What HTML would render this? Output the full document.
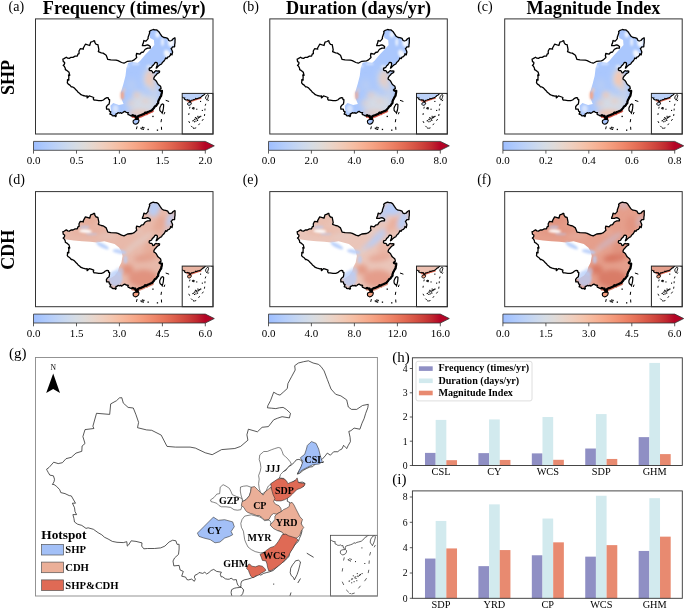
<!DOCTYPE html>
<html><head><meta charset="utf-8"><title>Figure</title>
<style>html,body{margin:0;padding:0;background:#fff;width:685px;height:609px;overflow:hidden}
svg{display:block;font-family:"Liberation Serif","Times New Roman",serif;}</style></head>
<body><svg width="685" height="609" viewBox="0 0 685 609">
<rect width="685" height="609" fill="#fff"/>
<defs>
<linearGradient id="cbgrad" x1="0" y1="0" y2="0" x2="0.9502"><stop offset="0.00" stop-color="#9ebeff"/><stop offset="0.05" stop-color="#aac7fd"/><stop offset="0.10" stop-color="#b6cefa"/><stop offset="0.15" stop-color="#c1d4f4"/><stop offset="0.20" stop-color="#ccd9ed"/><stop offset="0.25" stop-color="#d6dce4"/><stop offset="0.30" stop-color="#dfdbd9"/><stop offset="0.35" stop-color="#e8d6cc"/><stop offset="0.40" stop-color="#efcfbf"/><stop offset="0.45" stop-color="#f3c7b1"/><stop offset="0.50" stop-color="#f6bda2"/><stop offset="0.55" stop-color="#f7b194"/><stop offset="0.60" stop-color="#f6a586"/><stop offset="0.65" stop-color="#f39778"/><stop offset="0.70" stop-color="#ef886b"/><stop offset="0.75" stop-color="#e9785d"/><stop offset="0.80" stop-color="#e16751"/><stop offset="0.85" stop-color="#d75445"/><stop offset="0.90" stop-color="#cc403a"/><stop offset="0.95" stop-color="#c0282f"/><stop offset="1.00" stop-color="#b40426"/></linearGradient>
<clipPath id="cnclip"><path d="M27.4,40.1 28.5,39.7 30.8,38.3 32.2,39.3 33.8,39.5 35.5,38.4 37.5,38.4 39.6,37.3 41.8,37.2 42.4,35.3 43.6,34.7 43.5,32.1 44.8,29.8 47.9,30.2 47.7,29.3 49.9,25.3 54.2,26.6 55.2,23.2 57.3,22.6 58.4,21.8 59.1,21.9 59.4,23.7 60.7,25.4 62.4,25.8 62.9,28.2 63.4,30.9 62.8,32.7 65.8,33.9 67.6,34.2 70.7,36.3 72.3,40.5 75.3,41.0 80.6,41.3 82.5,41.8 86.1,43.6 88.5,44.3 92.0,42.4 96.7,41.9 98.7,41.0 101.2,38.6 100.7,36.6 101.1,34.6 104.3,35.3 105.8,33.6 107.9,33.1 109.5,30.6 110.6,29.9 112.2,29.2 114.7,29.2 114.8,27.6 113.2,26.5 112.1,26.0 110.9,26.3 109.7,26.7 108.3,26.8 106.9,26.8 107.0,26.0 107.7,24.4 108.4,21.6 109.6,22.1 110.5,22.2 111.6,21.0 112.6,19.8 112.6,18.3 113.4,16.1 114.2,13.9 113.9,12.7 114.9,11.8 116.4,11.1 117.8,10.6 119.3,11.0 121.0,11.0 121.9,11.5 123.1,12.5 124.6,14.8 125.6,16.2 126.4,17.4 128.3,18.6 130.1,18.7 132.2,19.5 133.3,21.6 134.5,22.1 136.2,21.6 137.7,19.9 139.4,18.9 139.6,20.1 139.5,22.0 139.5,23.9 139.2,25.6 139.1,27.9 137.1,28.0 136.3,29.2 135.6,29.6 136.6,31.6 137.1,33.1 136.8,34.5 136.5,35.9 136.0,35.5 135.1,34.9 134.9,36.4 134.1,37.1 133.7,37.8 132.2,38.2 131.4,39.7 130.1,39.1 129.6,40.3 128.7,41.9 127.7,42.9 127.0,43.4 126.2,44.7 125.8,45.3 124.9,45.6 123.8,46.4 122.6,47.4 121.5,48.7 120.7,49.2 121.1,47.9 121.5,46.8 121.9,44.8 121.4,43.7 120.3,43.5 119.4,43.8 118.8,44.9 117.8,46.2 116.9,46.8 116.1,48.4 115.0,49.1 114.0,49.1 113.7,49.8 113.7,51.1 114.6,51.7 115.8,51.7 116.8,52.5 117.3,53.9 118.6,53.8 119.4,52.5 120.3,51.8 121.8,52.3 123.1,52.0 124.1,52.2 123.9,53.6 122.2,54.4 121.1,55.4 120.6,56.2 119.8,56.8 118.8,58.2 118.3,59.3 118.5,60.6 119.6,61.0 120.9,62.4 121.9,64.4 122.7,65.5 124.0,66.5 125.1,67.4 125.4,68.7 125.6,69.6 124.4,70.2 123.6,71.1 125.3,71.9 126.5,72.0 126.3,73.8 125.9,75.5 125.7,76.9 124.8,78.1 124.1,79.5 123.3,81.0 122.7,82.7 122.7,84.2 121.6,85.4 120.7,86.9 119.3,87.6 118.5,89.0 117.5,90.2 116.4,91.4 115.0,92.0 113.6,92.6 112.2,93.1 111.0,94.0 109.6,93.6 109.2,94.4 108.3,95.0 106.8,95.6 105.2,96.3 103.5,96.8 102.3,97.5 102.0,98.8 102.2,99.8 101.4,100.0 100.7,99.4 100.1,98.1 99.8,96.9 98.6,97.0 97.3,96.3 96.6,96.7 95.9,96.9 94.7,96.6 93.4,95.8 92.7,95.8 92.3,94.6 92.8,93.7 90.6,93.4 89.3,92.5 88.1,93.0 87.1,93.9 86.0,94.5 85.2,93.7 84.2,94.2 82.5,93.8 81.8,94.6 80.6,94.9 80.3,95.8 80.7,96.7 80.2,97.7 79.0,96.7 77.5,97.0 76.8,96.8 76.2,95.6 74.4,95.2 75.3,93.0 73.9,92.3 73.5,90.2 71.1,90.3 70.9,88.0 71.7,86.7 73.6,85.2 74.0,82.9 74.1,80.8 73.2,80.7 72.9,79.1 71.5,78.8 69.9,79.4 67.9,81.1 66.0,81.7 63.2,81.7 60.2,81.3 58.6,81.3 57.8,80.0 58.2,78.6 55.6,77.6 53.7,77.0 52.2,78.6 51.6,79.0 51.7,77.1 50.2,77.2 47.5,76.6 45.5,75.8 44.0,74.4 42.6,73.4 41.7,72.1 40.4,70.9 38.7,69.0 36.7,67.9 35.8,67.9 34.4,66.2 32.8,65.2 31.8,64.0 32.0,62.4 32.0,60.8 33.4,61.2 33.2,59.7 33.4,58.1 33.0,56.1 34.3,56.5 33.4,53.1 32.7,52.7 31.3,51.5 29.8,50.7 29.8,49.4 29.0,47.8 28.2,46.7 27.7,46.5 28.6,45.7 29.1,44.7 29.1,43.4 27.8,42.7 27.6,41.5 27.4,40.6Z"/></clipPath>
<clipPath id="frameclip"><rect x="0" y="0" width="177.5" height="115.1"/></clipPath>
<clipPath id="insetclip"><rect x="146.7" y="74.5" width="30.8" height="40.6"/></clipPath>
<clipPath id="gclip"><rect x="35.5" y="357.5" width="341.9" height="238.5"/></clipPath>
<clipPath id="gin"><rect x="330.4" y="535.3" width="47.0" height="60.7"/></clipPath>
<filter id="bl1_0" x="-50%" y="-50%" width="200%" height="200%"><feGaussianBlur stdDeviation="1.0"/></filter>
<filter id="bl1_2" x="-50%" y="-50%" width="200%" height="200%"><feGaussianBlur stdDeviation="1.2"/></filter>
<filter id="bl1_5" x="-50%" y="-50%" width="200%" height="200%"><feGaussianBlur stdDeviation="1.5"/></filter>
<filter id="bl1_6" x="-50%" y="-50%" width="200%" height="200%"><feGaussianBlur stdDeviation="1.6"/></filter>
<filter id="bl2_0" x="-50%" y="-50%" width="200%" height="200%"><feGaussianBlur stdDeviation="2.0"/></filter>
<filter id="bl2_5" x="-50%" y="-50%" width="200%" height="200%"><feGaussianBlur stdDeviation="2.5"/></filter>
<filter id="bl3_0" x="-50%" y="-50%" width="200%" height="200%"><feGaussianBlur stdDeviation="3.0"/></filter>
</defs>
<text x="124.2" y="13.5" text-anchor="middle" font-size="18.2" font-weight="bold">Frequency (times/yr)</text>
<text x="358.6" y="13.5" text-anchor="middle" font-size="18.2" font-weight="bold">Duration (days/yr)</text>
<text x="593.5" y="13.5" text-anchor="middle" font-size="18.2" font-weight="bold">Magnitude Index</text>
<text x="8.600000000000001" y="11.3" font-size="14">(a)</text>
<text x="242.70000000000002" y="11.3" font-size="14">(b)</text>
<text x="477.2" y="11.3" font-size="14">(c)</text>
<text x="8.600000000000001" y="184.0" font-size="14">(d)</text>
<text x="242.70000000000002" y="184.0" font-size="14">(e)</text>
<text x="477.2" y="184.0" font-size="14">(f)</text>
<text transform="translate(13.8,77.5) rotate(-90)" text-anchor="middle" font-size="18" font-weight="bold">SHP</text>
<text transform="translate(13.8,249.8) rotate(-90)" text-anchor="middle" font-size="18" font-weight="bold">CDH</text>
<g transform="translate(35.5,18.9)">
<g clip-path="url(#frameclip)">
<g clip-path="url(#cnclip)">
<path d="M104.0,0.0 111.0,5.0 113.5,11.0 114.5,19.0 118.4,21.0 118.8,26.0 115.2,30.1 109.5,36.1 104.5,42.1 102.3,43.9 96.6,43.2 92.8,43.9 90.9,49.2 90.0,56.8 88.1,64.3 85.3,73.8 85.7,79.4 88.1,85.1 83.4,86.0 77.7,84.1 74.9,86.9 75.8,94.5 79.6,98.3 95.0,115.0 170.0,115.0 170.0,0.0Z" fill="#aac7fd"/>
<g filter="url(#bl1_2)">
<ellipse cx="86.8" cy="76.5" rx="1.8" ry="4.2" fill="#f6a586" fill-opacity="0.95" transform="rotate(0 86.8 76.5)"/>
<ellipse cx="88.5" cy="71.0" rx="1.5" ry="2.5" fill="#f3c7b1" fill-opacity="0.6" transform="rotate(0 88.5 71.0)"/>
<ellipse cx="135.7" cy="23.2" rx="3.2" ry="5" fill="#ffffff" fill-opacity="0.9" transform="rotate(0 135.7 23.2)"/>
<ellipse cx="132.0" cy="35.5" rx="3" ry="5" fill="#ffffff" fill-opacity="0.85" transform="rotate(-30 132.0 35.5)"/>
<ellipse cx="122.0" cy="15.5" rx="2" ry="3" fill="#ffffff" fill-opacity="0.85" transform="rotate(0 122.0 15.5)"/>
<ellipse cx="127.0" cy="23.0" rx="1.3" ry="4" fill="#ffffff" fill-opacity="0.8" transform="rotate(0 127.0 23.0)"/>
<ellipse cx="113.5" cy="47.5" rx="2.5" ry="1.5" fill="#ffffff" fill-opacity="0.7" transform="rotate(0 113.5 47.5)"/>
<ellipse cx="100.0" cy="45.0" rx="4" ry="1.2" fill="#ffffff" fill-opacity="0.5" transform="rotate(0 100.0 45.0)"/>
<ellipse cx="80.0" cy="90.0" rx="3" ry="4" fill="#ffffff" fill-opacity="0.5" transform="rotate(0 80.0 90.0)"/>
<ellipse cx="92.0" cy="47.0" rx="1.5" ry="1.5" fill="#ffffff" fill-opacity="0.6" transform="rotate(0 92.0 47.0)"/>
</g>
<g filter="url(#bl3_0)">
<ellipse cx="108.0" cy="86.0" rx="15" ry="10" fill="#d8dce2" fill-opacity="0.9" transform="rotate(0 108.0 86.0)"/>
<ellipse cx="114.0" cy="60.0" rx="6" ry="11" fill="#d8dce2" fill-opacity="0.75" transform="rotate(0 114.0 60.0)"/>
<ellipse cx="104.0" cy="76.0" rx="6" ry="4" fill="#d8dce2" fill-opacity="0.6" transform="rotate(0 104.0 76.0)"/>
<ellipse cx="120.0" cy="74.0" rx="4" ry="8" fill="#d8dce2" fill-opacity="0.6" transform="rotate(0 120.0 74.0)"/>
<ellipse cx="96.0" cy="66.0" rx="5" ry="6" fill="#d8dce2" fill-opacity="0.3" transform="rotate(0 96.0 66.0)"/>
</g>
<g filter="url(#bl2_0)">
<ellipse cx="114.0" cy="59.0" rx="4.5" ry="8" fill="#f3c7b1" fill-opacity="0.75" transform="rotate(10 114.0 59.0)"/>
<ellipse cx="101.0" cy="76.0" rx="3.5" ry="3" fill="#f3c7b1" fill-opacity="0.65" transform="rotate(0 101.0 76.0)"/>
<ellipse cx="104.0" cy="94.0" rx="12" ry="3.5" fill="#f3c7b1" fill-opacity="0.75" transform="rotate(0 104.0 94.0)"/>
<ellipse cx="117.0" cy="67.0" rx="2.5" ry="4" fill="#f3c7b1" fill-opacity="0.5" transform="rotate(0 117.0 67.0)"/>
<ellipse cx="95.0" cy="84.0" rx="4" ry="3" fill="#f3c7b1" fill-opacity="0.4" transform="rotate(0 95.0 84.0)"/>
<ellipse cx="110.0" cy="82.0" rx="4" ry="3" fill="#f3c7b1" fill-opacity="0.35" transform="rotate(0 110.0 82.0)"/>
</g>
</g>
<path d="M117.5,90.2 116.4,91.4 115.0,92.0 113.6,92.6 112.2,93.1 111.0,94.0 109.6,93.6 109.2,94.4 108.3,95.0 106.8,95.6 105.2,96.3 103.5,96.8 102.3,97.5 102.0,98.8 102.2,99.8 101.4,100.0 100.7,99.4 100.1,98.1 99.8,96.9 98.6,97.0 97.3,96.3 96.6,96.7 95.9,96.9" fill="none" stroke="#d75445" stroke-width="2.6" stroke-linejoin="round" transform="translate(0.2,1.0)"/>
<path d="M97.6,102.8 97.8,101.6 99.0,100.9 100.0,100.6 101.5,100.4 102.5,100.3 103.5,101.4 103.1,103.1 102.4,104.1 101.2,105.0 99.9,105.3 98.7,104.8 97.9,104.1Z" fill="#aac7fd" stroke="#000" stroke-width="1.1"/>
<path d="M27.4,40.1 28.5,39.7 30.8,38.3 32.2,39.3 33.8,39.5 35.5,38.4 37.5,38.4 39.6,37.3 41.8,37.2 42.4,35.3 43.6,34.7 43.5,32.1 44.8,29.8 47.9,30.2 47.7,29.3 49.9,25.3 54.2,26.6 55.2,23.2 57.3,22.6 58.4,21.8 59.1,21.9 59.4,23.7 60.7,25.4 62.4,25.8 62.9,28.2 63.4,30.9 62.8,32.7 65.8,33.9 67.6,34.2 70.7,36.3 72.3,40.5 75.3,41.0 80.6,41.3 82.5,41.8 86.1,43.6 88.5,44.3 92.0,42.4 96.7,41.9 98.7,41.0 101.2,38.6 100.7,36.6 101.1,34.6 104.3,35.3 105.8,33.6 107.9,33.1 109.5,30.6 110.6,29.9 112.2,29.2 114.7,29.2 114.8,27.6 113.2,26.5 112.1,26.0 110.9,26.3 109.7,26.7 108.3,26.8 106.9,26.8 107.0,26.0 107.7,24.4 108.4,21.6 109.6,22.1 110.5,22.2 111.6,21.0 112.6,19.8 112.6,18.3 113.4,16.1 114.2,13.9 113.9,12.7 114.9,11.8 116.4,11.1 117.8,10.6 119.3,11.0 121.0,11.0 121.9,11.5 123.1,12.5 124.6,14.8 125.6,16.2 126.4,17.4 128.3,18.6 130.1,18.7 132.2,19.5 133.3,21.6 134.5,22.1 136.2,21.6 137.7,19.9 139.4,18.9 139.6,20.1 139.5,22.0 139.5,23.9 139.2,25.6 139.1,27.9 137.1,28.0 136.3,29.2 135.6,29.6 136.6,31.6 137.1,33.1 136.8,34.5 136.5,35.9 136.0,35.5 135.1,34.9 134.9,36.4 134.1,37.1 133.7,37.8 132.2,38.2 131.4,39.7 130.1,39.1 129.6,40.3 128.7,41.9 127.7,42.9 127.0,43.4 126.2,44.7 125.8,45.3 124.9,45.6 123.8,46.4 122.6,47.4 121.5,48.7 120.7,49.2 121.1,47.9 121.5,46.8 121.9,44.8 121.4,43.7 120.3,43.5 119.4,43.8 118.8,44.9 117.8,46.2 116.9,46.8 116.1,48.4 115.0,49.1 114.0,49.1 113.7,49.8 113.7,51.1 114.6,51.7 115.8,51.7 116.8,52.5 117.3,53.9 118.6,53.8 119.4,52.5 120.3,51.8 121.8,52.3 123.1,52.0 124.1,52.2 123.9,53.6 122.2,54.4 121.1,55.4 120.6,56.2 119.8,56.8 118.8,58.2 118.3,59.3 118.5,60.6 119.6,61.0 120.9,62.4 121.9,64.4 122.7,65.5 124.0,66.5 125.1,67.4 125.4,68.7 125.6,69.6 124.4,70.2 123.6,71.1 125.3,71.9 126.5,72.0 126.3,73.8 125.9,75.5 125.7,76.9 124.8,78.1 124.1,79.5 123.3,81.0 122.7,82.7 122.7,84.2 121.6,85.4 120.7,86.9 119.3,87.6 118.5,89.0 117.5,90.2 116.4,91.4 115.0,92.0 113.6,92.6 112.2,93.1 111.0,94.0 109.6,93.6 109.2,94.4 108.3,95.0 106.8,95.6 105.2,96.3 103.5,96.8 102.3,97.5 102.0,98.8 102.2,99.8 101.4,100.0 100.7,99.4 100.1,98.1 99.8,96.9 98.6,97.0 97.3,96.3 96.6,96.7 95.9,96.9 94.7,96.6 93.4,95.8 92.7,95.8 92.3,94.6 92.8,93.7 90.6,93.4 89.3,92.5 88.1,93.0 87.1,93.9 86.0,94.5 85.2,93.7 84.2,94.2 82.5,93.8 81.8,94.6 80.6,94.9 80.3,95.8 80.7,96.7 80.2,97.7 79.0,96.7 77.5,97.0 76.8,96.8 76.2,95.6 74.4,95.2 75.3,93.0 73.9,92.3 73.5,90.2 71.1,90.3 70.9,88.0 71.7,86.7 73.6,85.2 74.0,82.9 74.1,80.8 73.2,80.7 72.9,79.1 71.5,78.8 69.9,79.4 67.9,81.1 66.0,81.7 63.2,81.7 60.2,81.3 58.6,81.3 57.8,80.0 58.2,78.6 55.6,77.6 53.7,77.0 52.2,78.6 51.6,79.0 51.7,77.1 50.2,77.2 47.5,76.6 45.5,75.8 44.0,74.4 42.6,73.4 41.7,72.1 40.4,70.9 38.7,69.0 36.7,67.9 35.8,67.9 34.4,66.2 32.8,65.2 31.8,64.0 32.0,62.4 32.0,60.8 33.4,61.2 33.2,59.7 33.4,58.1 33.0,56.1 34.3,56.5 33.4,53.1 32.7,52.7 31.3,51.5 29.8,50.7 29.8,49.4 29.0,47.8 28.2,46.7 27.7,46.5 28.6,45.7 29.1,44.7 29.1,43.4 27.8,42.7 27.6,41.5 27.4,40.6Z" fill="none" stroke="#000" stroke-width="1.3" stroke-linejoin="round"/>
<path d="M123.6,71.1 125.3,71.9 126.5,72.0 126.3,73.8 125.9,75.5 125.7,76.9 124.8,78.1 124.1,79.5 123.3,81.0 122.7,82.7 122.7,84.2 121.6,85.4 120.7,86.9 119.3,87.6 118.5,89.0 117.5,90.2 116.4,91.4 115.0,92.0 113.6,92.6 112.2,93.1 111.0,94.0 109.6,93.6 109.2,94.4 108.3,95.0 106.8,95.6 105.2,96.3 103.5,96.8 102.3,97.5 102.0,98.8 102.2,99.8 101.4,100.0 100.7,99.4 100.1,98.1 99.8,96.9 98.6,97.0 97.3,96.3 96.6,96.7 95.9,96.9" fill="none" stroke="#000" stroke-width="2.2" stroke-linejoin="round"/>
<path d="M125.8,85.6 127.1,85.1 128.1,85.7 128.1,87.1 127.9,89.5 127.5,91.6 126.7,94.2 126.1,93.2 125.0,92.5 124.3,91.3 124.2,89.3 124.8,87.6 125.6,86.3Z" fill="none" stroke="#000" stroke-width="1.2"/>
<path d="M101.6,107.5 100.9,110.3" stroke="#000" stroke-width="1" fill="none"/>
<path d="M100.5,117.3 100.1,120.3" stroke="#000" stroke-width="1" fill="none"/>
<path d="M100.5,129.6 102.3,132.4" stroke="#000" stroke-width="1" fill="none"/>
<path d="M105.1,136.5 108.1,138.7" stroke="#000" stroke-width="1" fill="none"/>
<path d="M111.0,139.9 114.4,138.6" stroke="#000" stroke-width="1" fill="none"/>
<path d="M118.0,134.3 120.0,131.6" stroke="#000" stroke-width="1" fill="none"/>
<path d="M123.7,127.1 125.5,124.2" stroke="#000" stroke-width="1" fill="none"/>
<path d="M126.5,119.3 126.6,116.3" stroke="#000" stroke-width="1" fill="none"/>
<path d="M126.1,110.9 125.9,107.9" stroke="#000" stroke-width="1" fill="none"/>
<path d="M125.5,103.3 126.0,100.2" stroke="#000" stroke-width="1" fill="none"/>
<path d="M128.5,95.4 129.4,93.1" stroke="#000" stroke-width="1" fill="none"/>
<path d="M130.2,81.4 133.6,82.6" stroke="#000" stroke-width="1" fill="none"/>
<rect x="104.9" y="108.7" width="1.3" height="1.3" fill="#000"/>
<rect x="106.4" y="107.8" width="1.3" height="1.3" fill="#000"/>
<rect x="107.1" y="109.8" width="1.3" height="1.3" fill="#000"/>
<rect x="105.8" y="109.4" width="1.3" height="1.3" fill="#000"/>
<rect x="107.7" y="108.2" width="1.3" height="1.3" fill="#000"/>
<rect x="112.0" y="109.9" width="1.3" height="1.3" fill="#000"/>
<rect x="121.3" y="110.6" width="1.3" height="1.3" fill="#000"/>
<rect x="116.8" y="96.9" width="1.3" height="1.3" fill="#000"/>
<rect x="109.0" y="138.9" width="1.3" height="1.3" fill="#000"/>
<rect x="107.1" y="128.1" width="1.3" height="1.3" fill="#000"/>
<rect x="109.9" y="125.7" width="1.3" height="1.3" fill="#000"/>
<rect x="113.1" y="123.7" width="1.3" height="1.3" fill="#000"/>
<rect x="114.0" y="125.1" width="1.3" height="1.3" fill="#000"/>
<rect x="116.0" y="123.2" width="1.3" height="1.3" fill="#000"/>
<rect x="117.3" y="121.8" width="1.3" height="1.3" fill="#000"/>
<rect x="118.3" y="121.2" width="1.3" height="1.3" fill="#000"/>
<rect x="115.0" y="126.9" width="1.3" height="1.3" fill="#000"/>
<rect x="112.4" y="128.1" width="1.3" height="1.3" fill="#000"/>
<rect x="109.9" y="129.3" width="1.3" height="1.3" fill="#000"/>
<rect x="114.9" y="120.6" width="1.3" height="1.3" fill="#000"/>
<rect x="119.8" y="120.0" width="1.3" height="1.3" fill="#000"/>
<rect x="111.1" y="122.9" width="1.3" height="1.3" fill="#000"/>
</g>
<g clip-path="url(#insetclip)">
<rect x="146.7" y="74.5" width="30.8" height="40.6" fill="#fff"/>
<path d="M95.9,52.5 96.6,52.1 98.1,50.8 99.4,51.1 100.7,50.9 101.8,50.0 103.4,49.7 104.9,48.7 106.6,48.3 106.7,47.1 107.6,46.6 107.0,45.1 107.6,43.5 110.3,43.3 110.0,42.8 111.1,40.1 115.1,40.3 115.4,38.2 117.2,37.5 118.1,37.0 118.8,36.9 119.3,38.0 120.7,38.9 122.3,39.0 123.1,40.4 123.9,42.0 123.6,43.1 126.3,43.6 127.9,43.7 130.8,44.7 132.6,47.2 135.1,47.4 139.6,47.4 141.2,47.6 144.2,48.7 146.3,49.1 149.2,47.9 153.2,47.7 155.0,47.2 157.2,45.9 156.9,44.7 157.4,43.5 160.1,44.0 161.5,43.1 163.4,42.9 165.0,41.5 166.2,41.1 167.6,40.8 169.8,41.1 170.2,40.1 168.9,39.3 167.9,38.9 166.8,39.0 165.7,39.1 164.4,39.1 163.1,39.0 163.3,38.5 164.1,37.5 165.0,35.9 166.2,36.3 167.0,36.4 168.1,35.8 169.2,35.1 169.4,34.2 170.5,32.9 171.6,31.6 171.4,30.8 172.6,30.3 174.2,30.1 175.6,29.9 177.0,30.3 178.6,30.6 179.4,31.0 180.4,31.8 181.4,33.4 182.0,34.4 182.5,35.2 183.9,36.3 185.5,36.6 187.3,37.4 187.8,38.8 188.7,39.3 190.3,39.3 192.1,38.5 193.8,38.3 193.7,39.0 193.0,40.1 192.6,41.2 191.9,42.2 191.3,43.5 189.5,43.2 188.6,43.8 187.9,43.9 188.3,45.2 188.4,46.2 187.8,47.0 187.3,47.7 187.0,47.5 186.3,47.0 185.8,47.8 185.0,48.1 184.6,48.4 183.3,48.5 182.3,49.2 181.4,48.7 180.7,49.4 179.8,50.2 178.8,50.7 178.2,50.9 177.3,51.5 176.9,51.9 176.1,51.9 175.1,52.3 174.0,52.7 173.0,53.4 172.2,53.6 172.7,52.9 173.2,52.3 173.8,51.1 173.5,50.4 172.7,50.2 171.9,50.3 171.3,50.9 170.3,51.5 169.5,51.9 168.7,52.7 167.8,53.1 167.0,53.0 166.6,53.4 166.5,54.2 167.1,54.6 168.1,54.7 168.8,55.2 169.0,56.1 170.0,56.2 170.8,55.5 171.6,55.1 172.7,55.6 173.8,55.5 174.5,55.8 174.2,56.6 172.7,56.9 171.8,57.4 171.3,57.8 170.6,58.1 169.7,58.8 169.2,59.5 169.2,60.3 170.0,60.6 170.8,61.5 171.3,62.8 171.8,63.5 172.6,64.3 173.3,64.9 173.4,65.7 173.4,66.3 172.4,66.5 171.8,67.0 172.9,67.6 173.7,67.8 173.4,68.9 172.9,69.9 172.6,70.7 171.8,71.3 171.1,72.1 170.5,72.9 169.8,73.9 169.7,74.8 168.9,75.5 168.1,76.3 167.1,76.6 166.5,77.4 165.7,78.0 164.9,78.7 163.9,79.0 163.0,79.2 162.0,79.5 161.1,79.9 160.2,79.6 159.9,80.1 159.3,80.4 158.3,80.7 157.2,81.1 156.1,81.3 155.3,81.7 155.0,82.5 155.1,83.1 154.6,83.2 154.2,82.8 153.8,82.0 153.7,81.2 152.9,81.3 152.1,80.8 151.6,81.1 151.1,81.1 150.3,81.0 149.5,80.4 149.0,80.4 148.8,79.7 149.1,79.1 147.7,78.9 146.8,78.3 146.0,78.7 145.4,79.2 144.6,79.6 144.1,79.1 143.4,79.5 142.3,79.2 141.8,79.7 141.1,79.9 140.9,80.5 141.2,81.1 140.9,81.7 140.1,81.1 139.1,81.3 138.6,81.2 138.2,80.5 137.0,80.3 137.5,78.9 136.6,78.5 136.2,77.2 134.6,77.4 134.4,76.0 134.9,75.1 136.1,74.2 136.2,72.7 136.2,71.5 135.6,71.5 135.3,70.5 134.3,70.3 133.2,70.8 131.9,71.9 130.6,72.4 128.7,72.6 126.6,72.6 125.5,72.7 124.9,71.9 125.0,71.1 123.1,70.7 121.7,70.5 120.9,71.6 120.5,71.9 120.3,70.7 119.3,71.0 117.4,70.9 115.9,70.7 114.6,70.0 113.5,69.5 112.7,68.9 111.6,68.3 110.2,67.5 108.6,67.1 107.9,67.2 106.6,66.4 105.4,66.1 104.4,65.5 104.2,64.6 103.9,63.6 105.0,63.6 104.6,62.8 104.4,61.9 103.8,60.7 104.7,60.7 103.4,58.9 102.8,58.8 101.5,58.3 100.2,58.1 99.9,57.4 99.0,56.6 98.2,56.1 97.7,56.1 98.2,55.5 98.3,54.8 98.0,54.0 96.9,53.9 96.4,53.2 96.1,52.7Z" fill="#bbd1f8" stroke="none"/>
<path d="M165.7,78.0 164.9,78.7 163.9,79.0 163.0,79.2 162.0,79.5 161.1,79.9 160.2,79.6 159.9,80.1 159.3,80.4 158.3,80.7 157.2,81.1 156.1,81.3 155.3,81.7 155.0,82.5 155.1,83.1 154.6,83.2 154.2,82.8 153.8,82.0 153.7,81.2 152.9,81.3 152.1,80.8 151.6,81.1 151.1,81.1" fill="none" stroke="#e16751" stroke-width="1.6" transform="translate(0,0.7)"/>
<path d="M95.9,52.5 96.6,52.1 98.1,50.8 99.4,51.1 100.7,50.9 101.8,50.0 103.4,49.7 104.9,48.7 106.6,48.3 106.7,47.1 107.6,46.6 107.0,45.1 107.6,43.5 110.3,43.3 110.0,42.8 111.1,40.1 115.1,40.3 115.4,38.2 117.2,37.5 118.1,37.0 118.8,36.9 119.3,38.0 120.7,38.9 122.3,39.0 123.1,40.4 123.9,42.0 123.6,43.1 126.3,43.6 127.9,43.7 130.8,44.7 132.6,47.2 135.1,47.4 139.6,47.4 141.2,47.6 144.2,48.7 146.3,49.1 149.2,47.9 153.2,47.7 155.0,47.2 157.2,45.9 156.9,44.7 157.4,43.5 160.1,44.0 161.5,43.1 163.4,42.9 165.0,41.5 166.2,41.1 167.6,40.8 169.8,41.1 170.2,40.1 168.9,39.3 167.9,38.9 166.8,39.0 165.7,39.1 164.4,39.1 163.1,39.0 163.3,38.5 164.1,37.5 165.0,35.9 166.2,36.3 167.0,36.4 168.1,35.8 169.2,35.1 169.4,34.2 170.5,32.9 171.6,31.6 171.4,30.8 172.6,30.3 174.2,30.1 175.6,29.9 177.0,30.3 178.6,30.6 179.4,31.0 180.4,31.8 181.4,33.4 182.0,34.4 182.5,35.2 183.9,36.3 185.5,36.6 187.3,37.4 187.8,38.8 188.7,39.3 190.3,39.3 192.1,38.5 193.8,38.3 193.7,39.0 193.0,40.1 192.6,41.2 191.9,42.2 191.3,43.5 189.5,43.2 188.6,43.8 187.9,43.9 188.3,45.2 188.4,46.2 187.8,47.0 187.3,47.7 187.0,47.5 186.3,47.0 185.8,47.8 185.0,48.1 184.6,48.4 183.3,48.5 182.3,49.2 181.4,48.7 180.7,49.4 179.8,50.2 178.8,50.7 178.2,50.9 177.3,51.5 176.9,51.9 176.1,51.9 175.1,52.3 174.0,52.7 173.0,53.4 172.2,53.6 172.7,52.9 173.2,52.3 173.8,51.1 173.5,50.4 172.7,50.2 171.9,50.3 171.3,50.9 170.3,51.5 169.5,51.9 168.7,52.7 167.8,53.1 167.0,53.0 166.6,53.4 166.5,54.2 167.1,54.6 168.1,54.7 168.8,55.2 169.0,56.1 170.0,56.2 170.8,55.5 171.6,55.1 172.7,55.6 173.8,55.5 174.5,55.8 174.2,56.6 172.7,56.9 171.8,57.4 171.3,57.8 170.6,58.1 169.7,58.8 169.2,59.5 169.2,60.3 170.0,60.6 170.8,61.5 171.3,62.8 171.8,63.5 172.6,64.3 173.3,64.9 173.4,65.7 173.4,66.3 172.4,66.5 171.8,67.0 172.9,67.6 173.7,67.8 173.4,68.9 172.9,69.9 172.6,70.7 171.8,71.3 171.1,72.1 170.5,72.9 169.8,73.9 169.7,74.8 168.9,75.5 168.1,76.3 167.1,76.6 166.5,77.4 165.7,78.0 164.9,78.7 163.9,79.0 163.0,79.2 162.0,79.5 161.1,79.9 160.2,79.6 159.9,80.1 159.3,80.4 158.3,80.7 157.2,81.1 156.1,81.3 155.3,81.7 155.0,82.5 155.1,83.1 154.6,83.2 154.2,82.8 153.8,82.0 153.7,81.2 152.9,81.3 152.1,80.8 151.6,81.1 151.1,81.1 150.3,81.0 149.5,80.4 149.0,80.4 148.8,79.7 149.1,79.1 147.7,78.9 146.8,78.3 146.0,78.7 145.4,79.2 144.6,79.6 144.1,79.1 143.4,79.5 142.3,79.2 141.8,79.7 141.1,79.9 140.9,80.5 141.2,81.1 140.9,81.7 140.1,81.1 139.1,81.3 138.6,81.2 138.2,80.5 137.0,80.3 137.5,78.9 136.6,78.5 136.2,77.2 134.6,77.4 134.4,76.0 134.9,75.1 136.1,74.2 136.2,72.7 136.2,71.5 135.6,71.5 135.3,70.5 134.3,70.3 133.2,70.8 131.9,71.9 130.6,72.4 128.7,72.6 126.6,72.6 125.5,72.7 124.9,71.9 125.0,71.1 123.1,70.7 121.7,70.5 120.9,71.6 120.5,71.9 120.3,70.7 119.3,71.0 117.4,70.9 115.9,70.7 114.6,70.0 113.5,69.5 112.7,68.9 111.6,68.3 110.2,67.5 108.6,67.1 107.9,67.2 106.6,66.4 105.4,66.1 104.4,65.5 104.2,64.6 103.9,63.6 105.0,63.6 104.6,62.8 104.4,61.9 103.8,60.7 104.7,60.7 103.4,58.9 102.8,58.8 101.5,58.3 100.2,58.1 99.9,57.4 99.0,56.6 98.2,56.1 97.7,56.1 98.2,55.5 98.3,54.8 98.0,54.0 96.9,53.9 96.4,53.2 96.1,52.7Z" fill="none" stroke="#000" stroke-width="1.1"/>
<path d="M152.1,84.9 152.2,84.1 153.0,83.7 153.7,83.5 154.6,83.5 155.3,83.5 155.9,84.2 155.6,85.2 155.1,85.9 154.3,86.3 153.5,86.5 152.7,86.2 152.2,85.7Z" fill="#ccd9ed" stroke="#000" stroke-width="0.9"/>
<path d="M171.7,75.9 172.6,75.8 173.2,76.3 173.0,77.1 172.6,78.5 172.2,79.8 171.4,81.3 171.0,80.6 170.4,80.1 170.1,79.3 170.2,78.0 170.8,77.1 171.4,76.3Z" fill="none" stroke="#000" stroke-width="0.9"/>
<path d="M154.5,87.9 154.0,89.7" stroke="#000" stroke-width="0.9" fill="none"/>
<path d="M153.5,94.2 153.2,96.1" stroke="#000" stroke-width="0.9" fill="none"/>
<path d="M153.2,102.2 154.2,104.1" stroke="#000" stroke-width="0.9" fill="none"/>
<path d="M155.6,107.0 157.2,108.6" stroke="#000" stroke-width="0.9" fill="none"/>
<path d="M158.8,109.5 160.7,108.9" stroke="#000" stroke-width="0.9" fill="none"/>
<path d="M163.0,106.2 164.2,104.6" stroke="#000" stroke-width="0.9" fill="none"/>
<path d="M166.6,101.9 167.9,100.1" stroke="#000" stroke-width="0.9" fill="none"/>
<path d="M168.9,97.1 169.2,95.1" stroke="#000" stroke-width="0.9" fill="none"/>
<path d="M169.4,91.6 169.5,89.7" stroke="#000" stroke-width="0.9" fill="none"/>
<path d="M169.7,86.8 170.3,84.9" stroke="#000" stroke-width="0.9" fill="none"/>
<path d="M172.4,82.2 173.2,80.9" stroke="#000" stroke-width="0.9" fill="none"/>
<path d="M175.1,73.9 177.2,75.0" stroke="#000" stroke-width="0.9" fill="none"/>
<rect x="156.4" y="88.7" width="1.1" height="1.1" fill="#000"/>
<rect x="157.3" y="88.2" width="1.1" height="1.1" fill="#000"/>
<rect x="157.7" y="89.5" width="1.1" height="1.1" fill="#000"/>
<rect x="156.9" y="89.2" width="1.1" height="1.1" fill="#000"/>
<rect x="158.1" y="88.6" width="1.1" height="1.1" fill="#000"/>
<rect x="160.7" y="89.8" width="1.1" height="1.1" fill="#000"/>
<rect x="166.3" y="91.0" width="1.1" height="1.1" fill="#000"/>
<rect x="164.5" y="82.0" width="1.1" height="1.1" fill="#000"/>
<rect x="157.5" y="108.7" width="1.1" height="1.1" fill="#000"/>
<rect x="156.9" y="101.4" width="1.1" height="1.1" fill="#000"/>
<rect x="158.6" y="99.9" width="1.1" height="1.1" fill="#000"/>
<rect x="160.5" y="98.8" width="1.1" height="1.1" fill="#000"/>
<rect x="161.0" y="99.8" width="1.1" height="1.1" fill="#000"/>
<rect x="162.3" y="98.6" width="1.1" height="1.1" fill="#000"/>
<rect x="163.1" y="97.8" width="1.1" height="1.1" fill="#000"/>
<rect x="163.7" y="97.5" width="1.1" height="1.1" fill="#000"/>
<rect x="161.5" y="101.0" width="1.1" height="1.1" fill="#000"/>
<rect x="159.9" y="101.7" width="1.1" height="1.1" fill="#000"/>
<rect x="158.5" y="102.3" width="1.1" height="1.1" fill="#000"/>
<rect x="161.8" y="96.9" width="1.1" height="1.1" fill="#000"/>
<rect x="164.7" y="96.9" width="1.1" height="1.1" fill="#000"/>
<rect x="159.4" y="98.2" width="1.1" height="1.1" fill="#000"/>
<path d="M157.4,101.9 159.1,100.7" stroke="#000" stroke-width="0.8" stroke-dasharray="1.2 0.8" fill="none"/>
<path d="M159.1,100.7 160.7,99.8" stroke="#000" stroke-width="0.8" stroke-dasharray="1.2 0.8" fill="none"/>
<path d="M160.7,99.8 162.3,98.8" stroke="#000" stroke-width="0.8" stroke-dasharray="1.2 0.8" fill="none"/>
<path d="M162.3,98.8 163.9,98.0" stroke="#000" stroke-width="0.8" stroke-dasharray="1.2 0.8" fill="none"/>
<path d="M163.9,98.0 165.2,97.4" stroke="#000" stroke-width="0.8" stroke-dasharray="1.2 0.8" fill="none"/>
</g>
<rect x="146.7" y="74.5" width="30.8" height="40.6" fill="none" stroke="#222" stroke-width="1"/>
<rect x="0" y="0" width="177.5" height="115.1" fill="none" stroke="#333" stroke-width="1"/>
</g>
<path d="M33.5,141.4 H205.3 L214.3,145.85 L205.3,150.3 H33.5Z" fill="url(#cbgrad)" stroke="#333" stroke-width="0.8"/>
<line x1="33.5" y1="150.3" x2="33.5" y2="153.60000000000002" stroke="#333" stroke-width="0.8"/>
<text x="33.5" y="164.2" text-anchor="middle" font-size="11">0.0</text>
<line x1="76.5" y1="150.3" x2="76.5" y2="153.60000000000002" stroke="#333" stroke-width="0.8"/>
<text x="76.5" y="164.2" text-anchor="middle" font-size="11">0.5</text>
<line x1="119.4" y1="150.3" x2="119.4" y2="153.60000000000002" stroke="#333" stroke-width="0.8"/>
<text x="119.4" y="164.2" text-anchor="middle" font-size="11">1.0</text>
<line x1="162.4" y1="150.3" x2="162.4" y2="153.60000000000002" stroke="#333" stroke-width="0.8"/>
<text x="162.4" y="164.2" text-anchor="middle" font-size="11">1.5</text>
<line x1="205.3" y1="150.3" x2="205.3" y2="153.60000000000002" stroke="#333" stroke-width="0.8"/>
<text x="205.3" y="164.2" text-anchor="middle" font-size="11">2.0</text>
<g transform="translate(269.8,18.9)">
<g clip-path="url(#frameclip)">
<g clip-path="url(#cnclip)">
<path d="M104.0,0.0 111.0,5.0 113.5,11.0 114.5,19.0 118.4,21.0 118.8,26.0 115.2,30.1 109.5,36.1 104.5,42.1 102.3,43.9 96.6,43.2 92.8,43.9 90.9,49.2 90.0,56.8 88.1,64.3 85.3,73.8 85.7,79.4 88.1,85.1 83.4,86.0 77.7,84.1 74.9,86.9 75.8,94.5 79.6,98.3 95.0,115.0 170.0,115.0 170.0,0.0Z" fill="#aac7fd"/>
<g filter="url(#bl1_2)">
<ellipse cx="86.8" cy="76.5" rx="1.8" ry="4.2" fill="#f6a586" fill-opacity="0.7124999999999999" transform="rotate(0 86.8 76.5)"/>
<ellipse cx="88.5" cy="71.0" rx="1.5" ry="2.5" fill="#f3c7b1" fill-opacity="0.44999999999999996" transform="rotate(0 88.5 71.0)"/>
<ellipse cx="135.7" cy="23.2" rx="3.2" ry="5" fill="#ffffff" fill-opacity="0.9" transform="rotate(0 135.7 23.2)"/>
<ellipse cx="132.0" cy="35.5" rx="3" ry="5" fill="#ffffff" fill-opacity="0.85" transform="rotate(-30 132.0 35.5)"/>
<ellipse cx="122.0" cy="15.5" rx="2" ry="3" fill="#ffffff" fill-opacity="0.85" transform="rotate(0 122.0 15.5)"/>
<ellipse cx="127.0" cy="23.0" rx="1.3" ry="4" fill="#ffffff" fill-opacity="0.8" transform="rotate(0 127.0 23.0)"/>
<ellipse cx="113.5" cy="47.5" rx="2.5" ry="1.5" fill="#ffffff" fill-opacity="0.7" transform="rotate(0 113.5 47.5)"/>
<ellipse cx="100.0" cy="45.0" rx="4" ry="1.2" fill="#ffffff" fill-opacity="0.5" transform="rotate(0 100.0 45.0)"/>
<ellipse cx="80.0" cy="90.0" rx="3" ry="4" fill="#ffffff" fill-opacity="0.5" transform="rotate(0 80.0 90.0)"/>
<ellipse cx="92.0" cy="47.0" rx="1.5" ry="1.5" fill="#ffffff" fill-opacity="0.6" transform="rotate(0 92.0 47.0)"/>
</g>
<g filter="url(#bl3_0)">
<ellipse cx="108.0" cy="86.0" rx="15" ry="10" fill="#d8dce2" fill-opacity="0.9" transform="rotate(0 108.0 86.0)"/>
<ellipse cx="114.0" cy="60.0" rx="6" ry="11" fill="#d8dce2" fill-opacity="0.75" transform="rotate(0 114.0 60.0)"/>
<ellipse cx="104.0" cy="76.0" rx="6" ry="4" fill="#d8dce2" fill-opacity="0.6" transform="rotate(0 104.0 76.0)"/>
<ellipse cx="120.0" cy="74.0" rx="4" ry="8" fill="#d8dce2" fill-opacity="0.6" transform="rotate(0 120.0 74.0)"/>
<ellipse cx="96.0" cy="66.0" rx="5" ry="6" fill="#d8dce2" fill-opacity="0.3" transform="rotate(0 96.0 66.0)"/>
</g>
<g filter="url(#bl2_0)">
<ellipse cx="114.0" cy="59.0" rx="4.5" ry="8" fill="#f3c7b1" fill-opacity="0.5625" transform="rotate(10 114.0 59.0)"/>
<ellipse cx="101.0" cy="76.0" rx="3.5" ry="3" fill="#f3c7b1" fill-opacity="0.48750000000000004" transform="rotate(0 101.0 76.0)"/>
<ellipse cx="104.0" cy="94.0" rx="12" ry="3.5" fill="#f3c7b1" fill-opacity="0.5625" transform="rotate(0 104.0 94.0)"/>
<ellipse cx="117.0" cy="67.0" rx="2.5" ry="4" fill="#f3c7b1" fill-opacity="0.375" transform="rotate(0 117.0 67.0)"/>
<ellipse cx="95.0" cy="84.0" rx="4" ry="3" fill="#f3c7b1" fill-opacity="0.30000000000000004" transform="rotate(0 95.0 84.0)"/>
<ellipse cx="110.0" cy="82.0" rx="4" ry="3" fill="#f3c7b1" fill-opacity="0.26249999999999996" transform="rotate(0 110.0 82.0)"/>
</g>
</g>
<path d="M117.5,90.2 116.4,91.4 115.0,92.0 113.6,92.6 112.2,93.1 111.0,94.0 109.6,93.6 109.2,94.4 108.3,95.0 106.8,95.6 105.2,96.3 103.5,96.8 102.3,97.5 102.0,98.8 102.2,99.8 101.4,100.0 100.7,99.4 100.1,98.1 99.8,96.9 98.6,97.0 97.3,96.3 96.6,96.7 95.9,96.9" fill="none" stroke="#d75445" stroke-width="2.6" stroke-linejoin="round" transform="translate(0.2,1.0)"/>
<path d="M97.6,102.8 97.8,101.6 99.0,100.9 100.0,100.6 101.5,100.4 102.5,100.3 103.5,101.4 103.1,103.1 102.4,104.1 101.2,105.0 99.9,105.3 98.7,104.8 97.9,104.1Z" fill="#aac7fd" stroke="#000" stroke-width="1.1"/>
<path d="M27.4,40.1 28.5,39.7 30.8,38.3 32.2,39.3 33.8,39.5 35.5,38.4 37.5,38.4 39.6,37.3 41.8,37.2 42.4,35.3 43.6,34.7 43.5,32.1 44.8,29.8 47.9,30.2 47.7,29.3 49.9,25.3 54.2,26.6 55.2,23.2 57.3,22.6 58.4,21.8 59.1,21.9 59.4,23.7 60.7,25.4 62.4,25.8 62.9,28.2 63.4,30.9 62.8,32.7 65.8,33.9 67.6,34.2 70.7,36.3 72.3,40.5 75.3,41.0 80.6,41.3 82.5,41.8 86.1,43.6 88.5,44.3 92.0,42.4 96.7,41.9 98.7,41.0 101.2,38.6 100.7,36.6 101.1,34.6 104.3,35.3 105.8,33.6 107.9,33.1 109.5,30.6 110.6,29.9 112.2,29.2 114.7,29.2 114.8,27.6 113.2,26.5 112.1,26.0 110.9,26.3 109.7,26.7 108.3,26.8 106.9,26.8 107.0,26.0 107.7,24.4 108.4,21.6 109.6,22.1 110.5,22.2 111.6,21.0 112.6,19.8 112.6,18.3 113.4,16.1 114.2,13.9 113.9,12.7 114.9,11.8 116.4,11.1 117.8,10.6 119.3,11.0 121.0,11.0 121.9,11.5 123.1,12.5 124.6,14.8 125.6,16.2 126.4,17.4 128.3,18.6 130.1,18.7 132.2,19.5 133.3,21.6 134.5,22.1 136.2,21.6 137.7,19.9 139.4,18.9 139.6,20.1 139.5,22.0 139.5,23.9 139.2,25.6 139.1,27.9 137.1,28.0 136.3,29.2 135.6,29.6 136.6,31.6 137.1,33.1 136.8,34.5 136.5,35.9 136.0,35.5 135.1,34.9 134.9,36.4 134.1,37.1 133.7,37.8 132.2,38.2 131.4,39.7 130.1,39.1 129.6,40.3 128.7,41.9 127.7,42.9 127.0,43.4 126.2,44.7 125.8,45.3 124.9,45.6 123.8,46.4 122.6,47.4 121.5,48.7 120.7,49.2 121.1,47.9 121.5,46.8 121.9,44.8 121.4,43.7 120.3,43.5 119.4,43.8 118.8,44.9 117.8,46.2 116.9,46.8 116.1,48.4 115.0,49.1 114.0,49.1 113.7,49.8 113.7,51.1 114.6,51.7 115.8,51.7 116.8,52.5 117.3,53.9 118.6,53.8 119.4,52.5 120.3,51.8 121.8,52.3 123.1,52.0 124.1,52.2 123.9,53.6 122.2,54.4 121.1,55.4 120.6,56.2 119.8,56.8 118.8,58.2 118.3,59.3 118.5,60.6 119.6,61.0 120.9,62.4 121.9,64.4 122.7,65.5 124.0,66.5 125.1,67.4 125.4,68.7 125.6,69.6 124.4,70.2 123.6,71.1 125.3,71.9 126.5,72.0 126.3,73.8 125.9,75.5 125.7,76.9 124.8,78.1 124.1,79.5 123.3,81.0 122.7,82.7 122.7,84.2 121.6,85.4 120.7,86.9 119.3,87.6 118.5,89.0 117.5,90.2 116.4,91.4 115.0,92.0 113.6,92.6 112.2,93.1 111.0,94.0 109.6,93.6 109.2,94.4 108.3,95.0 106.8,95.6 105.2,96.3 103.5,96.8 102.3,97.5 102.0,98.8 102.2,99.8 101.4,100.0 100.7,99.4 100.1,98.1 99.8,96.9 98.6,97.0 97.3,96.3 96.6,96.7 95.9,96.9 94.7,96.6 93.4,95.8 92.7,95.8 92.3,94.6 92.8,93.7 90.6,93.4 89.3,92.5 88.1,93.0 87.1,93.9 86.0,94.5 85.2,93.7 84.2,94.2 82.5,93.8 81.8,94.6 80.6,94.9 80.3,95.8 80.7,96.7 80.2,97.7 79.0,96.7 77.5,97.0 76.8,96.8 76.2,95.6 74.4,95.2 75.3,93.0 73.9,92.3 73.5,90.2 71.1,90.3 70.9,88.0 71.7,86.7 73.6,85.2 74.0,82.9 74.1,80.8 73.2,80.7 72.9,79.1 71.5,78.8 69.9,79.4 67.9,81.1 66.0,81.7 63.2,81.7 60.2,81.3 58.6,81.3 57.8,80.0 58.2,78.6 55.6,77.6 53.7,77.0 52.2,78.6 51.6,79.0 51.7,77.1 50.2,77.2 47.5,76.6 45.5,75.8 44.0,74.4 42.6,73.4 41.7,72.1 40.4,70.9 38.7,69.0 36.7,67.9 35.8,67.9 34.4,66.2 32.8,65.2 31.8,64.0 32.0,62.4 32.0,60.8 33.4,61.2 33.2,59.7 33.4,58.1 33.0,56.1 34.3,56.5 33.4,53.1 32.7,52.7 31.3,51.5 29.8,50.7 29.8,49.4 29.0,47.8 28.2,46.7 27.7,46.5 28.6,45.7 29.1,44.7 29.1,43.4 27.8,42.7 27.6,41.5 27.4,40.6Z" fill="none" stroke="#000" stroke-width="1.3" stroke-linejoin="round"/>
<path d="M123.6,71.1 125.3,71.9 126.5,72.0 126.3,73.8 125.9,75.5 125.7,76.9 124.8,78.1 124.1,79.5 123.3,81.0 122.7,82.7 122.7,84.2 121.6,85.4 120.7,86.9 119.3,87.6 118.5,89.0 117.5,90.2 116.4,91.4 115.0,92.0 113.6,92.6 112.2,93.1 111.0,94.0 109.6,93.6 109.2,94.4 108.3,95.0 106.8,95.6 105.2,96.3 103.5,96.8 102.3,97.5 102.0,98.8 102.2,99.8 101.4,100.0 100.7,99.4 100.1,98.1 99.8,96.9 98.6,97.0 97.3,96.3 96.6,96.7 95.9,96.9" fill="none" stroke="#000" stroke-width="2.2" stroke-linejoin="round"/>
<path d="M125.8,85.6 127.1,85.1 128.1,85.7 128.1,87.1 127.9,89.5 127.5,91.6 126.7,94.2 126.1,93.2 125.0,92.5 124.3,91.3 124.2,89.3 124.8,87.6 125.6,86.3Z" fill="none" stroke="#000" stroke-width="1.2"/>
<path d="M101.6,107.5 100.9,110.3" stroke="#000" stroke-width="1" fill="none"/>
<path d="M100.5,117.3 100.1,120.3" stroke="#000" stroke-width="1" fill="none"/>
<path d="M100.5,129.6 102.3,132.4" stroke="#000" stroke-width="1" fill="none"/>
<path d="M105.1,136.5 108.1,138.7" stroke="#000" stroke-width="1" fill="none"/>
<path d="M111.0,139.9 114.4,138.6" stroke="#000" stroke-width="1" fill="none"/>
<path d="M118.0,134.3 120.0,131.6" stroke="#000" stroke-width="1" fill="none"/>
<path d="M123.7,127.1 125.5,124.2" stroke="#000" stroke-width="1" fill="none"/>
<path d="M126.5,119.3 126.6,116.3" stroke="#000" stroke-width="1" fill="none"/>
<path d="M126.1,110.9 125.9,107.9" stroke="#000" stroke-width="1" fill="none"/>
<path d="M125.5,103.3 126.0,100.2" stroke="#000" stroke-width="1" fill="none"/>
<path d="M128.5,95.4 129.4,93.1" stroke="#000" stroke-width="1" fill="none"/>
<path d="M130.2,81.4 133.6,82.6" stroke="#000" stroke-width="1" fill="none"/>
<rect x="104.9" y="108.7" width="1.3" height="1.3" fill="#000"/>
<rect x="106.4" y="107.8" width="1.3" height="1.3" fill="#000"/>
<rect x="107.1" y="109.8" width="1.3" height="1.3" fill="#000"/>
<rect x="105.8" y="109.4" width="1.3" height="1.3" fill="#000"/>
<rect x="107.7" y="108.2" width="1.3" height="1.3" fill="#000"/>
<rect x="112.0" y="109.9" width="1.3" height="1.3" fill="#000"/>
<rect x="121.3" y="110.6" width="1.3" height="1.3" fill="#000"/>
<rect x="116.8" y="96.9" width="1.3" height="1.3" fill="#000"/>
<rect x="109.0" y="138.9" width="1.3" height="1.3" fill="#000"/>
<rect x="107.1" y="128.1" width="1.3" height="1.3" fill="#000"/>
<rect x="109.9" y="125.7" width="1.3" height="1.3" fill="#000"/>
<rect x="113.1" y="123.7" width="1.3" height="1.3" fill="#000"/>
<rect x="114.0" y="125.1" width="1.3" height="1.3" fill="#000"/>
<rect x="116.0" y="123.2" width="1.3" height="1.3" fill="#000"/>
<rect x="117.3" y="121.8" width="1.3" height="1.3" fill="#000"/>
<rect x="118.3" y="121.2" width="1.3" height="1.3" fill="#000"/>
<rect x="115.0" y="126.9" width="1.3" height="1.3" fill="#000"/>
<rect x="112.4" y="128.1" width="1.3" height="1.3" fill="#000"/>
<rect x="109.9" y="129.3" width="1.3" height="1.3" fill="#000"/>
<rect x="114.9" y="120.6" width="1.3" height="1.3" fill="#000"/>
<rect x="119.8" y="120.0" width="1.3" height="1.3" fill="#000"/>
<rect x="111.1" y="122.9" width="1.3" height="1.3" fill="#000"/>
</g>
<g clip-path="url(#insetclip)">
<rect x="146.7" y="74.5" width="30.8" height="40.6" fill="#fff"/>
<path d="M95.9,52.5 96.6,52.1 98.1,50.8 99.4,51.1 100.7,50.9 101.8,50.0 103.4,49.7 104.9,48.7 106.6,48.3 106.7,47.1 107.6,46.6 107.0,45.1 107.6,43.5 110.3,43.3 110.0,42.8 111.1,40.1 115.1,40.3 115.4,38.2 117.2,37.5 118.1,37.0 118.8,36.9 119.3,38.0 120.7,38.9 122.3,39.0 123.1,40.4 123.9,42.0 123.6,43.1 126.3,43.6 127.9,43.7 130.8,44.7 132.6,47.2 135.1,47.4 139.6,47.4 141.2,47.6 144.2,48.7 146.3,49.1 149.2,47.9 153.2,47.7 155.0,47.2 157.2,45.9 156.9,44.7 157.4,43.5 160.1,44.0 161.5,43.1 163.4,42.9 165.0,41.5 166.2,41.1 167.6,40.8 169.8,41.1 170.2,40.1 168.9,39.3 167.9,38.9 166.8,39.0 165.7,39.1 164.4,39.1 163.1,39.0 163.3,38.5 164.1,37.5 165.0,35.9 166.2,36.3 167.0,36.4 168.1,35.8 169.2,35.1 169.4,34.2 170.5,32.9 171.6,31.6 171.4,30.8 172.6,30.3 174.2,30.1 175.6,29.9 177.0,30.3 178.6,30.6 179.4,31.0 180.4,31.8 181.4,33.4 182.0,34.4 182.5,35.2 183.9,36.3 185.5,36.6 187.3,37.4 187.8,38.8 188.7,39.3 190.3,39.3 192.1,38.5 193.8,38.3 193.7,39.0 193.0,40.1 192.6,41.2 191.9,42.2 191.3,43.5 189.5,43.2 188.6,43.8 187.9,43.9 188.3,45.2 188.4,46.2 187.8,47.0 187.3,47.7 187.0,47.5 186.3,47.0 185.8,47.8 185.0,48.1 184.6,48.4 183.3,48.5 182.3,49.2 181.4,48.7 180.7,49.4 179.8,50.2 178.8,50.7 178.2,50.9 177.3,51.5 176.9,51.9 176.1,51.9 175.1,52.3 174.0,52.7 173.0,53.4 172.2,53.6 172.7,52.9 173.2,52.3 173.8,51.1 173.5,50.4 172.7,50.2 171.9,50.3 171.3,50.9 170.3,51.5 169.5,51.9 168.7,52.7 167.8,53.1 167.0,53.0 166.6,53.4 166.5,54.2 167.1,54.6 168.1,54.7 168.8,55.2 169.0,56.1 170.0,56.2 170.8,55.5 171.6,55.1 172.7,55.6 173.8,55.5 174.5,55.8 174.2,56.6 172.7,56.9 171.8,57.4 171.3,57.8 170.6,58.1 169.7,58.8 169.2,59.5 169.2,60.3 170.0,60.6 170.8,61.5 171.3,62.8 171.8,63.5 172.6,64.3 173.3,64.9 173.4,65.7 173.4,66.3 172.4,66.5 171.8,67.0 172.9,67.6 173.7,67.8 173.4,68.9 172.9,69.9 172.6,70.7 171.8,71.3 171.1,72.1 170.5,72.9 169.8,73.9 169.7,74.8 168.9,75.5 168.1,76.3 167.1,76.6 166.5,77.4 165.7,78.0 164.9,78.7 163.9,79.0 163.0,79.2 162.0,79.5 161.1,79.9 160.2,79.6 159.9,80.1 159.3,80.4 158.3,80.7 157.2,81.1 156.1,81.3 155.3,81.7 155.0,82.5 155.1,83.1 154.6,83.2 154.2,82.8 153.8,82.0 153.7,81.2 152.9,81.3 152.1,80.8 151.6,81.1 151.1,81.1 150.3,81.0 149.5,80.4 149.0,80.4 148.8,79.7 149.1,79.1 147.7,78.9 146.8,78.3 146.0,78.7 145.4,79.2 144.6,79.6 144.1,79.1 143.4,79.5 142.3,79.2 141.8,79.7 141.1,79.9 140.9,80.5 141.2,81.1 140.9,81.7 140.1,81.1 139.1,81.3 138.6,81.2 138.2,80.5 137.0,80.3 137.5,78.9 136.6,78.5 136.2,77.2 134.6,77.4 134.4,76.0 134.9,75.1 136.1,74.2 136.2,72.7 136.2,71.5 135.6,71.5 135.3,70.5 134.3,70.3 133.2,70.8 131.9,71.9 130.6,72.4 128.7,72.6 126.6,72.6 125.5,72.7 124.9,71.9 125.0,71.1 123.1,70.7 121.7,70.5 120.9,71.6 120.5,71.9 120.3,70.7 119.3,71.0 117.4,70.9 115.9,70.7 114.6,70.0 113.5,69.5 112.7,68.9 111.6,68.3 110.2,67.5 108.6,67.1 107.9,67.2 106.6,66.4 105.4,66.1 104.4,65.5 104.2,64.6 103.9,63.6 105.0,63.6 104.6,62.8 104.4,61.9 103.8,60.7 104.7,60.7 103.4,58.9 102.8,58.8 101.5,58.3 100.2,58.1 99.9,57.4 99.0,56.6 98.2,56.1 97.7,56.1 98.2,55.5 98.3,54.8 98.0,54.0 96.9,53.9 96.4,53.2 96.1,52.7Z" fill="#bbd1f8" stroke="none"/>
<path d="M165.7,78.0 164.9,78.7 163.9,79.0 163.0,79.2 162.0,79.5 161.1,79.9 160.2,79.6 159.9,80.1 159.3,80.4 158.3,80.7 157.2,81.1 156.1,81.3 155.3,81.7 155.0,82.5 155.1,83.1 154.6,83.2 154.2,82.8 153.8,82.0 153.7,81.2 152.9,81.3 152.1,80.8 151.6,81.1 151.1,81.1" fill="none" stroke="#e16751" stroke-width="1.6" transform="translate(0,0.7)"/>
<path d="M95.9,52.5 96.6,52.1 98.1,50.8 99.4,51.1 100.7,50.9 101.8,50.0 103.4,49.7 104.9,48.7 106.6,48.3 106.7,47.1 107.6,46.6 107.0,45.1 107.6,43.5 110.3,43.3 110.0,42.8 111.1,40.1 115.1,40.3 115.4,38.2 117.2,37.5 118.1,37.0 118.8,36.9 119.3,38.0 120.7,38.9 122.3,39.0 123.1,40.4 123.9,42.0 123.6,43.1 126.3,43.6 127.9,43.7 130.8,44.7 132.6,47.2 135.1,47.4 139.6,47.4 141.2,47.6 144.2,48.7 146.3,49.1 149.2,47.9 153.2,47.7 155.0,47.2 157.2,45.9 156.9,44.7 157.4,43.5 160.1,44.0 161.5,43.1 163.4,42.9 165.0,41.5 166.2,41.1 167.6,40.8 169.8,41.1 170.2,40.1 168.9,39.3 167.9,38.9 166.8,39.0 165.7,39.1 164.4,39.1 163.1,39.0 163.3,38.5 164.1,37.5 165.0,35.9 166.2,36.3 167.0,36.4 168.1,35.8 169.2,35.1 169.4,34.2 170.5,32.9 171.6,31.6 171.4,30.8 172.6,30.3 174.2,30.1 175.6,29.9 177.0,30.3 178.6,30.6 179.4,31.0 180.4,31.8 181.4,33.4 182.0,34.4 182.5,35.2 183.9,36.3 185.5,36.6 187.3,37.4 187.8,38.8 188.7,39.3 190.3,39.3 192.1,38.5 193.8,38.3 193.7,39.0 193.0,40.1 192.6,41.2 191.9,42.2 191.3,43.5 189.5,43.2 188.6,43.8 187.9,43.9 188.3,45.2 188.4,46.2 187.8,47.0 187.3,47.7 187.0,47.5 186.3,47.0 185.8,47.8 185.0,48.1 184.6,48.4 183.3,48.5 182.3,49.2 181.4,48.7 180.7,49.4 179.8,50.2 178.8,50.7 178.2,50.9 177.3,51.5 176.9,51.9 176.1,51.9 175.1,52.3 174.0,52.7 173.0,53.4 172.2,53.6 172.7,52.9 173.2,52.3 173.8,51.1 173.5,50.4 172.7,50.2 171.9,50.3 171.3,50.9 170.3,51.5 169.5,51.9 168.7,52.7 167.8,53.1 167.0,53.0 166.6,53.4 166.5,54.2 167.1,54.6 168.1,54.7 168.8,55.2 169.0,56.1 170.0,56.2 170.8,55.5 171.6,55.1 172.7,55.6 173.8,55.5 174.5,55.8 174.2,56.6 172.7,56.9 171.8,57.4 171.3,57.8 170.6,58.1 169.7,58.8 169.2,59.5 169.2,60.3 170.0,60.6 170.8,61.5 171.3,62.8 171.8,63.5 172.6,64.3 173.3,64.9 173.4,65.7 173.4,66.3 172.4,66.5 171.8,67.0 172.9,67.6 173.7,67.8 173.4,68.9 172.9,69.9 172.6,70.7 171.8,71.3 171.1,72.1 170.5,72.9 169.8,73.9 169.7,74.8 168.9,75.5 168.1,76.3 167.1,76.6 166.5,77.4 165.7,78.0 164.9,78.7 163.9,79.0 163.0,79.2 162.0,79.5 161.1,79.9 160.2,79.6 159.9,80.1 159.3,80.4 158.3,80.7 157.2,81.1 156.1,81.3 155.3,81.7 155.0,82.5 155.1,83.1 154.6,83.2 154.2,82.8 153.8,82.0 153.7,81.2 152.9,81.3 152.1,80.8 151.6,81.1 151.1,81.1 150.3,81.0 149.5,80.4 149.0,80.4 148.8,79.7 149.1,79.1 147.7,78.9 146.8,78.3 146.0,78.7 145.4,79.2 144.6,79.6 144.1,79.1 143.4,79.5 142.3,79.2 141.8,79.7 141.1,79.9 140.9,80.5 141.2,81.1 140.9,81.7 140.1,81.1 139.1,81.3 138.6,81.2 138.2,80.5 137.0,80.3 137.5,78.9 136.6,78.5 136.2,77.2 134.6,77.4 134.4,76.0 134.9,75.1 136.1,74.2 136.2,72.7 136.2,71.5 135.6,71.5 135.3,70.5 134.3,70.3 133.2,70.8 131.9,71.9 130.6,72.4 128.7,72.6 126.6,72.6 125.5,72.7 124.9,71.9 125.0,71.1 123.1,70.7 121.7,70.5 120.9,71.6 120.5,71.9 120.3,70.7 119.3,71.0 117.4,70.9 115.9,70.7 114.6,70.0 113.5,69.5 112.7,68.9 111.6,68.3 110.2,67.5 108.6,67.1 107.9,67.2 106.6,66.4 105.4,66.1 104.4,65.5 104.2,64.6 103.9,63.6 105.0,63.6 104.6,62.8 104.4,61.9 103.8,60.7 104.7,60.7 103.4,58.9 102.8,58.8 101.5,58.3 100.2,58.1 99.9,57.4 99.0,56.6 98.2,56.1 97.7,56.1 98.2,55.5 98.3,54.8 98.0,54.0 96.9,53.9 96.4,53.2 96.1,52.7Z" fill="none" stroke="#000" stroke-width="1.1"/>
<path d="M152.1,84.9 152.2,84.1 153.0,83.7 153.7,83.5 154.6,83.5 155.3,83.5 155.9,84.2 155.6,85.2 155.1,85.9 154.3,86.3 153.5,86.5 152.7,86.2 152.2,85.7Z" fill="#ccd9ed" stroke="#000" stroke-width="0.9"/>
<path d="M171.7,75.9 172.6,75.8 173.2,76.3 173.0,77.1 172.6,78.5 172.2,79.8 171.4,81.3 171.0,80.6 170.4,80.1 170.1,79.3 170.2,78.0 170.8,77.1 171.4,76.3Z" fill="none" stroke="#000" stroke-width="0.9"/>
<path d="M154.5,87.9 154.0,89.7" stroke="#000" stroke-width="0.9" fill="none"/>
<path d="M153.5,94.2 153.2,96.1" stroke="#000" stroke-width="0.9" fill="none"/>
<path d="M153.2,102.2 154.2,104.1" stroke="#000" stroke-width="0.9" fill="none"/>
<path d="M155.6,107.0 157.2,108.6" stroke="#000" stroke-width="0.9" fill="none"/>
<path d="M158.8,109.5 160.7,108.9" stroke="#000" stroke-width="0.9" fill="none"/>
<path d="M163.0,106.2 164.2,104.6" stroke="#000" stroke-width="0.9" fill="none"/>
<path d="M166.6,101.9 167.9,100.1" stroke="#000" stroke-width="0.9" fill="none"/>
<path d="M168.9,97.1 169.2,95.1" stroke="#000" stroke-width="0.9" fill="none"/>
<path d="M169.4,91.6 169.5,89.7" stroke="#000" stroke-width="0.9" fill="none"/>
<path d="M169.7,86.8 170.3,84.9" stroke="#000" stroke-width="0.9" fill="none"/>
<path d="M172.4,82.2 173.2,80.9" stroke="#000" stroke-width="0.9" fill="none"/>
<path d="M175.1,73.9 177.2,75.0" stroke="#000" stroke-width="0.9" fill="none"/>
<rect x="156.4" y="88.7" width="1.1" height="1.1" fill="#000"/>
<rect x="157.3" y="88.2" width="1.1" height="1.1" fill="#000"/>
<rect x="157.7" y="89.5" width="1.1" height="1.1" fill="#000"/>
<rect x="156.9" y="89.2" width="1.1" height="1.1" fill="#000"/>
<rect x="158.1" y="88.6" width="1.1" height="1.1" fill="#000"/>
<rect x="160.7" y="89.8" width="1.1" height="1.1" fill="#000"/>
<rect x="166.3" y="91.0" width="1.1" height="1.1" fill="#000"/>
<rect x="164.5" y="82.0" width="1.1" height="1.1" fill="#000"/>
<rect x="157.5" y="108.7" width="1.1" height="1.1" fill="#000"/>
<rect x="156.9" y="101.4" width="1.1" height="1.1" fill="#000"/>
<rect x="158.6" y="99.9" width="1.1" height="1.1" fill="#000"/>
<rect x="160.5" y="98.8" width="1.1" height="1.1" fill="#000"/>
<rect x="161.0" y="99.8" width="1.1" height="1.1" fill="#000"/>
<rect x="162.3" y="98.6" width="1.1" height="1.1" fill="#000"/>
<rect x="163.1" y="97.8" width="1.1" height="1.1" fill="#000"/>
<rect x="163.7" y="97.5" width="1.1" height="1.1" fill="#000"/>
<rect x="161.5" y="101.0" width="1.1" height="1.1" fill="#000"/>
<rect x="159.9" y="101.7" width="1.1" height="1.1" fill="#000"/>
<rect x="158.5" y="102.3" width="1.1" height="1.1" fill="#000"/>
<rect x="161.8" y="96.9" width="1.1" height="1.1" fill="#000"/>
<rect x="164.7" y="96.9" width="1.1" height="1.1" fill="#000"/>
<rect x="159.4" y="98.2" width="1.1" height="1.1" fill="#000"/>
<path d="M157.4,101.9 159.1,100.7" stroke="#000" stroke-width="0.8" stroke-dasharray="1.2 0.8" fill="none"/>
<path d="M159.1,100.7 160.7,99.8" stroke="#000" stroke-width="0.8" stroke-dasharray="1.2 0.8" fill="none"/>
<path d="M160.7,99.8 162.3,98.8" stroke="#000" stroke-width="0.8" stroke-dasharray="1.2 0.8" fill="none"/>
<path d="M162.3,98.8 163.9,98.0" stroke="#000" stroke-width="0.8" stroke-dasharray="1.2 0.8" fill="none"/>
<path d="M163.9,98.0 165.2,97.4" stroke="#000" stroke-width="0.8" stroke-dasharray="1.2 0.8" fill="none"/>
</g>
<rect x="146.7" y="74.5" width="30.8" height="40.6" fill="none" stroke="#222" stroke-width="1"/>
<rect x="0" y="0" width="177.5" height="115.1" fill="none" stroke="#333" stroke-width="1"/>
</g>
<path d="M268.5,141.4 H440.3 L449.3,145.85 L440.3,150.3 H268.5Z" fill="url(#cbgrad)" stroke="#333" stroke-width="0.8"/>
<line x1="268.5" y1="150.3" x2="268.5" y2="153.60000000000002" stroke="#333" stroke-width="0.8"/>
<text x="268.5" y="164.2" text-anchor="middle" font-size="11">0.0</text>
<line x1="311.4" y1="150.3" x2="311.4" y2="153.60000000000002" stroke="#333" stroke-width="0.8"/>
<text x="311.4" y="164.2" text-anchor="middle" font-size="11">2.0</text>
<line x1="354.4" y1="150.3" x2="354.4" y2="153.60000000000002" stroke="#333" stroke-width="0.8"/>
<text x="354.4" y="164.2" text-anchor="middle" font-size="11">4.0</text>
<line x1="397.4" y1="150.3" x2="397.4" y2="153.60000000000002" stroke="#333" stroke-width="0.8"/>
<text x="397.4" y="164.2" text-anchor="middle" font-size="11">6.0</text>
<line x1="440.3" y1="150.3" x2="440.3" y2="153.60000000000002" stroke="#333" stroke-width="0.8"/>
<text x="440.3" y="164.2" text-anchor="middle" font-size="11">8.0</text>
<g transform="translate(504.7,18.9)">
<g clip-path="url(#frameclip)">
<g clip-path="url(#cnclip)">
<path d="M104.0,0.0 111.0,5.0 113.5,11.0 114.5,19.0 118.4,21.0 118.8,26.0 115.2,30.1 109.5,36.1 104.5,42.1 102.3,43.9 96.6,43.2 92.8,43.9 90.9,49.2 90.0,56.8 88.1,64.3 85.3,73.8 85.7,79.4 88.1,85.1 83.4,86.0 77.7,84.1 74.9,86.9 75.8,94.5 79.6,98.3 95.0,115.0 170.0,115.0 170.0,0.0Z" fill="#aac7fd"/>
<g filter="url(#bl1_2)">
<ellipse cx="86.8" cy="76.5" rx="1.8" ry="4.2" fill="#f6a586" fill-opacity="1" transform="rotate(0 86.8 76.5)"/>
<ellipse cx="88.5" cy="71.0" rx="1.5" ry="2.5" fill="#f3c7b1" fill-opacity="0.78" transform="rotate(0 88.5 71.0)"/>
<ellipse cx="135.7" cy="23.2" rx="3.2" ry="5" fill="#ffffff" fill-opacity="0.9" transform="rotate(0 135.7 23.2)"/>
<ellipse cx="132.0" cy="35.5" rx="3" ry="5" fill="#ffffff" fill-opacity="0.85" transform="rotate(-30 132.0 35.5)"/>
<ellipse cx="122.0" cy="15.5" rx="2" ry="3" fill="#ffffff" fill-opacity="0.85" transform="rotate(0 122.0 15.5)"/>
<ellipse cx="127.0" cy="23.0" rx="1.3" ry="4" fill="#ffffff" fill-opacity="0.8" transform="rotate(0 127.0 23.0)"/>
<ellipse cx="113.5" cy="47.5" rx="2.5" ry="1.5" fill="#ffffff" fill-opacity="0.7" transform="rotate(0 113.5 47.5)"/>
<ellipse cx="100.0" cy="45.0" rx="4" ry="1.2" fill="#ffffff" fill-opacity="0.5" transform="rotate(0 100.0 45.0)"/>
<ellipse cx="80.0" cy="90.0" rx="3" ry="4" fill="#ffffff" fill-opacity="0.5" transform="rotate(0 80.0 90.0)"/>
<ellipse cx="92.0" cy="47.0" rx="1.5" ry="1.5" fill="#ffffff" fill-opacity="0.6" transform="rotate(0 92.0 47.0)"/>
</g>
<g filter="url(#bl3_0)">
<ellipse cx="108.0" cy="86.0" rx="15" ry="10" fill="#d8dce2" fill-opacity="0.9" transform="rotate(0 108.0 86.0)"/>
<ellipse cx="114.0" cy="60.0" rx="6" ry="11" fill="#d8dce2" fill-opacity="0.75" transform="rotate(0 114.0 60.0)"/>
<ellipse cx="104.0" cy="76.0" rx="6" ry="4" fill="#d8dce2" fill-opacity="0.6" transform="rotate(0 104.0 76.0)"/>
<ellipse cx="120.0" cy="74.0" rx="4" ry="8" fill="#d8dce2" fill-opacity="0.6" transform="rotate(0 120.0 74.0)"/>
<ellipse cx="96.0" cy="66.0" rx="5" ry="6" fill="#d8dce2" fill-opacity="0.3" transform="rotate(0 96.0 66.0)"/>
</g>
<g filter="url(#bl2_0)">
<ellipse cx="114.0" cy="59.0" rx="4.5" ry="8" fill="#f3c7b1" fill-opacity="0.9750000000000001" transform="rotate(10 114.0 59.0)"/>
<ellipse cx="101.0" cy="76.0" rx="3.5" ry="3" fill="#f3c7b1" fill-opacity="0.8450000000000001" transform="rotate(0 101.0 76.0)"/>
<ellipse cx="104.0" cy="94.0" rx="12" ry="3.5" fill="#f3c7b1" fill-opacity="0.9750000000000001" transform="rotate(0 104.0 94.0)"/>
<ellipse cx="117.0" cy="67.0" rx="2.5" ry="4" fill="#f3c7b1" fill-opacity="0.65" transform="rotate(0 117.0 67.0)"/>
<ellipse cx="95.0" cy="84.0" rx="4" ry="3" fill="#f3c7b1" fill-opacity="0.52" transform="rotate(0 95.0 84.0)"/>
<ellipse cx="110.0" cy="82.0" rx="4" ry="3" fill="#f3c7b1" fill-opacity="0.45499999999999996" transform="rotate(0 110.0 82.0)"/>
</g>
</g>
<path d="M117.5,90.2 116.4,91.4 115.0,92.0 113.6,92.6 112.2,93.1 111.0,94.0 109.6,93.6 109.2,94.4 108.3,95.0 106.8,95.6 105.2,96.3 103.5,96.8 102.3,97.5 102.0,98.8 102.2,99.8 101.4,100.0 100.7,99.4 100.1,98.1 99.8,96.9 98.6,97.0 97.3,96.3 96.6,96.7 95.9,96.9" fill="none" stroke="#d75445" stroke-width="2.6" stroke-linejoin="round" transform="translate(0.2,1.0)"/>
<path d="M97.6,102.8 97.8,101.6 99.0,100.9 100.0,100.6 101.5,100.4 102.5,100.3 103.5,101.4 103.1,103.1 102.4,104.1 101.2,105.0 99.9,105.3 98.7,104.8 97.9,104.1Z" fill="#aac7fd" stroke="#000" stroke-width="1.1"/>
<path d="M27.4,40.1 28.5,39.7 30.8,38.3 32.2,39.3 33.8,39.5 35.5,38.4 37.5,38.4 39.6,37.3 41.8,37.2 42.4,35.3 43.6,34.7 43.5,32.1 44.8,29.8 47.9,30.2 47.7,29.3 49.9,25.3 54.2,26.6 55.2,23.2 57.3,22.6 58.4,21.8 59.1,21.9 59.4,23.7 60.7,25.4 62.4,25.8 62.9,28.2 63.4,30.9 62.8,32.7 65.8,33.9 67.6,34.2 70.7,36.3 72.3,40.5 75.3,41.0 80.6,41.3 82.5,41.8 86.1,43.6 88.5,44.3 92.0,42.4 96.7,41.9 98.7,41.0 101.2,38.6 100.7,36.6 101.1,34.6 104.3,35.3 105.8,33.6 107.9,33.1 109.5,30.6 110.6,29.9 112.2,29.2 114.7,29.2 114.8,27.6 113.2,26.5 112.1,26.0 110.9,26.3 109.7,26.7 108.3,26.8 106.9,26.8 107.0,26.0 107.7,24.4 108.4,21.6 109.6,22.1 110.5,22.2 111.6,21.0 112.6,19.8 112.6,18.3 113.4,16.1 114.2,13.9 113.9,12.7 114.9,11.8 116.4,11.1 117.8,10.6 119.3,11.0 121.0,11.0 121.9,11.5 123.1,12.5 124.6,14.8 125.6,16.2 126.4,17.4 128.3,18.6 130.1,18.7 132.2,19.5 133.3,21.6 134.5,22.1 136.2,21.6 137.7,19.9 139.4,18.9 139.6,20.1 139.5,22.0 139.5,23.9 139.2,25.6 139.1,27.9 137.1,28.0 136.3,29.2 135.6,29.6 136.6,31.6 137.1,33.1 136.8,34.5 136.5,35.9 136.0,35.5 135.1,34.9 134.9,36.4 134.1,37.1 133.7,37.8 132.2,38.2 131.4,39.7 130.1,39.1 129.6,40.3 128.7,41.9 127.7,42.9 127.0,43.4 126.2,44.7 125.8,45.3 124.9,45.6 123.8,46.4 122.6,47.4 121.5,48.7 120.7,49.2 121.1,47.9 121.5,46.8 121.9,44.8 121.4,43.7 120.3,43.5 119.4,43.8 118.8,44.9 117.8,46.2 116.9,46.8 116.1,48.4 115.0,49.1 114.0,49.1 113.7,49.8 113.7,51.1 114.6,51.7 115.8,51.7 116.8,52.5 117.3,53.9 118.6,53.8 119.4,52.5 120.3,51.8 121.8,52.3 123.1,52.0 124.1,52.2 123.9,53.6 122.2,54.4 121.1,55.4 120.6,56.2 119.8,56.8 118.8,58.2 118.3,59.3 118.5,60.6 119.6,61.0 120.9,62.4 121.9,64.4 122.7,65.5 124.0,66.5 125.1,67.4 125.4,68.7 125.6,69.6 124.4,70.2 123.6,71.1 125.3,71.9 126.5,72.0 126.3,73.8 125.9,75.5 125.7,76.9 124.8,78.1 124.1,79.5 123.3,81.0 122.7,82.7 122.7,84.2 121.6,85.4 120.7,86.9 119.3,87.6 118.5,89.0 117.5,90.2 116.4,91.4 115.0,92.0 113.6,92.6 112.2,93.1 111.0,94.0 109.6,93.6 109.2,94.4 108.3,95.0 106.8,95.6 105.2,96.3 103.5,96.8 102.3,97.5 102.0,98.8 102.2,99.8 101.4,100.0 100.7,99.4 100.1,98.1 99.8,96.9 98.6,97.0 97.3,96.3 96.6,96.7 95.9,96.9 94.7,96.6 93.4,95.8 92.7,95.8 92.3,94.6 92.8,93.7 90.6,93.4 89.3,92.5 88.1,93.0 87.1,93.9 86.0,94.5 85.2,93.7 84.2,94.2 82.5,93.8 81.8,94.6 80.6,94.9 80.3,95.8 80.7,96.7 80.2,97.7 79.0,96.7 77.5,97.0 76.8,96.8 76.2,95.6 74.4,95.2 75.3,93.0 73.9,92.3 73.5,90.2 71.1,90.3 70.9,88.0 71.7,86.7 73.6,85.2 74.0,82.9 74.1,80.8 73.2,80.7 72.9,79.1 71.5,78.8 69.9,79.4 67.9,81.1 66.0,81.7 63.2,81.7 60.2,81.3 58.6,81.3 57.8,80.0 58.2,78.6 55.6,77.6 53.7,77.0 52.2,78.6 51.6,79.0 51.7,77.1 50.2,77.2 47.5,76.6 45.5,75.8 44.0,74.4 42.6,73.4 41.7,72.1 40.4,70.9 38.7,69.0 36.7,67.9 35.8,67.9 34.4,66.2 32.8,65.2 31.8,64.0 32.0,62.4 32.0,60.8 33.4,61.2 33.2,59.7 33.4,58.1 33.0,56.1 34.3,56.5 33.4,53.1 32.7,52.7 31.3,51.5 29.8,50.7 29.8,49.4 29.0,47.8 28.2,46.7 27.7,46.5 28.6,45.7 29.1,44.7 29.1,43.4 27.8,42.7 27.6,41.5 27.4,40.6Z" fill="none" stroke="#000" stroke-width="1.3" stroke-linejoin="round"/>
<path d="M123.6,71.1 125.3,71.9 126.5,72.0 126.3,73.8 125.9,75.5 125.7,76.9 124.8,78.1 124.1,79.5 123.3,81.0 122.7,82.7 122.7,84.2 121.6,85.4 120.7,86.9 119.3,87.6 118.5,89.0 117.5,90.2 116.4,91.4 115.0,92.0 113.6,92.6 112.2,93.1 111.0,94.0 109.6,93.6 109.2,94.4 108.3,95.0 106.8,95.6 105.2,96.3 103.5,96.8 102.3,97.5 102.0,98.8 102.2,99.8 101.4,100.0 100.7,99.4 100.1,98.1 99.8,96.9 98.6,97.0 97.3,96.3 96.6,96.7 95.9,96.9" fill="none" stroke="#000" stroke-width="2.2" stroke-linejoin="round"/>
<path d="M125.8,85.6 127.1,85.1 128.1,85.7 128.1,87.1 127.9,89.5 127.5,91.6 126.7,94.2 126.1,93.2 125.0,92.5 124.3,91.3 124.2,89.3 124.8,87.6 125.6,86.3Z" fill="none" stroke="#000" stroke-width="1.2"/>
<path d="M101.6,107.5 100.9,110.3" stroke="#000" stroke-width="1" fill="none"/>
<path d="M100.5,117.3 100.1,120.3" stroke="#000" stroke-width="1" fill="none"/>
<path d="M100.5,129.6 102.3,132.4" stroke="#000" stroke-width="1" fill="none"/>
<path d="M105.1,136.5 108.1,138.7" stroke="#000" stroke-width="1" fill="none"/>
<path d="M111.0,139.9 114.4,138.6" stroke="#000" stroke-width="1" fill="none"/>
<path d="M118.0,134.3 120.0,131.6" stroke="#000" stroke-width="1" fill="none"/>
<path d="M123.7,127.1 125.5,124.2" stroke="#000" stroke-width="1" fill="none"/>
<path d="M126.5,119.3 126.6,116.3" stroke="#000" stroke-width="1" fill="none"/>
<path d="M126.1,110.9 125.9,107.9" stroke="#000" stroke-width="1" fill="none"/>
<path d="M125.5,103.3 126.0,100.2" stroke="#000" stroke-width="1" fill="none"/>
<path d="M128.5,95.4 129.4,93.1" stroke="#000" stroke-width="1" fill="none"/>
<path d="M130.2,81.4 133.6,82.6" stroke="#000" stroke-width="1" fill="none"/>
<rect x="104.9" y="108.7" width="1.3" height="1.3" fill="#000"/>
<rect x="106.4" y="107.8" width="1.3" height="1.3" fill="#000"/>
<rect x="107.1" y="109.8" width="1.3" height="1.3" fill="#000"/>
<rect x="105.8" y="109.4" width="1.3" height="1.3" fill="#000"/>
<rect x="107.7" y="108.2" width="1.3" height="1.3" fill="#000"/>
<rect x="112.0" y="109.9" width="1.3" height="1.3" fill="#000"/>
<rect x="121.3" y="110.6" width="1.3" height="1.3" fill="#000"/>
<rect x="116.8" y="96.9" width="1.3" height="1.3" fill="#000"/>
<rect x="109.0" y="138.9" width="1.3" height="1.3" fill="#000"/>
<rect x="107.1" y="128.1" width="1.3" height="1.3" fill="#000"/>
<rect x="109.9" y="125.7" width="1.3" height="1.3" fill="#000"/>
<rect x="113.1" y="123.7" width="1.3" height="1.3" fill="#000"/>
<rect x="114.0" y="125.1" width="1.3" height="1.3" fill="#000"/>
<rect x="116.0" y="123.2" width="1.3" height="1.3" fill="#000"/>
<rect x="117.3" y="121.8" width="1.3" height="1.3" fill="#000"/>
<rect x="118.3" y="121.2" width="1.3" height="1.3" fill="#000"/>
<rect x="115.0" y="126.9" width="1.3" height="1.3" fill="#000"/>
<rect x="112.4" y="128.1" width="1.3" height="1.3" fill="#000"/>
<rect x="109.9" y="129.3" width="1.3" height="1.3" fill="#000"/>
<rect x="114.9" y="120.6" width="1.3" height="1.3" fill="#000"/>
<rect x="119.8" y="120.0" width="1.3" height="1.3" fill="#000"/>
<rect x="111.1" y="122.9" width="1.3" height="1.3" fill="#000"/>
</g>
<g clip-path="url(#insetclip)">
<rect x="146.7" y="74.5" width="30.8" height="40.6" fill="#fff"/>
<path d="M95.9,52.5 96.6,52.1 98.1,50.8 99.4,51.1 100.7,50.9 101.8,50.0 103.4,49.7 104.9,48.7 106.6,48.3 106.7,47.1 107.6,46.6 107.0,45.1 107.6,43.5 110.3,43.3 110.0,42.8 111.1,40.1 115.1,40.3 115.4,38.2 117.2,37.5 118.1,37.0 118.8,36.9 119.3,38.0 120.7,38.9 122.3,39.0 123.1,40.4 123.9,42.0 123.6,43.1 126.3,43.6 127.9,43.7 130.8,44.7 132.6,47.2 135.1,47.4 139.6,47.4 141.2,47.6 144.2,48.7 146.3,49.1 149.2,47.9 153.2,47.7 155.0,47.2 157.2,45.9 156.9,44.7 157.4,43.5 160.1,44.0 161.5,43.1 163.4,42.9 165.0,41.5 166.2,41.1 167.6,40.8 169.8,41.1 170.2,40.1 168.9,39.3 167.9,38.9 166.8,39.0 165.7,39.1 164.4,39.1 163.1,39.0 163.3,38.5 164.1,37.5 165.0,35.9 166.2,36.3 167.0,36.4 168.1,35.8 169.2,35.1 169.4,34.2 170.5,32.9 171.6,31.6 171.4,30.8 172.6,30.3 174.2,30.1 175.6,29.9 177.0,30.3 178.6,30.6 179.4,31.0 180.4,31.8 181.4,33.4 182.0,34.4 182.5,35.2 183.9,36.3 185.5,36.6 187.3,37.4 187.8,38.8 188.7,39.3 190.3,39.3 192.1,38.5 193.8,38.3 193.7,39.0 193.0,40.1 192.6,41.2 191.9,42.2 191.3,43.5 189.5,43.2 188.6,43.8 187.9,43.9 188.3,45.2 188.4,46.2 187.8,47.0 187.3,47.7 187.0,47.5 186.3,47.0 185.8,47.8 185.0,48.1 184.6,48.4 183.3,48.5 182.3,49.2 181.4,48.7 180.7,49.4 179.8,50.2 178.8,50.7 178.2,50.9 177.3,51.5 176.9,51.9 176.1,51.9 175.1,52.3 174.0,52.7 173.0,53.4 172.2,53.6 172.7,52.9 173.2,52.3 173.8,51.1 173.5,50.4 172.7,50.2 171.9,50.3 171.3,50.9 170.3,51.5 169.5,51.9 168.7,52.7 167.8,53.1 167.0,53.0 166.6,53.4 166.5,54.2 167.1,54.6 168.1,54.7 168.8,55.2 169.0,56.1 170.0,56.2 170.8,55.5 171.6,55.1 172.7,55.6 173.8,55.5 174.5,55.8 174.2,56.6 172.7,56.9 171.8,57.4 171.3,57.8 170.6,58.1 169.7,58.8 169.2,59.5 169.2,60.3 170.0,60.6 170.8,61.5 171.3,62.8 171.8,63.5 172.6,64.3 173.3,64.9 173.4,65.7 173.4,66.3 172.4,66.5 171.8,67.0 172.9,67.6 173.7,67.8 173.4,68.9 172.9,69.9 172.6,70.7 171.8,71.3 171.1,72.1 170.5,72.9 169.8,73.9 169.7,74.8 168.9,75.5 168.1,76.3 167.1,76.6 166.5,77.4 165.7,78.0 164.9,78.7 163.9,79.0 163.0,79.2 162.0,79.5 161.1,79.9 160.2,79.6 159.9,80.1 159.3,80.4 158.3,80.7 157.2,81.1 156.1,81.3 155.3,81.7 155.0,82.5 155.1,83.1 154.6,83.2 154.2,82.8 153.8,82.0 153.7,81.2 152.9,81.3 152.1,80.8 151.6,81.1 151.1,81.1 150.3,81.0 149.5,80.4 149.0,80.4 148.8,79.7 149.1,79.1 147.7,78.9 146.8,78.3 146.0,78.7 145.4,79.2 144.6,79.6 144.1,79.1 143.4,79.5 142.3,79.2 141.8,79.7 141.1,79.9 140.9,80.5 141.2,81.1 140.9,81.7 140.1,81.1 139.1,81.3 138.6,81.2 138.2,80.5 137.0,80.3 137.5,78.9 136.6,78.5 136.2,77.2 134.6,77.4 134.4,76.0 134.9,75.1 136.1,74.2 136.2,72.7 136.2,71.5 135.6,71.5 135.3,70.5 134.3,70.3 133.2,70.8 131.9,71.9 130.6,72.4 128.7,72.6 126.6,72.6 125.5,72.7 124.9,71.9 125.0,71.1 123.1,70.7 121.7,70.5 120.9,71.6 120.5,71.9 120.3,70.7 119.3,71.0 117.4,70.9 115.9,70.7 114.6,70.0 113.5,69.5 112.7,68.9 111.6,68.3 110.2,67.5 108.6,67.1 107.9,67.2 106.6,66.4 105.4,66.1 104.4,65.5 104.2,64.6 103.9,63.6 105.0,63.6 104.6,62.8 104.4,61.9 103.8,60.7 104.7,60.7 103.4,58.9 102.8,58.8 101.5,58.3 100.2,58.1 99.9,57.4 99.0,56.6 98.2,56.1 97.7,56.1 98.2,55.5 98.3,54.8 98.0,54.0 96.9,53.9 96.4,53.2 96.1,52.7Z" fill="#bbd1f8" stroke="none"/>
<path d="M165.7,78.0 164.9,78.7 163.9,79.0 163.0,79.2 162.0,79.5 161.1,79.9 160.2,79.6 159.9,80.1 159.3,80.4 158.3,80.7 157.2,81.1 156.1,81.3 155.3,81.7 155.0,82.5 155.1,83.1 154.6,83.2 154.2,82.8 153.8,82.0 153.7,81.2 152.9,81.3 152.1,80.8 151.6,81.1 151.1,81.1" fill="none" stroke="#e16751" stroke-width="1.6" transform="translate(0,0.7)"/>
<path d="M95.9,52.5 96.6,52.1 98.1,50.8 99.4,51.1 100.7,50.9 101.8,50.0 103.4,49.7 104.9,48.7 106.6,48.3 106.7,47.1 107.6,46.6 107.0,45.1 107.6,43.5 110.3,43.3 110.0,42.8 111.1,40.1 115.1,40.3 115.4,38.2 117.2,37.5 118.1,37.0 118.8,36.9 119.3,38.0 120.7,38.9 122.3,39.0 123.1,40.4 123.9,42.0 123.6,43.1 126.3,43.6 127.9,43.7 130.8,44.7 132.6,47.2 135.1,47.4 139.6,47.4 141.2,47.6 144.2,48.7 146.3,49.1 149.2,47.9 153.2,47.7 155.0,47.2 157.2,45.9 156.9,44.7 157.4,43.5 160.1,44.0 161.5,43.1 163.4,42.9 165.0,41.5 166.2,41.1 167.6,40.8 169.8,41.1 170.2,40.1 168.9,39.3 167.9,38.9 166.8,39.0 165.7,39.1 164.4,39.1 163.1,39.0 163.3,38.5 164.1,37.5 165.0,35.9 166.2,36.3 167.0,36.4 168.1,35.8 169.2,35.1 169.4,34.2 170.5,32.9 171.6,31.6 171.4,30.8 172.6,30.3 174.2,30.1 175.6,29.9 177.0,30.3 178.6,30.6 179.4,31.0 180.4,31.8 181.4,33.4 182.0,34.4 182.5,35.2 183.9,36.3 185.5,36.6 187.3,37.4 187.8,38.8 188.7,39.3 190.3,39.3 192.1,38.5 193.8,38.3 193.7,39.0 193.0,40.1 192.6,41.2 191.9,42.2 191.3,43.5 189.5,43.2 188.6,43.8 187.9,43.9 188.3,45.2 188.4,46.2 187.8,47.0 187.3,47.7 187.0,47.5 186.3,47.0 185.8,47.8 185.0,48.1 184.6,48.4 183.3,48.5 182.3,49.2 181.4,48.7 180.7,49.4 179.8,50.2 178.8,50.7 178.2,50.9 177.3,51.5 176.9,51.9 176.1,51.9 175.1,52.3 174.0,52.7 173.0,53.4 172.2,53.6 172.7,52.9 173.2,52.3 173.8,51.1 173.5,50.4 172.7,50.2 171.9,50.3 171.3,50.9 170.3,51.5 169.5,51.9 168.7,52.7 167.8,53.1 167.0,53.0 166.6,53.4 166.5,54.2 167.1,54.6 168.1,54.7 168.8,55.2 169.0,56.1 170.0,56.2 170.8,55.5 171.6,55.1 172.7,55.6 173.8,55.5 174.5,55.8 174.2,56.6 172.7,56.9 171.8,57.4 171.3,57.8 170.6,58.1 169.7,58.8 169.2,59.5 169.2,60.3 170.0,60.6 170.8,61.5 171.3,62.8 171.8,63.5 172.6,64.3 173.3,64.9 173.4,65.7 173.4,66.3 172.4,66.5 171.8,67.0 172.9,67.6 173.7,67.8 173.4,68.9 172.9,69.9 172.6,70.7 171.8,71.3 171.1,72.1 170.5,72.9 169.8,73.9 169.7,74.8 168.9,75.5 168.1,76.3 167.1,76.6 166.5,77.4 165.7,78.0 164.9,78.7 163.9,79.0 163.0,79.2 162.0,79.5 161.1,79.9 160.2,79.6 159.9,80.1 159.3,80.4 158.3,80.7 157.2,81.1 156.1,81.3 155.3,81.7 155.0,82.5 155.1,83.1 154.6,83.2 154.2,82.8 153.8,82.0 153.7,81.2 152.9,81.3 152.1,80.8 151.6,81.1 151.1,81.1 150.3,81.0 149.5,80.4 149.0,80.4 148.8,79.7 149.1,79.1 147.7,78.9 146.8,78.3 146.0,78.7 145.4,79.2 144.6,79.6 144.1,79.1 143.4,79.5 142.3,79.2 141.8,79.7 141.1,79.9 140.9,80.5 141.2,81.1 140.9,81.7 140.1,81.1 139.1,81.3 138.6,81.2 138.2,80.5 137.0,80.3 137.5,78.9 136.6,78.5 136.2,77.2 134.6,77.4 134.4,76.0 134.9,75.1 136.1,74.2 136.2,72.7 136.2,71.5 135.6,71.5 135.3,70.5 134.3,70.3 133.2,70.8 131.9,71.9 130.6,72.4 128.7,72.6 126.6,72.6 125.5,72.7 124.9,71.9 125.0,71.1 123.1,70.7 121.7,70.5 120.9,71.6 120.5,71.9 120.3,70.7 119.3,71.0 117.4,70.9 115.9,70.7 114.6,70.0 113.5,69.5 112.7,68.9 111.6,68.3 110.2,67.5 108.6,67.1 107.9,67.2 106.6,66.4 105.4,66.1 104.4,65.5 104.2,64.6 103.9,63.6 105.0,63.6 104.6,62.8 104.4,61.9 103.8,60.7 104.7,60.7 103.4,58.9 102.8,58.8 101.5,58.3 100.2,58.1 99.9,57.4 99.0,56.6 98.2,56.1 97.7,56.1 98.2,55.5 98.3,54.8 98.0,54.0 96.9,53.9 96.4,53.2 96.1,52.7Z" fill="none" stroke="#000" stroke-width="1.1"/>
<path d="M152.1,84.9 152.2,84.1 153.0,83.7 153.7,83.5 154.6,83.5 155.3,83.5 155.9,84.2 155.6,85.2 155.1,85.9 154.3,86.3 153.5,86.5 152.7,86.2 152.2,85.7Z" fill="#ccd9ed" stroke="#000" stroke-width="0.9"/>
<path d="M171.7,75.9 172.6,75.8 173.2,76.3 173.0,77.1 172.6,78.5 172.2,79.8 171.4,81.3 171.0,80.6 170.4,80.1 170.1,79.3 170.2,78.0 170.8,77.1 171.4,76.3Z" fill="none" stroke="#000" stroke-width="0.9"/>
<path d="M154.5,87.9 154.0,89.7" stroke="#000" stroke-width="0.9" fill="none"/>
<path d="M153.5,94.2 153.2,96.1" stroke="#000" stroke-width="0.9" fill="none"/>
<path d="M153.2,102.2 154.2,104.1" stroke="#000" stroke-width="0.9" fill="none"/>
<path d="M155.6,107.0 157.2,108.6" stroke="#000" stroke-width="0.9" fill="none"/>
<path d="M158.8,109.5 160.7,108.9" stroke="#000" stroke-width="0.9" fill="none"/>
<path d="M163.0,106.2 164.2,104.6" stroke="#000" stroke-width="0.9" fill="none"/>
<path d="M166.6,101.9 167.9,100.1" stroke="#000" stroke-width="0.9" fill="none"/>
<path d="M168.9,97.1 169.2,95.1" stroke="#000" stroke-width="0.9" fill="none"/>
<path d="M169.4,91.6 169.5,89.7" stroke="#000" stroke-width="0.9" fill="none"/>
<path d="M169.7,86.8 170.3,84.9" stroke="#000" stroke-width="0.9" fill="none"/>
<path d="M172.4,82.2 173.2,80.9" stroke="#000" stroke-width="0.9" fill="none"/>
<path d="M175.1,73.9 177.2,75.0" stroke="#000" stroke-width="0.9" fill="none"/>
<rect x="156.4" y="88.7" width="1.1" height="1.1" fill="#000"/>
<rect x="157.3" y="88.2" width="1.1" height="1.1" fill="#000"/>
<rect x="157.7" y="89.5" width="1.1" height="1.1" fill="#000"/>
<rect x="156.9" y="89.2" width="1.1" height="1.1" fill="#000"/>
<rect x="158.1" y="88.6" width="1.1" height="1.1" fill="#000"/>
<rect x="160.7" y="89.8" width="1.1" height="1.1" fill="#000"/>
<rect x="166.3" y="91.0" width="1.1" height="1.1" fill="#000"/>
<rect x="164.5" y="82.0" width="1.1" height="1.1" fill="#000"/>
<rect x="157.5" y="108.7" width="1.1" height="1.1" fill="#000"/>
<rect x="156.9" y="101.4" width="1.1" height="1.1" fill="#000"/>
<rect x="158.6" y="99.9" width="1.1" height="1.1" fill="#000"/>
<rect x="160.5" y="98.8" width="1.1" height="1.1" fill="#000"/>
<rect x="161.0" y="99.8" width="1.1" height="1.1" fill="#000"/>
<rect x="162.3" y="98.6" width="1.1" height="1.1" fill="#000"/>
<rect x="163.1" y="97.8" width="1.1" height="1.1" fill="#000"/>
<rect x="163.7" y="97.5" width="1.1" height="1.1" fill="#000"/>
<rect x="161.5" y="101.0" width="1.1" height="1.1" fill="#000"/>
<rect x="159.9" y="101.7" width="1.1" height="1.1" fill="#000"/>
<rect x="158.5" y="102.3" width="1.1" height="1.1" fill="#000"/>
<rect x="161.8" y="96.9" width="1.1" height="1.1" fill="#000"/>
<rect x="164.7" y="96.9" width="1.1" height="1.1" fill="#000"/>
<rect x="159.4" y="98.2" width="1.1" height="1.1" fill="#000"/>
<path d="M157.4,101.9 159.1,100.7" stroke="#000" stroke-width="0.8" stroke-dasharray="1.2 0.8" fill="none"/>
<path d="M159.1,100.7 160.7,99.8" stroke="#000" stroke-width="0.8" stroke-dasharray="1.2 0.8" fill="none"/>
<path d="M160.7,99.8 162.3,98.8" stroke="#000" stroke-width="0.8" stroke-dasharray="1.2 0.8" fill="none"/>
<path d="M162.3,98.8 163.9,98.0" stroke="#000" stroke-width="0.8" stroke-dasharray="1.2 0.8" fill="none"/>
<path d="M163.9,98.0 165.2,97.4" stroke="#000" stroke-width="0.8" stroke-dasharray="1.2 0.8" fill="none"/>
</g>
<rect x="146.7" y="74.5" width="30.8" height="40.6" fill="none" stroke="#222" stroke-width="1"/>
<rect x="0" y="0" width="177.5" height="115.1" fill="none" stroke="#333" stroke-width="1"/>
</g>
<path d="M502.9,141.4 H674.7 L683.7,145.85 L674.7,150.3 H502.9Z" fill="url(#cbgrad)" stroke="#333" stroke-width="0.8"/>
<line x1="502.9" y1="150.3" x2="502.9" y2="153.60000000000002" stroke="#333" stroke-width="0.8"/>
<text x="502.9" y="164.2" text-anchor="middle" font-size="11">0.0</text>
<line x1="545.9" y1="150.3" x2="545.9" y2="153.60000000000002" stroke="#333" stroke-width="0.8"/>
<text x="545.9" y="164.2" text-anchor="middle" font-size="11">0.2</text>
<line x1="588.8" y1="150.3" x2="588.8" y2="153.60000000000002" stroke="#333" stroke-width="0.8"/>
<text x="588.8" y="164.2" text-anchor="middle" font-size="11">0.4</text>
<line x1="631.8" y1="150.3" x2="631.8" y2="153.60000000000002" stroke="#333" stroke-width="0.8"/>
<text x="631.8" y="164.2" text-anchor="middle" font-size="11">0.6</text>
<line x1="674.7" y1="150.3" x2="674.7" y2="153.60000000000002" stroke="#333" stroke-width="0.8"/>
<text x="674.7" y="164.2" text-anchor="middle" font-size="11">0.8</text>
<g transform="translate(35.5,191.6)">
<g clip-path="url(#frameclip)">
<g clip-path="url(#cnclip)">
<path d="M-30.6,98.5 25.6,-16.8 138.2,-11.2 182.5,109.2Z" fill="#e8b9aa" fill-opacity="1.0"/>
<g filter="url(#bl2_5)">
<ellipse cx="108.0" cy="87.0" rx="15" ry="9" fill="#df8a74" fill-opacity="0.8" transform="rotate(0 108.0 87.0)"/>
<ellipse cx="92.0" cy="78.0" rx="6" ry="5" fill="#df8a74" fill-opacity="0.85" transform="rotate(0 92.0 78.0)"/>
<ellipse cx="110.0" cy="66.0" rx="12" ry="4" fill="#df8a74" fill-opacity="0.55" transform="rotate(-10 110.0 66.0)"/>
<ellipse cx="114.0" cy="58.0" rx="6" ry="8" fill="#e6a591" fill-opacity="0.6" transform="rotate(0 114.0 58.0)"/>
<ellipse cx="50.0" cy="28.0" rx="12" ry="7" fill="#e6a591" fill-opacity="0.55" transform="rotate(0 50.0 28.0)"/>
<ellipse cx="55.0" cy="40.0" rx="20" ry="4" fill="#e6a591" fill-opacity="0.4" transform="rotate(0 55.0 40.0)"/>
<ellipse cx="72.0" cy="44.0" rx="10" ry="3" fill="#e2cfca" fill-opacity="0.4" transform="rotate(0 72.0 44.0)"/>
<ellipse cx="126.0" cy="33.0" rx="5" ry="9" fill="#e6a591" fill-opacity="0.5" transform="rotate(0 126.0 33.0)"/>
</g>
<g filter="url(#bl2_0)">
<ellipse cx="118.0" cy="17.0" rx="6" ry="8" fill="#b6cefa" fill-opacity="0.9" transform="rotate(10 118.0 17.0)"/>
<ellipse cx="124.0" cy="12.0" rx="5" ry="4" fill="#b6cefa" fill-opacity="0.7" transform="rotate(0 124.0 12.0)"/>
<ellipse cx="134.5" cy="28.0" rx="3" ry="8" fill="#b6cefa" fill-opacity="0.85" transform="rotate(20 134.5 28.0)"/>
<ellipse cx="131.0" cy="40.0" rx="2.5" ry="3" fill="#b6cefa" fill-opacity="0.5" transform="rotate(0 131.0 40.0)"/>
<ellipse cx="123.0" cy="33.0" rx="4" ry="9" fill="#e6a591" fill-opacity="0.5" transform="rotate(35 123.0 33.0)"/>
<ellipse cx="104.0" cy="50.0" rx="16" ry="3.2" fill="#e2cfca" fill-opacity="0.55" transform="rotate(-35 104.0 50.0)"/>
<ellipse cx="92.0" cy="60.0" rx="5" ry="2.5" fill="#e2cfca" fill-opacity="0.5" transform="rotate(-30 92.0 60.0)"/>
<ellipse cx="100.0" cy="40.0" rx="8" ry="2.5" fill="#e2cfca" fill-opacity="0.45" transform="rotate(0 100.0 40.0)"/>
</g>
<path d="M23.0,43.9 31.1,47.8 38.3,49.0 46.5,49.6 54.6,50.1 61.4,50.9 68.8,49.6 79.1,52.5 83.5,55.9 85.6,59.1 87.1,64.4 85.9,71.0 83.6,75.4 82.4,79.6 79.3,84.0 75.7,86.1 72.5,87.5 69.5,89.9 68.7,100.2 7.9,87.4Z" fill="#ffffff" fill-opacity="1.0"/>
<g filter="url(#bl1_0)">
<ellipse cx="67.0" cy="54.0" rx="7" ry="2.2" fill="#b6cefa" fill-opacity="0.9" transform="rotate(28 67.0 54.0)"/>
<ellipse cx="84.0" cy="60.0" rx="7" ry="2.2" fill="#b6cefa" fill-opacity="0.85" transform="rotate(10 84.0 60.0)"/>
<ellipse cx="90.0" cy="68.0" rx="2" ry="4" fill="#b6cefa" fill-opacity="0.7" transform="rotate(0 90.0 68.0)"/>
<ellipse cx="80.0" cy="87.0" rx="7" ry="8" fill="#b6cefa" fill-opacity="0.75" transform="rotate(0 80.0 87.0)"/>
<ellipse cx="84.0" cy="80.0" rx="4" ry="4" fill="#b6cefa" fill-opacity="0.5" transform="rotate(0 84.0 80.0)"/>
<ellipse cx="50.0" cy="39.5" rx="6.5" ry="1.6" fill="#ffffff" fill-opacity="1.0" transform="rotate(3 50.0 39.5)"/>
<ellipse cx="49.0" cy="35.5" rx="5" ry="1.5" fill="#b6cefa" fill-opacity="0.6" transform="rotate(0 49.0 35.5)"/>
<ellipse cx="56.0" cy="42.5" rx="6" ry="1.2" fill="#b6cefa" fill-opacity="0.5" transform="rotate(0 56.0 42.5)"/>
</g>
</g>
<path d="M117.5,90.2 116.4,91.4 115.0,92.0 113.6,92.6 112.2,93.1 111.0,94.0 109.6,93.6 109.2,94.4 108.3,95.0 106.8,95.6 105.2,96.3 103.5,96.8 102.3,97.5 102.0,98.8 102.2,99.8 101.4,100.0 100.7,99.4 100.1,98.1 99.8,96.9 98.6,97.0 97.3,96.3 96.6,96.7 95.9,96.9" fill="none" stroke="#df8a74" stroke-width="2.6" stroke-linejoin="round" transform="translate(0.2,1.0)"/>
<path d="M97.6,102.8 97.8,101.6 99.0,100.9 100.0,100.6 101.5,100.4 102.5,100.3 103.5,101.4 103.1,103.1 102.4,104.1 101.2,105.0 99.9,105.3 98.7,104.8 97.9,104.1Z" fill="#f5a081" stroke="#000" stroke-width="1.1"/>
<path d="M27.4,40.1 28.5,39.7 30.8,38.3 32.2,39.3 33.8,39.5 35.5,38.4 37.5,38.4 39.6,37.3 41.8,37.2 42.4,35.3 43.6,34.7 43.5,32.1 44.8,29.8 47.9,30.2 47.7,29.3 49.9,25.3 54.2,26.6 55.2,23.2 57.3,22.6 58.4,21.8 59.1,21.9 59.4,23.7 60.7,25.4 62.4,25.8 62.9,28.2 63.4,30.9 62.8,32.7 65.8,33.9 67.6,34.2 70.7,36.3 72.3,40.5 75.3,41.0 80.6,41.3 82.5,41.8 86.1,43.6 88.5,44.3 92.0,42.4 96.7,41.9 98.7,41.0 101.2,38.6 100.7,36.6 101.1,34.6 104.3,35.3 105.8,33.6 107.9,33.1 109.5,30.6 110.6,29.9 112.2,29.2 114.7,29.2 114.8,27.6 113.2,26.5 112.1,26.0 110.9,26.3 109.7,26.7 108.3,26.8 106.9,26.8 107.0,26.0 107.7,24.4 108.4,21.6 109.6,22.1 110.5,22.2 111.6,21.0 112.6,19.8 112.6,18.3 113.4,16.1 114.2,13.9 113.9,12.7 114.9,11.8 116.4,11.1 117.8,10.6 119.3,11.0 121.0,11.0 121.9,11.5 123.1,12.5 124.6,14.8 125.6,16.2 126.4,17.4 128.3,18.6 130.1,18.7 132.2,19.5 133.3,21.6 134.5,22.1 136.2,21.6 137.7,19.9 139.4,18.9 139.6,20.1 139.5,22.0 139.5,23.9 139.2,25.6 139.1,27.9 137.1,28.0 136.3,29.2 135.6,29.6 136.6,31.6 137.1,33.1 136.8,34.5 136.5,35.9 136.0,35.5 135.1,34.9 134.9,36.4 134.1,37.1 133.7,37.8 132.2,38.2 131.4,39.7 130.1,39.1 129.6,40.3 128.7,41.9 127.7,42.9 127.0,43.4 126.2,44.7 125.8,45.3 124.9,45.6 123.8,46.4 122.6,47.4 121.5,48.7 120.7,49.2 121.1,47.9 121.5,46.8 121.9,44.8 121.4,43.7 120.3,43.5 119.4,43.8 118.8,44.9 117.8,46.2 116.9,46.8 116.1,48.4 115.0,49.1 114.0,49.1 113.7,49.8 113.7,51.1 114.6,51.7 115.8,51.7 116.8,52.5 117.3,53.9 118.6,53.8 119.4,52.5 120.3,51.8 121.8,52.3 123.1,52.0 124.1,52.2 123.9,53.6 122.2,54.4 121.1,55.4 120.6,56.2 119.8,56.8 118.8,58.2 118.3,59.3 118.5,60.6 119.6,61.0 120.9,62.4 121.9,64.4 122.7,65.5 124.0,66.5 125.1,67.4 125.4,68.7 125.6,69.6 124.4,70.2 123.6,71.1 125.3,71.9 126.5,72.0 126.3,73.8 125.9,75.5 125.7,76.9 124.8,78.1 124.1,79.5 123.3,81.0 122.7,82.7 122.7,84.2 121.6,85.4 120.7,86.9 119.3,87.6 118.5,89.0 117.5,90.2 116.4,91.4 115.0,92.0 113.6,92.6 112.2,93.1 111.0,94.0 109.6,93.6 109.2,94.4 108.3,95.0 106.8,95.6 105.2,96.3 103.5,96.8 102.3,97.5 102.0,98.8 102.2,99.8 101.4,100.0 100.7,99.4 100.1,98.1 99.8,96.9 98.6,97.0 97.3,96.3 96.6,96.7 95.9,96.9 94.7,96.6 93.4,95.8 92.7,95.8 92.3,94.6 92.8,93.7 90.6,93.4 89.3,92.5 88.1,93.0 87.1,93.9 86.0,94.5 85.2,93.7 84.2,94.2 82.5,93.8 81.8,94.6 80.6,94.9 80.3,95.8 80.7,96.7 80.2,97.7 79.0,96.7 77.5,97.0 76.8,96.8 76.2,95.6 74.4,95.2 75.3,93.0 73.9,92.3 73.5,90.2 71.1,90.3 70.9,88.0 71.7,86.7 73.6,85.2 74.0,82.9 74.1,80.8 73.2,80.7 72.9,79.1 71.5,78.8 69.9,79.4 67.9,81.1 66.0,81.7 63.2,81.7 60.2,81.3 58.6,81.3 57.8,80.0 58.2,78.6 55.6,77.6 53.7,77.0 52.2,78.6 51.6,79.0 51.7,77.1 50.2,77.2 47.5,76.6 45.5,75.8 44.0,74.4 42.6,73.4 41.7,72.1 40.4,70.9 38.7,69.0 36.7,67.9 35.8,67.9 34.4,66.2 32.8,65.2 31.8,64.0 32.0,62.4 32.0,60.8 33.4,61.2 33.2,59.7 33.4,58.1 33.0,56.1 34.3,56.5 33.4,53.1 32.7,52.7 31.3,51.5 29.8,50.7 29.8,49.4 29.0,47.8 28.2,46.7 27.7,46.5 28.6,45.7 29.1,44.7 29.1,43.4 27.8,42.7 27.6,41.5 27.4,40.6Z" fill="none" stroke="#000" stroke-width="1.3" stroke-linejoin="round"/>
<path d="M123.6,71.1 125.3,71.9 126.5,72.0 126.3,73.8 125.9,75.5 125.7,76.9 124.8,78.1 124.1,79.5 123.3,81.0 122.7,82.7 122.7,84.2 121.6,85.4 120.7,86.9 119.3,87.6 118.5,89.0 117.5,90.2 116.4,91.4 115.0,92.0 113.6,92.6 112.2,93.1 111.0,94.0 109.6,93.6 109.2,94.4 108.3,95.0 106.8,95.6 105.2,96.3 103.5,96.8 102.3,97.5 102.0,98.8 102.2,99.8 101.4,100.0 100.7,99.4 100.1,98.1 99.8,96.9 98.6,97.0 97.3,96.3 96.6,96.7 95.9,96.9" fill="none" stroke="#000" stroke-width="2.2" stroke-linejoin="round"/>
<path d="M125.8,85.6 127.1,85.1 128.1,85.7 128.1,87.1 127.9,89.5 127.5,91.6 126.7,94.2 126.1,93.2 125.0,92.5 124.3,91.3 124.2,89.3 124.8,87.6 125.6,86.3Z" fill="none" stroke="#000" stroke-width="1.2"/>
<path d="M101.6,107.5 100.9,110.3" stroke="#000" stroke-width="1" fill="none"/>
<path d="M100.5,117.3 100.1,120.3" stroke="#000" stroke-width="1" fill="none"/>
<path d="M100.5,129.6 102.3,132.4" stroke="#000" stroke-width="1" fill="none"/>
<path d="M105.1,136.5 108.1,138.7" stroke="#000" stroke-width="1" fill="none"/>
<path d="M111.0,139.9 114.4,138.6" stroke="#000" stroke-width="1" fill="none"/>
<path d="M118.0,134.3 120.0,131.6" stroke="#000" stroke-width="1" fill="none"/>
<path d="M123.7,127.1 125.5,124.2" stroke="#000" stroke-width="1" fill="none"/>
<path d="M126.5,119.3 126.6,116.3" stroke="#000" stroke-width="1" fill="none"/>
<path d="M126.1,110.9 125.9,107.9" stroke="#000" stroke-width="1" fill="none"/>
<path d="M125.5,103.3 126.0,100.2" stroke="#000" stroke-width="1" fill="none"/>
<path d="M128.5,95.4 129.4,93.1" stroke="#000" stroke-width="1" fill="none"/>
<path d="M130.2,81.4 133.6,82.6" stroke="#000" stroke-width="1" fill="none"/>
<rect x="104.9" y="108.7" width="1.3" height="1.3" fill="#000"/>
<rect x="106.4" y="107.8" width="1.3" height="1.3" fill="#000"/>
<rect x="107.1" y="109.8" width="1.3" height="1.3" fill="#000"/>
<rect x="105.8" y="109.4" width="1.3" height="1.3" fill="#000"/>
<rect x="107.7" y="108.2" width="1.3" height="1.3" fill="#000"/>
<rect x="112.0" y="109.9" width="1.3" height="1.3" fill="#000"/>
<rect x="121.3" y="110.6" width="1.3" height="1.3" fill="#000"/>
<rect x="116.8" y="96.9" width="1.3" height="1.3" fill="#000"/>
<rect x="109.0" y="138.9" width="1.3" height="1.3" fill="#000"/>
<rect x="107.1" y="128.1" width="1.3" height="1.3" fill="#000"/>
<rect x="109.9" y="125.7" width="1.3" height="1.3" fill="#000"/>
<rect x="113.1" y="123.7" width="1.3" height="1.3" fill="#000"/>
<rect x="114.0" y="125.1" width="1.3" height="1.3" fill="#000"/>
<rect x="116.0" y="123.2" width="1.3" height="1.3" fill="#000"/>
<rect x="117.3" y="121.8" width="1.3" height="1.3" fill="#000"/>
<rect x="118.3" y="121.2" width="1.3" height="1.3" fill="#000"/>
<rect x="115.0" y="126.9" width="1.3" height="1.3" fill="#000"/>
<rect x="112.4" y="128.1" width="1.3" height="1.3" fill="#000"/>
<rect x="109.9" y="129.3" width="1.3" height="1.3" fill="#000"/>
<rect x="114.9" y="120.6" width="1.3" height="1.3" fill="#000"/>
<rect x="119.8" y="120.0" width="1.3" height="1.3" fill="#000"/>
<rect x="111.1" y="122.9" width="1.3" height="1.3" fill="#000"/>
</g>
<g clip-path="url(#insetclip)">
<rect x="146.7" y="74.5" width="30.8" height="40.6" fill="#fff"/>
<path d="M95.9,52.5 96.6,52.1 98.1,50.8 99.4,51.1 100.7,50.9 101.8,50.0 103.4,49.7 104.9,48.7 106.6,48.3 106.7,47.1 107.6,46.6 107.0,45.1 107.6,43.5 110.3,43.3 110.0,42.8 111.1,40.1 115.1,40.3 115.4,38.2 117.2,37.5 118.1,37.0 118.8,36.9 119.3,38.0 120.7,38.9 122.3,39.0 123.1,40.4 123.9,42.0 123.6,43.1 126.3,43.6 127.9,43.7 130.8,44.7 132.6,47.2 135.1,47.4 139.6,47.4 141.2,47.6 144.2,48.7 146.3,49.1 149.2,47.9 153.2,47.7 155.0,47.2 157.2,45.9 156.9,44.7 157.4,43.5 160.1,44.0 161.5,43.1 163.4,42.9 165.0,41.5 166.2,41.1 167.6,40.8 169.8,41.1 170.2,40.1 168.9,39.3 167.9,38.9 166.8,39.0 165.7,39.1 164.4,39.1 163.1,39.0 163.3,38.5 164.1,37.5 165.0,35.9 166.2,36.3 167.0,36.4 168.1,35.8 169.2,35.1 169.4,34.2 170.5,32.9 171.6,31.6 171.4,30.8 172.6,30.3 174.2,30.1 175.6,29.9 177.0,30.3 178.6,30.6 179.4,31.0 180.4,31.8 181.4,33.4 182.0,34.4 182.5,35.2 183.9,36.3 185.5,36.6 187.3,37.4 187.8,38.8 188.7,39.3 190.3,39.3 192.1,38.5 193.8,38.3 193.7,39.0 193.0,40.1 192.6,41.2 191.9,42.2 191.3,43.5 189.5,43.2 188.6,43.8 187.9,43.9 188.3,45.2 188.4,46.2 187.8,47.0 187.3,47.7 187.0,47.5 186.3,47.0 185.8,47.8 185.0,48.1 184.6,48.4 183.3,48.5 182.3,49.2 181.4,48.7 180.7,49.4 179.8,50.2 178.8,50.7 178.2,50.9 177.3,51.5 176.9,51.9 176.1,51.9 175.1,52.3 174.0,52.7 173.0,53.4 172.2,53.6 172.7,52.9 173.2,52.3 173.8,51.1 173.5,50.4 172.7,50.2 171.9,50.3 171.3,50.9 170.3,51.5 169.5,51.9 168.7,52.7 167.8,53.1 167.0,53.0 166.6,53.4 166.5,54.2 167.1,54.6 168.1,54.7 168.8,55.2 169.0,56.1 170.0,56.2 170.8,55.5 171.6,55.1 172.7,55.6 173.8,55.5 174.5,55.8 174.2,56.6 172.7,56.9 171.8,57.4 171.3,57.8 170.6,58.1 169.7,58.8 169.2,59.5 169.2,60.3 170.0,60.6 170.8,61.5 171.3,62.8 171.8,63.5 172.6,64.3 173.3,64.9 173.4,65.7 173.4,66.3 172.4,66.5 171.8,67.0 172.9,67.6 173.7,67.8 173.4,68.9 172.9,69.9 172.6,70.7 171.8,71.3 171.1,72.1 170.5,72.9 169.8,73.9 169.7,74.8 168.9,75.5 168.1,76.3 167.1,76.6 166.5,77.4 165.7,78.0 164.9,78.7 163.9,79.0 163.0,79.2 162.0,79.5 161.1,79.9 160.2,79.6 159.9,80.1 159.3,80.4 158.3,80.7 157.2,81.1 156.1,81.3 155.3,81.7 155.0,82.5 155.1,83.1 154.6,83.2 154.2,82.8 153.8,82.0 153.7,81.2 152.9,81.3 152.1,80.8 151.6,81.1 151.1,81.1 150.3,81.0 149.5,80.4 149.0,80.4 148.8,79.7 149.1,79.1 147.7,78.9 146.8,78.3 146.0,78.7 145.4,79.2 144.6,79.6 144.1,79.1 143.4,79.5 142.3,79.2 141.8,79.7 141.1,79.9 140.9,80.5 141.2,81.1 140.9,81.7 140.1,81.1 139.1,81.3 138.6,81.2 138.2,80.5 137.0,80.3 137.5,78.9 136.6,78.5 136.2,77.2 134.6,77.4 134.4,76.0 134.9,75.1 136.1,74.2 136.2,72.7 136.2,71.5 135.6,71.5 135.3,70.5 134.3,70.3 133.2,70.8 131.9,71.9 130.6,72.4 128.7,72.6 126.6,72.6 125.5,72.7 124.9,71.9 125.0,71.1 123.1,70.7 121.7,70.5 120.9,71.6 120.5,71.9 120.3,70.7 119.3,71.0 117.4,70.9 115.9,70.7 114.6,70.0 113.5,69.5 112.7,68.9 111.6,68.3 110.2,67.5 108.6,67.1 107.9,67.2 106.6,66.4 105.4,66.1 104.4,65.5 104.2,64.6 103.9,63.6 105.0,63.6 104.6,62.8 104.4,61.9 103.8,60.7 104.7,60.7 103.4,58.9 102.8,58.8 101.5,58.3 100.2,58.1 99.9,57.4 99.0,56.6 98.2,56.1 97.7,56.1 98.2,55.5 98.3,54.8 98.0,54.0 96.9,53.9 96.4,53.2 96.1,52.7Z" fill="#e9b4a2" stroke="none"/>
<path d="M165.7,78.0 164.9,78.7 163.9,79.0 163.0,79.2 162.0,79.5 161.1,79.9 160.2,79.6 159.9,80.1 159.3,80.4 158.3,80.7 157.2,81.1 156.1,81.3 155.3,81.7 155.0,82.5 155.1,83.1 154.6,83.2 154.2,82.8 153.8,82.0 153.7,81.2 152.9,81.3 152.1,80.8 151.6,81.1 151.1,81.1" fill="none" stroke="#e16751" stroke-width="1.6" transform="translate(0,0.7)"/>
<path d="M95.9,52.5 96.6,52.1 98.1,50.8 99.4,51.1 100.7,50.9 101.8,50.0 103.4,49.7 104.9,48.7 106.6,48.3 106.7,47.1 107.6,46.6 107.0,45.1 107.6,43.5 110.3,43.3 110.0,42.8 111.1,40.1 115.1,40.3 115.4,38.2 117.2,37.5 118.1,37.0 118.8,36.9 119.3,38.0 120.7,38.9 122.3,39.0 123.1,40.4 123.9,42.0 123.6,43.1 126.3,43.6 127.9,43.7 130.8,44.7 132.6,47.2 135.1,47.4 139.6,47.4 141.2,47.6 144.2,48.7 146.3,49.1 149.2,47.9 153.2,47.7 155.0,47.2 157.2,45.9 156.9,44.7 157.4,43.5 160.1,44.0 161.5,43.1 163.4,42.9 165.0,41.5 166.2,41.1 167.6,40.8 169.8,41.1 170.2,40.1 168.9,39.3 167.9,38.9 166.8,39.0 165.7,39.1 164.4,39.1 163.1,39.0 163.3,38.5 164.1,37.5 165.0,35.9 166.2,36.3 167.0,36.4 168.1,35.8 169.2,35.1 169.4,34.2 170.5,32.9 171.6,31.6 171.4,30.8 172.6,30.3 174.2,30.1 175.6,29.9 177.0,30.3 178.6,30.6 179.4,31.0 180.4,31.8 181.4,33.4 182.0,34.4 182.5,35.2 183.9,36.3 185.5,36.6 187.3,37.4 187.8,38.8 188.7,39.3 190.3,39.3 192.1,38.5 193.8,38.3 193.7,39.0 193.0,40.1 192.6,41.2 191.9,42.2 191.3,43.5 189.5,43.2 188.6,43.8 187.9,43.9 188.3,45.2 188.4,46.2 187.8,47.0 187.3,47.7 187.0,47.5 186.3,47.0 185.8,47.8 185.0,48.1 184.6,48.4 183.3,48.5 182.3,49.2 181.4,48.7 180.7,49.4 179.8,50.2 178.8,50.7 178.2,50.9 177.3,51.5 176.9,51.9 176.1,51.9 175.1,52.3 174.0,52.7 173.0,53.4 172.2,53.6 172.7,52.9 173.2,52.3 173.8,51.1 173.5,50.4 172.7,50.2 171.9,50.3 171.3,50.9 170.3,51.5 169.5,51.9 168.7,52.7 167.8,53.1 167.0,53.0 166.6,53.4 166.5,54.2 167.1,54.6 168.1,54.7 168.8,55.2 169.0,56.1 170.0,56.2 170.8,55.5 171.6,55.1 172.7,55.6 173.8,55.5 174.5,55.8 174.2,56.6 172.7,56.9 171.8,57.4 171.3,57.8 170.6,58.1 169.7,58.8 169.2,59.5 169.2,60.3 170.0,60.6 170.8,61.5 171.3,62.8 171.8,63.5 172.6,64.3 173.3,64.9 173.4,65.7 173.4,66.3 172.4,66.5 171.8,67.0 172.9,67.6 173.7,67.8 173.4,68.9 172.9,69.9 172.6,70.7 171.8,71.3 171.1,72.1 170.5,72.9 169.8,73.9 169.7,74.8 168.9,75.5 168.1,76.3 167.1,76.6 166.5,77.4 165.7,78.0 164.9,78.7 163.9,79.0 163.0,79.2 162.0,79.5 161.1,79.9 160.2,79.6 159.9,80.1 159.3,80.4 158.3,80.7 157.2,81.1 156.1,81.3 155.3,81.7 155.0,82.5 155.1,83.1 154.6,83.2 154.2,82.8 153.8,82.0 153.7,81.2 152.9,81.3 152.1,80.8 151.6,81.1 151.1,81.1 150.3,81.0 149.5,80.4 149.0,80.4 148.8,79.7 149.1,79.1 147.7,78.9 146.8,78.3 146.0,78.7 145.4,79.2 144.6,79.6 144.1,79.1 143.4,79.5 142.3,79.2 141.8,79.7 141.1,79.9 140.9,80.5 141.2,81.1 140.9,81.7 140.1,81.1 139.1,81.3 138.6,81.2 138.2,80.5 137.0,80.3 137.5,78.9 136.6,78.5 136.2,77.2 134.6,77.4 134.4,76.0 134.9,75.1 136.1,74.2 136.2,72.7 136.2,71.5 135.6,71.5 135.3,70.5 134.3,70.3 133.2,70.8 131.9,71.9 130.6,72.4 128.7,72.6 126.6,72.6 125.5,72.7 124.9,71.9 125.0,71.1 123.1,70.7 121.7,70.5 120.9,71.6 120.5,71.9 120.3,70.7 119.3,71.0 117.4,70.9 115.9,70.7 114.6,70.0 113.5,69.5 112.7,68.9 111.6,68.3 110.2,67.5 108.6,67.1 107.9,67.2 106.6,66.4 105.4,66.1 104.4,65.5 104.2,64.6 103.9,63.6 105.0,63.6 104.6,62.8 104.4,61.9 103.8,60.7 104.7,60.7 103.4,58.9 102.8,58.8 101.5,58.3 100.2,58.1 99.9,57.4 99.0,56.6 98.2,56.1 97.7,56.1 98.2,55.5 98.3,54.8 98.0,54.0 96.9,53.9 96.4,53.2 96.1,52.7Z" fill="none" stroke="#000" stroke-width="1.1"/>
<path d="M152.1,84.9 152.2,84.1 153.0,83.7 153.7,83.5 154.6,83.5 155.3,83.5 155.9,84.2 155.6,85.2 155.1,85.9 154.3,86.3 153.5,86.5 152.7,86.2 152.2,85.7Z" fill="#f6a586" stroke="#000" stroke-width="0.9"/>
<path d="M171.7,75.9 172.6,75.8 173.2,76.3 173.0,77.1 172.6,78.5 172.2,79.8 171.4,81.3 171.0,80.6 170.4,80.1 170.1,79.3 170.2,78.0 170.8,77.1 171.4,76.3Z" fill="none" stroke="#000" stroke-width="0.9"/>
<path d="M154.5,87.9 154.0,89.7" stroke="#000" stroke-width="0.9" fill="none"/>
<path d="M153.5,94.2 153.2,96.1" stroke="#000" stroke-width="0.9" fill="none"/>
<path d="M153.2,102.2 154.2,104.1" stroke="#000" stroke-width="0.9" fill="none"/>
<path d="M155.6,107.0 157.2,108.6" stroke="#000" stroke-width="0.9" fill="none"/>
<path d="M158.8,109.5 160.7,108.9" stroke="#000" stroke-width="0.9" fill="none"/>
<path d="M163.0,106.2 164.2,104.6" stroke="#000" stroke-width="0.9" fill="none"/>
<path d="M166.6,101.9 167.9,100.1" stroke="#000" stroke-width="0.9" fill="none"/>
<path d="M168.9,97.1 169.2,95.1" stroke="#000" stroke-width="0.9" fill="none"/>
<path d="M169.4,91.6 169.5,89.7" stroke="#000" stroke-width="0.9" fill="none"/>
<path d="M169.7,86.8 170.3,84.9" stroke="#000" stroke-width="0.9" fill="none"/>
<path d="M172.4,82.2 173.2,80.9" stroke="#000" stroke-width="0.9" fill="none"/>
<path d="M175.1,73.9 177.2,75.0" stroke="#000" stroke-width="0.9" fill="none"/>
<rect x="156.4" y="88.7" width="1.1" height="1.1" fill="#000"/>
<rect x="157.3" y="88.2" width="1.1" height="1.1" fill="#000"/>
<rect x="157.7" y="89.5" width="1.1" height="1.1" fill="#000"/>
<rect x="156.9" y="89.2" width="1.1" height="1.1" fill="#000"/>
<rect x="158.1" y="88.6" width="1.1" height="1.1" fill="#000"/>
<rect x="160.7" y="89.8" width="1.1" height="1.1" fill="#000"/>
<rect x="166.3" y="91.0" width="1.1" height="1.1" fill="#000"/>
<rect x="164.5" y="82.0" width="1.1" height="1.1" fill="#000"/>
<rect x="157.5" y="108.7" width="1.1" height="1.1" fill="#000"/>
<rect x="156.9" y="101.4" width="1.1" height="1.1" fill="#000"/>
<rect x="158.6" y="99.9" width="1.1" height="1.1" fill="#000"/>
<rect x="160.5" y="98.8" width="1.1" height="1.1" fill="#000"/>
<rect x="161.0" y="99.8" width="1.1" height="1.1" fill="#000"/>
<rect x="162.3" y="98.6" width="1.1" height="1.1" fill="#000"/>
<rect x="163.1" y="97.8" width="1.1" height="1.1" fill="#000"/>
<rect x="163.7" y="97.5" width="1.1" height="1.1" fill="#000"/>
<rect x="161.5" y="101.0" width="1.1" height="1.1" fill="#000"/>
<rect x="159.9" y="101.7" width="1.1" height="1.1" fill="#000"/>
<rect x="158.5" y="102.3" width="1.1" height="1.1" fill="#000"/>
<rect x="161.8" y="96.9" width="1.1" height="1.1" fill="#000"/>
<rect x="164.7" y="96.9" width="1.1" height="1.1" fill="#000"/>
<rect x="159.4" y="98.2" width="1.1" height="1.1" fill="#000"/>
<path d="M157.4,101.9 159.1,100.7" stroke="#000" stroke-width="0.8" stroke-dasharray="1.2 0.8" fill="none"/>
<path d="M159.1,100.7 160.7,99.8" stroke="#000" stroke-width="0.8" stroke-dasharray="1.2 0.8" fill="none"/>
<path d="M160.7,99.8 162.3,98.8" stroke="#000" stroke-width="0.8" stroke-dasharray="1.2 0.8" fill="none"/>
<path d="M162.3,98.8 163.9,98.0" stroke="#000" stroke-width="0.8" stroke-dasharray="1.2 0.8" fill="none"/>
<path d="M163.9,98.0 165.2,97.4" stroke="#000" stroke-width="0.8" stroke-dasharray="1.2 0.8" fill="none"/>
</g>
<rect x="146.7" y="74.5" width="30.8" height="40.6" fill="none" stroke="#222" stroke-width="1"/>
<rect x="0" y="0" width="177.5" height="115.1" fill="none" stroke="#333" stroke-width="1"/>
</g>
<path d="M33.5,314.1 H205.3 L214.3,318.55 L205.3,323.0 H33.5Z" fill="url(#cbgrad)" stroke="#333" stroke-width="0.8"/>
<line x1="33.5" y1="323.0" x2="33.5" y2="326.3" stroke="#333" stroke-width="0.8"/>
<text x="33.5" y="336.9" text-anchor="middle" font-size="11">0.0</text>
<line x1="76.5" y1="323.0" x2="76.5" y2="326.3" stroke="#333" stroke-width="0.8"/>
<text x="76.5" y="336.9" text-anchor="middle" font-size="11">1.5</text>
<line x1="119.4" y1="323.0" x2="119.4" y2="326.3" stroke="#333" stroke-width="0.8"/>
<text x="119.4" y="336.9" text-anchor="middle" font-size="11">3.0</text>
<line x1="162.4" y1="323.0" x2="162.4" y2="326.3" stroke="#333" stroke-width="0.8"/>
<text x="162.4" y="336.9" text-anchor="middle" font-size="11">4.5</text>
<line x1="205.3" y1="323.0" x2="205.3" y2="326.3" stroke="#333" stroke-width="0.8"/>
<text x="205.3" y="336.9" text-anchor="middle" font-size="11">6.0</text>
<g transform="translate(269.8,191.6)">
<g clip-path="url(#frameclip)">
<g clip-path="url(#cnclip)">
<path d="M-30.6,98.5 25.6,-16.8 138.2,-11.2 182.5,109.2Z" fill="#eac5b9" fill-opacity="1.0"/>
<g filter="url(#bl2_5)">
<ellipse cx="108.0" cy="87.0" rx="15" ry="9" fill="#e3947f" fill-opacity="0.8" transform="rotate(0 108.0 87.0)"/>
<ellipse cx="92.0" cy="78.0" rx="6" ry="5" fill="#e3947f" fill-opacity="0.85" transform="rotate(0 92.0 78.0)"/>
<ellipse cx="110.0" cy="66.0" rx="12" ry="4" fill="#e3947f" fill-opacity="0.55" transform="rotate(-10 110.0 66.0)"/>
<ellipse cx="114.0" cy="58.0" rx="6" ry="8" fill="#e9ae9b" fill-opacity="0.6" transform="rotate(0 114.0 58.0)"/>
<ellipse cx="50.0" cy="28.0" rx="12" ry="7" fill="#e9ae9b" fill-opacity="0.3" transform="rotate(0 50.0 28.0)"/>
<ellipse cx="55.0" cy="40.0" rx="20" ry="4" fill="#e9ae9b" fill-opacity="0.4" transform="rotate(0 55.0 40.0)"/>
<ellipse cx="72.0" cy="44.0" rx="10" ry="3" fill="#e0d3d0" fill-opacity="0.4" transform="rotate(0 72.0 44.0)"/>
<ellipse cx="126.0" cy="33.0" rx="5" ry="9" fill="#e9ae9b" fill-opacity="0.5" transform="rotate(0 126.0 33.0)"/>
</g>
<g filter="url(#bl2_0)">
<ellipse cx="122.7" cy="17.0" rx="9" ry="7" fill="#b6cefa" fill-opacity="0.95" transform="rotate(0 122.7 17.0)"/>
<ellipse cx="133.0" cy="29.0" rx="4.5" ry="10" fill="#b6cefa" fill-opacity="0.9" transform="rotate(20 133.0 29.0)"/>
<ellipse cx="113.0" cy="24.0" rx="4" ry="6" fill="#b6cefa" fill-opacity="0.8" transform="rotate(0 113.0 24.0)"/>
<ellipse cx="107.0" cy="46.0" rx="3.5" ry="12" fill="#b6cefa" fill-opacity="0.65" transform="rotate(40 107.0 46.0)"/>
<ellipse cx="121.5" cy="34.0" rx="3.5" ry="9" fill="#e9ae9b" fill-opacity="0.75" transform="rotate(35 121.5 34.0)"/>
<ellipse cx="104.0" cy="50.0" rx="16" ry="3.2" fill="#b6cefa" fill-opacity="0.55" transform="rotate(-35 104.0 50.0)"/>
<ellipse cx="92.0" cy="60.0" rx="5" ry="2.5" fill="#e0d3d0" fill-opacity="0.5" transform="rotate(-30 92.0 60.0)"/>
<ellipse cx="100.0" cy="40.0" rx="8" ry="2.5" fill="#e0d3d0" fill-opacity="0.45" transform="rotate(0 100.0 40.0)"/>
</g>
<path d="M23.0,43.9 31.1,47.8 38.3,49.0 46.5,49.6 54.6,50.1 61.4,50.9 68.8,49.6 79.1,52.5 83.5,55.9 85.6,59.1 87.1,64.4 85.9,71.0 83.6,75.4 82.4,79.6 79.3,84.0 75.7,86.1 72.5,87.5 69.5,89.9 68.7,100.2 7.9,87.4Z" fill="#ffffff" fill-opacity="1.0"/>
<g filter="url(#bl1_0)">
<ellipse cx="67.0" cy="54.0" rx="7" ry="2.2" fill="#b6cefa" fill-opacity="0.9" transform="rotate(28 67.0 54.0)"/>
<ellipse cx="84.0" cy="60.0" rx="7" ry="2.2" fill="#b6cefa" fill-opacity="0.85" transform="rotate(10 84.0 60.0)"/>
<ellipse cx="90.0" cy="68.0" rx="2" ry="4" fill="#b6cefa" fill-opacity="0.7" transform="rotate(0 90.0 68.0)"/>
<ellipse cx="80.0" cy="87.0" rx="7" ry="8" fill="#b6cefa" fill-opacity="0.75" transform="rotate(0 80.0 87.0)"/>
<ellipse cx="84.0" cy="80.0" rx="4" ry="4" fill="#b6cefa" fill-opacity="0.5" transform="rotate(0 84.0 80.0)"/>
<ellipse cx="50.0" cy="39.5" rx="6.5" ry="1.6" fill="#ffffff" fill-opacity="1.0" transform="rotate(3 50.0 39.5)"/>
<ellipse cx="49.0" cy="35.5" rx="5" ry="1.5" fill="#b6cefa" fill-opacity="0.6" transform="rotate(0 49.0 35.5)"/>
<ellipse cx="56.0" cy="42.5" rx="6" ry="1.2" fill="#b6cefa" fill-opacity="0.5" transform="rotate(0 56.0 42.5)"/>
</g>
</g>
<path d="M117.5,90.2 116.4,91.4 115.0,92.0 113.6,92.6 112.2,93.1 111.0,94.0 109.6,93.6 109.2,94.4 108.3,95.0 106.8,95.6 105.2,96.3 103.5,96.8 102.3,97.5 102.0,98.8 102.2,99.8 101.4,100.0 100.7,99.4 100.1,98.1 99.8,96.9 98.6,97.0 97.3,96.3 96.6,96.7 95.9,96.9" fill="none" stroke="#e3947f" stroke-width="2.6" stroke-linejoin="round" transform="translate(0.2,1.0)"/>
<path d="M97.6,102.8 97.8,101.6 99.0,100.9 100.0,100.6 101.5,100.4 102.5,100.3 103.5,101.4 103.1,103.1 102.4,104.1 101.2,105.0 99.9,105.3 98.7,104.8 97.9,104.1Z" fill="#f5a081" stroke="#000" stroke-width="1.1"/>
<path d="M27.4,40.1 28.5,39.7 30.8,38.3 32.2,39.3 33.8,39.5 35.5,38.4 37.5,38.4 39.6,37.3 41.8,37.2 42.4,35.3 43.6,34.7 43.5,32.1 44.8,29.8 47.9,30.2 47.7,29.3 49.9,25.3 54.2,26.6 55.2,23.2 57.3,22.6 58.4,21.8 59.1,21.9 59.4,23.7 60.7,25.4 62.4,25.8 62.9,28.2 63.4,30.9 62.8,32.7 65.8,33.9 67.6,34.2 70.7,36.3 72.3,40.5 75.3,41.0 80.6,41.3 82.5,41.8 86.1,43.6 88.5,44.3 92.0,42.4 96.7,41.9 98.7,41.0 101.2,38.6 100.7,36.6 101.1,34.6 104.3,35.3 105.8,33.6 107.9,33.1 109.5,30.6 110.6,29.9 112.2,29.2 114.7,29.2 114.8,27.6 113.2,26.5 112.1,26.0 110.9,26.3 109.7,26.7 108.3,26.8 106.9,26.8 107.0,26.0 107.7,24.4 108.4,21.6 109.6,22.1 110.5,22.2 111.6,21.0 112.6,19.8 112.6,18.3 113.4,16.1 114.2,13.9 113.9,12.7 114.9,11.8 116.4,11.1 117.8,10.6 119.3,11.0 121.0,11.0 121.9,11.5 123.1,12.5 124.6,14.8 125.6,16.2 126.4,17.4 128.3,18.6 130.1,18.7 132.2,19.5 133.3,21.6 134.5,22.1 136.2,21.6 137.7,19.9 139.4,18.9 139.6,20.1 139.5,22.0 139.5,23.9 139.2,25.6 139.1,27.9 137.1,28.0 136.3,29.2 135.6,29.6 136.6,31.6 137.1,33.1 136.8,34.5 136.5,35.9 136.0,35.5 135.1,34.9 134.9,36.4 134.1,37.1 133.7,37.8 132.2,38.2 131.4,39.7 130.1,39.1 129.6,40.3 128.7,41.9 127.7,42.9 127.0,43.4 126.2,44.7 125.8,45.3 124.9,45.6 123.8,46.4 122.6,47.4 121.5,48.7 120.7,49.2 121.1,47.9 121.5,46.8 121.9,44.8 121.4,43.7 120.3,43.5 119.4,43.8 118.8,44.9 117.8,46.2 116.9,46.8 116.1,48.4 115.0,49.1 114.0,49.1 113.7,49.8 113.7,51.1 114.6,51.7 115.8,51.7 116.8,52.5 117.3,53.9 118.6,53.8 119.4,52.5 120.3,51.8 121.8,52.3 123.1,52.0 124.1,52.2 123.9,53.6 122.2,54.4 121.1,55.4 120.6,56.2 119.8,56.8 118.8,58.2 118.3,59.3 118.5,60.6 119.6,61.0 120.9,62.4 121.9,64.4 122.7,65.5 124.0,66.5 125.1,67.4 125.4,68.7 125.6,69.6 124.4,70.2 123.6,71.1 125.3,71.9 126.5,72.0 126.3,73.8 125.9,75.5 125.7,76.9 124.8,78.1 124.1,79.5 123.3,81.0 122.7,82.7 122.7,84.2 121.6,85.4 120.7,86.9 119.3,87.6 118.5,89.0 117.5,90.2 116.4,91.4 115.0,92.0 113.6,92.6 112.2,93.1 111.0,94.0 109.6,93.6 109.2,94.4 108.3,95.0 106.8,95.6 105.2,96.3 103.5,96.8 102.3,97.5 102.0,98.8 102.2,99.8 101.4,100.0 100.7,99.4 100.1,98.1 99.8,96.9 98.6,97.0 97.3,96.3 96.6,96.7 95.9,96.9 94.7,96.6 93.4,95.8 92.7,95.8 92.3,94.6 92.8,93.7 90.6,93.4 89.3,92.5 88.1,93.0 87.1,93.9 86.0,94.5 85.2,93.7 84.2,94.2 82.5,93.8 81.8,94.6 80.6,94.9 80.3,95.8 80.7,96.7 80.2,97.7 79.0,96.7 77.5,97.0 76.8,96.8 76.2,95.6 74.4,95.2 75.3,93.0 73.9,92.3 73.5,90.2 71.1,90.3 70.9,88.0 71.7,86.7 73.6,85.2 74.0,82.9 74.1,80.8 73.2,80.7 72.9,79.1 71.5,78.8 69.9,79.4 67.9,81.1 66.0,81.7 63.2,81.7 60.2,81.3 58.6,81.3 57.8,80.0 58.2,78.6 55.6,77.6 53.7,77.0 52.2,78.6 51.6,79.0 51.7,77.1 50.2,77.2 47.5,76.6 45.5,75.8 44.0,74.4 42.6,73.4 41.7,72.1 40.4,70.9 38.7,69.0 36.7,67.9 35.8,67.9 34.4,66.2 32.8,65.2 31.8,64.0 32.0,62.4 32.0,60.8 33.4,61.2 33.2,59.7 33.4,58.1 33.0,56.1 34.3,56.5 33.4,53.1 32.7,52.7 31.3,51.5 29.8,50.7 29.8,49.4 29.0,47.8 28.2,46.7 27.7,46.5 28.6,45.7 29.1,44.7 29.1,43.4 27.8,42.7 27.6,41.5 27.4,40.6Z" fill="none" stroke="#000" stroke-width="1.3" stroke-linejoin="round"/>
<path d="M123.6,71.1 125.3,71.9 126.5,72.0 126.3,73.8 125.9,75.5 125.7,76.9 124.8,78.1 124.1,79.5 123.3,81.0 122.7,82.7 122.7,84.2 121.6,85.4 120.7,86.9 119.3,87.6 118.5,89.0 117.5,90.2 116.4,91.4 115.0,92.0 113.6,92.6 112.2,93.1 111.0,94.0 109.6,93.6 109.2,94.4 108.3,95.0 106.8,95.6 105.2,96.3 103.5,96.8 102.3,97.5 102.0,98.8 102.2,99.8 101.4,100.0 100.7,99.4 100.1,98.1 99.8,96.9 98.6,97.0 97.3,96.3 96.6,96.7 95.9,96.9" fill="none" stroke="#000" stroke-width="2.2" stroke-linejoin="round"/>
<path d="M125.8,85.6 127.1,85.1 128.1,85.7 128.1,87.1 127.9,89.5 127.5,91.6 126.7,94.2 126.1,93.2 125.0,92.5 124.3,91.3 124.2,89.3 124.8,87.6 125.6,86.3Z" fill="none" stroke="#000" stroke-width="1.2"/>
<path d="M101.6,107.5 100.9,110.3" stroke="#000" stroke-width="1" fill="none"/>
<path d="M100.5,117.3 100.1,120.3" stroke="#000" stroke-width="1" fill="none"/>
<path d="M100.5,129.6 102.3,132.4" stroke="#000" stroke-width="1" fill="none"/>
<path d="M105.1,136.5 108.1,138.7" stroke="#000" stroke-width="1" fill="none"/>
<path d="M111.0,139.9 114.4,138.6" stroke="#000" stroke-width="1" fill="none"/>
<path d="M118.0,134.3 120.0,131.6" stroke="#000" stroke-width="1" fill="none"/>
<path d="M123.7,127.1 125.5,124.2" stroke="#000" stroke-width="1" fill="none"/>
<path d="M126.5,119.3 126.6,116.3" stroke="#000" stroke-width="1" fill="none"/>
<path d="M126.1,110.9 125.9,107.9" stroke="#000" stroke-width="1" fill="none"/>
<path d="M125.5,103.3 126.0,100.2" stroke="#000" stroke-width="1" fill="none"/>
<path d="M128.5,95.4 129.4,93.1" stroke="#000" stroke-width="1" fill="none"/>
<path d="M130.2,81.4 133.6,82.6" stroke="#000" stroke-width="1" fill="none"/>
<rect x="104.9" y="108.7" width="1.3" height="1.3" fill="#000"/>
<rect x="106.4" y="107.8" width="1.3" height="1.3" fill="#000"/>
<rect x="107.1" y="109.8" width="1.3" height="1.3" fill="#000"/>
<rect x="105.8" y="109.4" width="1.3" height="1.3" fill="#000"/>
<rect x="107.7" y="108.2" width="1.3" height="1.3" fill="#000"/>
<rect x="112.0" y="109.9" width="1.3" height="1.3" fill="#000"/>
<rect x="121.3" y="110.6" width="1.3" height="1.3" fill="#000"/>
<rect x="116.8" y="96.9" width="1.3" height="1.3" fill="#000"/>
<rect x="109.0" y="138.9" width="1.3" height="1.3" fill="#000"/>
<rect x="107.1" y="128.1" width="1.3" height="1.3" fill="#000"/>
<rect x="109.9" y="125.7" width="1.3" height="1.3" fill="#000"/>
<rect x="113.1" y="123.7" width="1.3" height="1.3" fill="#000"/>
<rect x="114.0" y="125.1" width="1.3" height="1.3" fill="#000"/>
<rect x="116.0" y="123.2" width="1.3" height="1.3" fill="#000"/>
<rect x="117.3" y="121.8" width="1.3" height="1.3" fill="#000"/>
<rect x="118.3" y="121.2" width="1.3" height="1.3" fill="#000"/>
<rect x="115.0" y="126.9" width="1.3" height="1.3" fill="#000"/>
<rect x="112.4" y="128.1" width="1.3" height="1.3" fill="#000"/>
<rect x="109.9" y="129.3" width="1.3" height="1.3" fill="#000"/>
<rect x="114.9" y="120.6" width="1.3" height="1.3" fill="#000"/>
<rect x="119.8" y="120.0" width="1.3" height="1.3" fill="#000"/>
<rect x="111.1" y="122.9" width="1.3" height="1.3" fill="#000"/>
</g>
<g clip-path="url(#insetclip)">
<rect x="146.7" y="74.5" width="30.8" height="40.6" fill="#fff"/>
<path d="M95.9,52.5 96.6,52.1 98.1,50.8 99.4,51.1 100.7,50.9 101.8,50.0 103.4,49.7 104.9,48.7 106.6,48.3 106.7,47.1 107.6,46.6 107.0,45.1 107.6,43.5 110.3,43.3 110.0,42.8 111.1,40.1 115.1,40.3 115.4,38.2 117.2,37.5 118.1,37.0 118.8,36.9 119.3,38.0 120.7,38.9 122.3,39.0 123.1,40.4 123.9,42.0 123.6,43.1 126.3,43.6 127.9,43.7 130.8,44.7 132.6,47.2 135.1,47.4 139.6,47.4 141.2,47.6 144.2,48.7 146.3,49.1 149.2,47.9 153.2,47.7 155.0,47.2 157.2,45.9 156.9,44.7 157.4,43.5 160.1,44.0 161.5,43.1 163.4,42.9 165.0,41.5 166.2,41.1 167.6,40.8 169.8,41.1 170.2,40.1 168.9,39.3 167.9,38.9 166.8,39.0 165.7,39.1 164.4,39.1 163.1,39.0 163.3,38.5 164.1,37.5 165.0,35.9 166.2,36.3 167.0,36.4 168.1,35.8 169.2,35.1 169.4,34.2 170.5,32.9 171.6,31.6 171.4,30.8 172.6,30.3 174.2,30.1 175.6,29.9 177.0,30.3 178.6,30.6 179.4,31.0 180.4,31.8 181.4,33.4 182.0,34.4 182.5,35.2 183.9,36.3 185.5,36.6 187.3,37.4 187.8,38.8 188.7,39.3 190.3,39.3 192.1,38.5 193.8,38.3 193.7,39.0 193.0,40.1 192.6,41.2 191.9,42.2 191.3,43.5 189.5,43.2 188.6,43.8 187.9,43.9 188.3,45.2 188.4,46.2 187.8,47.0 187.3,47.7 187.0,47.5 186.3,47.0 185.8,47.8 185.0,48.1 184.6,48.4 183.3,48.5 182.3,49.2 181.4,48.7 180.7,49.4 179.8,50.2 178.8,50.7 178.2,50.9 177.3,51.5 176.9,51.9 176.1,51.9 175.1,52.3 174.0,52.7 173.0,53.4 172.2,53.6 172.7,52.9 173.2,52.3 173.8,51.1 173.5,50.4 172.7,50.2 171.9,50.3 171.3,50.9 170.3,51.5 169.5,51.9 168.7,52.7 167.8,53.1 167.0,53.0 166.6,53.4 166.5,54.2 167.1,54.6 168.1,54.7 168.8,55.2 169.0,56.1 170.0,56.2 170.8,55.5 171.6,55.1 172.7,55.6 173.8,55.5 174.5,55.8 174.2,56.6 172.7,56.9 171.8,57.4 171.3,57.8 170.6,58.1 169.7,58.8 169.2,59.5 169.2,60.3 170.0,60.6 170.8,61.5 171.3,62.8 171.8,63.5 172.6,64.3 173.3,64.9 173.4,65.7 173.4,66.3 172.4,66.5 171.8,67.0 172.9,67.6 173.7,67.8 173.4,68.9 172.9,69.9 172.6,70.7 171.8,71.3 171.1,72.1 170.5,72.9 169.8,73.9 169.7,74.8 168.9,75.5 168.1,76.3 167.1,76.6 166.5,77.4 165.7,78.0 164.9,78.7 163.9,79.0 163.0,79.2 162.0,79.5 161.1,79.9 160.2,79.6 159.9,80.1 159.3,80.4 158.3,80.7 157.2,81.1 156.1,81.3 155.3,81.7 155.0,82.5 155.1,83.1 154.6,83.2 154.2,82.8 153.8,82.0 153.7,81.2 152.9,81.3 152.1,80.8 151.6,81.1 151.1,81.1 150.3,81.0 149.5,80.4 149.0,80.4 148.8,79.7 149.1,79.1 147.7,78.9 146.8,78.3 146.0,78.7 145.4,79.2 144.6,79.6 144.1,79.1 143.4,79.5 142.3,79.2 141.8,79.7 141.1,79.9 140.9,80.5 141.2,81.1 140.9,81.7 140.1,81.1 139.1,81.3 138.6,81.2 138.2,80.5 137.0,80.3 137.5,78.9 136.6,78.5 136.2,77.2 134.6,77.4 134.4,76.0 134.9,75.1 136.1,74.2 136.2,72.7 136.2,71.5 135.6,71.5 135.3,70.5 134.3,70.3 133.2,70.8 131.9,71.9 130.6,72.4 128.7,72.6 126.6,72.6 125.5,72.7 124.9,71.9 125.0,71.1 123.1,70.7 121.7,70.5 120.9,71.6 120.5,71.9 120.3,70.7 119.3,71.0 117.4,70.9 115.9,70.7 114.6,70.0 113.5,69.5 112.7,68.9 111.6,68.3 110.2,67.5 108.6,67.1 107.9,67.2 106.6,66.4 105.4,66.1 104.4,65.5 104.2,64.6 103.9,63.6 105.0,63.6 104.6,62.8 104.4,61.9 103.8,60.7 104.7,60.7 103.4,58.9 102.8,58.8 101.5,58.3 100.2,58.1 99.9,57.4 99.0,56.6 98.2,56.1 97.7,56.1 98.2,55.5 98.3,54.8 98.0,54.0 96.9,53.9 96.4,53.2 96.1,52.7Z" fill="#ecc0b1" stroke="none"/>
<path d="M165.7,78.0 164.9,78.7 163.9,79.0 163.0,79.2 162.0,79.5 161.1,79.9 160.2,79.6 159.9,80.1 159.3,80.4 158.3,80.7 157.2,81.1 156.1,81.3 155.3,81.7 155.0,82.5 155.1,83.1 154.6,83.2 154.2,82.8 153.8,82.0 153.7,81.2 152.9,81.3 152.1,80.8 151.6,81.1 151.1,81.1" fill="none" stroke="#e16751" stroke-width="1.6" transform="translate(0,0.7)"/>
<path d="M95.9,52.5 96.6,52.1 98.1,50.8 99.4,51.1 100.7,50.9 101.8,50.0 103.4,49.7 104.9,48.7 106.6,48.3 106.7,47.1 107.6,46.6 107.0,45.1 107.6,43.5 110.3,43.3 110.0,42.8 111.1,40.1 115.1,40.3 115.4,38.2 117.2,37.5 118.1,37.0 118.8,36.9 119.3,38.0 120.7,38.9 122.3,39.0 123.1,40.4 123.9,42.0 123.6,43.1 126.3,43.6 127.9,43.7 130.8,44.7 132.6,47.2 135.1,47.4 139.6,47.4 141.2,47.6 144.2,48.7 146.3,49.1 149.2,47.9 153.2,47.7 155.0,47.2 157.2,45.9 156.9,44.7 157.4,43.5 160.1,44.0 161.5,43.1 163.4,42.9 165.0,41.5 166.2,41.1 167.6,40.8 169.8,41.1 170.2,40.1 168.9,39.3 167.9,38.9 166.8,39.0 165.7,39.1 164.4,39.1 163.1,39.0 163.3,38.5 164.1,37.5 165.0,35.9 166.2,36.3 167.0,36.4 168.1,35.8 169.2,35.1 169.4,34.2 170.5,32.9 171.6,31.6 171.4,30.8 172.6,30.3 174.2,30.1 175.6,29.9 177.0,30.3 178.6,30.6 179.4,31.0 180.4,31.8 181.4,33.4 182.0,34.4 182.5,35.2 183.9,36.3 185.5,36.6 187.3,37.4 187.8,38.8 188.7,39.3 190.3,39.3 192.1,38.5 193.8,38.3 193.7,39.0 193.0,40.1 192.6,41.2 191.9,42.2 191.3,43.5 189.5,43.2 188.6,43.8 187.9,43.9 188.3,45.2 188.4,46.2 187.8,47.0 187.3,47.7 187.0,47.5 186.3,47.0 185.8,47.8 185.0,48.1 184.6,48.4 183.3,48.5 182.3,49.2 181.4,48.7 180.7,49.4 179.8,50.2 178.8,50.7 178.2,50.9 177.3,51.5 176.9,51.9 176.1,51.9 175.1,52.3 174.0,52.7 173.0,53.4 172.2,53.6 172.7,52.9 173.2,52.3 173.8,51.1 173.5,50.4 172.7,50.2 171.9,50.3 171.3,50.9 170.3,51.5 169.5,51.9 168.7,52.7 167.8,53.1 167.0,53.0 166.6,53.4 166.5,54.2 167.1,54.6 168.1,54.7 168.8,55.2 169.0,56.1 170.0,56.2 170.8,55.5 171.6,55.1 172.7,55.6 173.8,55.5 174.5,55.8 174.2,56.6 172.7,56.9 171.8,57.4 171.3,57.8 170.6,58.1 169.7,58.8 169.2,59.5 169.2,60.3 170.0,60.6 170.8,61.5 171.3,62.8 171.8,63.5 172.6,64.3 173.3,64.9 173.4,65.7 173.4,66.3 172.4,66.5 171.8,67.0 172.9,67.6 173.7,67.8 173.4,68.9 172.9,69.9 172.6,70.7 171.8,71.3 171.1,72.1 170.5,72.9 169.8,73.9 169.7,74.8 168.9,75.5 168.1,76.3 167.1,76.6 166.5,77.4 165.7,78.0 164.9,78.7 163.9,79.0 163.0,79.2 162.0,79.5 161.1,79.9 160.2,79.6 159.9,80.1 159.3,80.4 158.3,80.7 157.2,81.1 156.1,81.3 155.3,81.7 155.0,82.5 155.1,83.1 154.6,83.2 154.2,82.8 153.8,82.0 153.7,81.2 152.9,81.3 152.1,80.8 151.6,81.1 151.1,81.1 150.3,81.0 149.5,80.4 149.0,80.4 148.8,79.7 149.1,79.1 147.7,78.9 146.8,78.3 146.0,78.7 145.4,79.2 144.6,79.6 144.1,79.1 143.4,79.5 142.3,79.2 141.8,79.7 141.1,79.9 140.9,80.5 141.2,81.1 140.9,81.7 140.1,81.1 139.1,81.3 138.6,81.2 138.2,80.5 137.0,80.3 137.5,78.9 136.6,78.5 136.2,77.2 134.6,77.4 134.4,76.0 134.9,75.1 136.1,74.2 136.2,72.7 136.2,71.5 135.6,71.5 135.3,70.5 134.3,70.3 133.2,70.8 131.9,71.9 130.6,72.4 128.7,72.6 126.6,72.6 125.5,72.7 124.9,71.9 125.0,71.1 123.1,70.7 121.7,70.5 120.9,71.6 120.5,71.9 120.3,70.7 119.3,71.0 117.4,70.9 115.9,70.7 114.6,70.0 113.5,69.5 112.7,68.9 111.6,68.3 110.2,67.5 108.6,67.1 107.9,67.2 106.6,66.4 105.4,66.1 104.4,65.5 104.2,64.6 103.9,63.6 105.0,63.6 104.6,62.8 104.4,61.9 103.8,60.7 104.7,60.7 103.4,58.9 102.8,58.8 101.5,58.3 100.2,58.1 99.9,57.4 99.0,56.6 98.2,56.1 97.7,56.1 98.2,55.5 98.3,54.8 98.0,54.0 96.9,53.9 96.4,53.2 96.1,52.7Z" fill="none" stroke="#000" stroke-width="1.1"/>
<path d="M152.1,84.9 152.2,84.1 153.0,83.7 153.7,83.5 154.6,83.5 155.3,83.5 155.9,84.2 155.6,85.2 155.1,85.9 154.3,86.3 153.5,86.5 152.7,86.2 152.2,85.7Z" fill="#f6a586" stroke="#000" stroke-width="0.9"/>
<path d="M171.7,75.9 172.6,75.8 173.2,76.3 173.0,77.1 172.6,78.5 172.2,79.8 171.4,81.3 171.0,80.6 170.4,80.1 170.1,79.3 170.2,78.0 170.8,77.1 171.4,76.3Z" fill="none" stroke="#000" stroke-width="0.9"/>
<path d="M154.5,87.9 154.0,89.7" stroke="#000" stroke-width="0.9" fill="none"/>
<path d="M153.5,94.2 153.2,96.1" stroke="#000" stroke-width="0.9" fill="none"/>
<path d="M153.2,102.2 154.2,104.1" stroke="#000" stroke-width="0.9" fill="none"/>
<path d="M155.6,107.0 157.2,108.6" stroke="#000" stroke-width="0.9" fill="none"/>
<path d="M158.8,109.5 160.7,108.9" stroke="#000" stroke-width="0.9" fill="none"/>
<path d="M163.0,106.2 164.2,104.6" stroke="#000" stroke-width="0.9" fill="none"/>
<path d="M166.6,101.9 167.9,100.1" stroke="#000" stroke-width="0.9" fill="none"/>
<path d="M168.9,97.1 169.2,95.1" stroke="#000" stroke-width="0.9" fill="none"/>
<path d="M169.4,91.6 169.5,89.7" stroke="#000" stroke-width="0.9" fill="none"/>
<path d="M169.7,86.8 170.3,84.9" stroke="#000" stroke-width="0.9" fill="none"/>
<path d="M172.4,82.2 173.2,80.9" stroke="#000" stroke-width="0.9" fill="none"/>
<path d="M175.1,73.9 177.2,75.0" stroke="#000" stroke-width="0.9" fill="none"/>
<rect x="156.4" y="88.7" width="1.1" height="1.1" fill="#000"/>
<rect x="157.3" y="88.2" width="1.1" height="1.1" fill="#000"/>
<rect x="157.7" y="89.5" width="1.1" height="1.1" fill="#000"/>
<rect x="156.9" y="89.2" width="1.1" height="1.1" fill="#000"/>
<rect x="158.1" y="88.6" width="1.1" height="1.1" fill="#000"/>
<rect x="160.7" y="89.8" width="1.1" height="1.1" fill="#000"/>
<rect x="166.3" y="91.0" width="1.1" height="1.1" fill="#000"/>
<rect x="164.5" y="82.0" width="1.1" height="1.1" fill="#000"/>
<rect x="157.5" y="108.7" width="1.1" height="1.1" fill="#000"/>
<rect x="156.9" y="101.4" width="1.1" height="1.1" fill="#000"/>
<rect x="158.6" y="99.9" width="1.1" height="1.1" fill="#000"/>
<rect x="160.5" y="98.8" width="1.1" height="1.1" fill="#000"/>
<rect x="161.0" y="99.8" width="1.1" height="1.1" fill="#000"/>
<rect x="162.3" y="98.6" width="1.1" height="1.1" fill="#000"/>
<rect x="163.1" y="97.8" width="1.1" height="1.1" fill="#000"/>
<rect x="163.7" y="97.5" width="1.1" height="1.1" fill="#000"/>
<rect x="161.5" y="101.0" width="1.1" height="1.1" fill="#000"/>
<rect x="159.9" y="101.7" width="1.1" height="1.1" fill="#000"/>
<rect x="158.5" y="102.3" width="1.1" height="1.1" fill="#000"/>
<rect x="161.8" y="96.9" width="1.1" height="1.1" fill="#000"/>
<rect x="164.7" y="96.9" width="1.1" height="1.1" fill="#000"/>
<rect x="159.4" y="98.2" width="1.1" height="1.1" fill="#000"/>
<path d="M157.4,101.9 159.1,100.7" stroke="#000" stroke-width="0.8" stroke-dasharray="1.2 0.8" fill="none"/>
<path d="M159.1,100.7 160.7,99.8" stroke="#000" stroke-width="0.8" stroke-dasharray="1.2 0.8" fill="none"/>
<path d="M160.7,99.8 162.3,98.8" stroke="#000" stroke-width="0.8" stroke-dasharray="1.2 0.8" fill="none"/>
<path d="M162.3,98.8 163.9,98.0" stroke="#000" stroke-width="0.8" stroke-dasharray="1.2 0.8" fill="none"/>
<path d="M163.9,98.0 165.2,97.4" stroke="#000" stroke-width="0.8" stroke-dasharray="1.2 0.8" fill="none"/>
</g>
<rect x="146.7" y="74.5" width="30.8" height="40.6" fill="none" stroke="#222" stroke-width="1"/>
<rect x="0" y="0" width="177.5" height="115.1" fill="none" stroke="#333" stroke-width="1"/>
</g>
<path d="M268.5,314.1 H440.3 L449.3,318.55 L440.3,323.0 H268.5Z" fill="url(#cbgrad)" stroke="#333" stroke-width="0.8"/>
<line x1="268.5" y1="323.0" x2="268.5" y2="326.3" stroke="#333" stroke-width="0.8"/>
<text x="268.5" y="336.9" text-anchor="middle" font-size="11">0.0</text>
<line x1="311.4" y1="323.0" x2="311.4" y2="326.3" stroke="#333" stroke-width="0.8"/>
<text x="311.4" y="336.9" text-anchor="middle" font-size="11">4.0</text>
<line x1="354.4" y1="323.0" x2="354.4" y2="326.3" stroke="#333" stroke-width="0.8"/>
<text x="354.4" y="336.9" text-anchor="middle" font-size="11">8.0</text>
<line x1="397.4" y1="323.0" x2="397.4" y2="326.3" stroke="#333" stroke-width="0.8"/>
<text x="397.4" y="336.9" text-anchor="middle" font-size="11">12.0</text>
<line x1="440.3" y1="323.0" x2="440.3" y2="326.3" stroke="#333" stroke-width="0.8"/>
<text x="440.3" y="336.9" text-anchor="middle" font-size="11">16.0</text>
<g transform="translate(504.7,191.6)">
<g clip-path="url(#frameclip)">
<g clip-path="url(#cnclip)">
<path d="M-30.6,98.5 25.6,-16.8 138.2,-11.2 182.5,109.2Z" fill="#e59f8c" fill-opacity="1.0"/>
<g filter="url(#bl2_5)">
<ellipse cx="108.0" cy="87.0" rx="15" ry="9" fill="#d6735e" fill-opacity="0.8" transform="rotate(0 108.0 87.0)"/>
<ellipse cx="92.0" cy="78.0" rx="6" ry="5" fill="#d6735e" fill-opacity="0.85" transform="rotate(0 92.0 78.0)"/>
<ellipse cx="110.0" cy="66.0" rx="12" ry="4" fill="#d6735e" fill-opacity="0.95" transform="rotate(-10 110.0 66.0)"/>
<ellipse cx="114.0" cy="58.0" rx="6" ry="8" fill="#de8a76" fill-opacity="0.6" transform="rotate(0 114.0 58.0)"/>
<ellipse cx="50.0" cy="28.0" rx="12" ry="7" fill="#de8a76" fill-opacity="0.55" transform="rotate(0 50.0 28.0)"/>
<ellipse cx="55.0" cy="40.0" rx="20" ry="4" fill="#de8a76" fill-opacity="0.4" transform="rotate(0 55.0 40.0)"/>
<ellipse cx="72.0" cy="44.0" rx="10" ry="3" fill="#e6bcae" fill-opacity="0.4" transform="rotate(0 72.0 44.0)"/>
<ellipse cx="126.0" cy="33.0" rx="5" ry="9" fill="#de8a76" fill-opacity="0.5" transform="rotate(0 126.0 33.0)"/>
</g>
<g filter="url(#bl2_0)">
<ellipse cx="119.0" cy="13.0" rx="5" ry="4" fill="#b6cefa" fill-opacity="0.35" transform="rotate(0 119.0 13.0)"/>
<ellipse cx="135.0" cy="29.0" rx="2.5" ry="6" fill="#b6cefa" fill-opacity="0.4" transform="rotate(20 135.0 29.0)"/>
<ellipse cx="104.0" cy="50.0" rx="16" ry="3.2" fill="#b6cefa" fill-opacity="0.35" transform="rotate(-35 104.0 50.0)"/>
<ellipse cx="92.0" cy="60.0" rx="5" ry="2.5" fill="#e6bcae" fill-opacity="0.5" transform="rotate(-30 92.0 60.0)"/>
<ellipse cx="100.0" cy="40.0" rx="8" ry="2.5" fill="#e6bcae" fill-opacity="0.45" transform="rotate(0 100.0 40.0)"/>
</g>
<path d="M23.0,43.9 31.1,47.8 38.3,49.0 46.5,49.6 54.6,50.1 61.4,50.9 68.8,49.6 79.1,52.5 83.5,55.9 85.6,59.1 87.1,64.4 85.9,71.0 83.6,75.4 82.4,79.6 79.3,84.0 75.7,86.1 72.5,87.5 69.5,89.9 68.7,100.2 7.9,87.4Z" fill="#ffffff" fill-opacity="1.0"/>
<g filter="url(#bl1_0)">
<ellipse cx="67.0" cy="54.0" rx="7" ry="2.2" fill="#b6cefa" fill-opacity="0.9" transform="rotate(28 67.0 54.0)"/>
<ellipse cx="84.0" cy="60.0" rx="7" ry="2.2" fill="#b6cefa" fill-opacity="0.85" transform="rotate(10 84.0 60.0)"/>
<ellipse cx="90.0" cy="68.0" rx="2" ry="4" fill="#b6cefa" fill-opacity="0.7" transform="rotate(0 90.0 68.0)"/>
<ellipse cx="80.0" cy="87.0" rx="7" ry="8" fill="#b6cefa" fill-opacity="0.75" transform="rotate(0 80.0 87.0)"/>
<ellipse cx="84.0" cy="80.0" rx="4" ry="4" fill="#b6cefa" fill-opacity="0.5" transform="rotate(0 84.0 80.0)"/>
<ellipse cx="50.0" cy="39.5" rx="6.5" ry="1.6" fill="#ffffff" fill-opacity="1.0" transform="rotate(3 50.0 39.5)"/>
<ellipse cx="49.0" cy="35.5" rx="5" ry="1.5" fill="#b6cefa" fill-opacity="0.6" transform="rotate(0 49.0 35.5)"/>
<ellipse cx="56.0" cy="42.5" rx="6" ry="1.2" fill="#b6cefa" fill-opacity="0.5" transform="rotate(0 56.0 42.5)"/>
</g>
</g>
<path d="M117.5,90.2 116.4,91.4 115.0,92.0 113.6,92.6 112.2,93.1 111.0,94.0 109.6,93.6 109.2,94.4 108.3,95.0 106.8,95.6 105.2,96.3 103.5,96.8 102.3,97.5 102.0,98.8 102.2,99.8 101.4,100.0 100.7,99.4 100.1,98.1 99.8,96.9 98.6,97.0 97.3,96.3 96.6,96.7 95.9,96.9" fill="none" stroke="#d6735e" stroke-width="2.6" stroke-linejoin="round" transform="translate(0.2,1.0)"/>
<path d="M97.6,102.8 97.8,101.6 99.0,100.9 100.0,100.6 101.5,100.4 102.5,100.3 103.5,101.4 103.1,103.1 102.4,104.1 101.2,105.0 99.9,105.3 98.7,104.8 97.9,104.1Z" fill="#f5a081" stroke="#000" stroke-width="1.1"/>
<path d="M27.4,40.1 28.5,39.7 30.8,38.3 32.2,39.3 33.8,39.5 35.5,38.4 37.5,38.4 39.6,37.3 41.8,37.2 42.4,35.3 43.6,34.7 43.5,32.1 44.8,29.8 47.9,30.2 47.7,29.3 49.9,25.3 54.2,26.6 55.2,23.2 57.3,22.6 58.4,21.8 59.1,21.9 59.4,23.7 60.7,25.4 62.4,25.8 62.9,28.2 63.4,30.9 62.8,32.7 65.8,33.9 67.6,34.2 70.7,36.3 72.3,40.5 75.3,41.0 80.6,41.3 82.5,41.8 86.1,43.6 88.5,44.3 92.0,42.4 96.7,41.9 98.7,41.0 101.2,38.6 100.7,36.6 101.1,34.6 104.3,35.3 105.8,33.6 107.9,33.1 109.5,30.6 110.6,29.9 112.2,29.2 114.7,29.2 114.8,27.6 113.2,26.5 112.1,26.0 110.9,26.3 109.7,26.7 108.3,26.8 106.9,26.8 107.0,26.0 107.7,24.4 108.4,21.6 109.6,22.1 110.5,22.2 111.6,21.0 112.6,19.8 112.6,18.3 113.4,16.1 114.2,13.9 113.9,12.7 114.9,11.8 116.4,11.1 117.8,10.6 119.3,11.0 121.0,11.0 121.9,11.5 123.1,12.5 124.6,14.8 125.6,16.2 126.4,17.4 128.3,18.6 130.1,18.7 132.2,19.5 133.3,21.6 134.5,22.1 136.2,21.6 137.7,19.9 139.4,18.9 139.6,20.1 139.5,22.0 139.5,23.9 139.2,25.6 139.1,27.9 137.1,28.0 136.3,29.2 135.6,29.6 136.6,31.6 137.1,33.1 136.8,34.5 136.5,35.9 136.0,35.5 135.1,34.9 134.9,36.4 134.1,37.1 133.7,37.8 132.2,38.2 131.4,39.7 130.1,39.1 129.6,40.3 128.7,41.9 127.7,42.9 127.0,43.4 126.2,44.7 125.8,45.3 124.9,45.6 123.8,46.4 122.6,47.4 121.5,48.7 120.7,49.2 121.1,47.9 121.5,46.8 121.9,44.8 121.4,43.7 120.3,43.5 119.4,43.8 118.8,44.9 117.8,46.2 116.9,46.8 116.1,48.4 115.0,49.1 114.0,49.1 113.7,49.8 113.7,51.1 114.6,51.7 115.8,51.7 116.8,52.5 117.3,53.9 118.6,53.8 119.4,52.5 120.3,51.8 121.8,52.3 123.1,52.0 124.1,52.2 123.9,53.6 122.2,54.4 121.1,55.4 120.6,56.2 119.8,56.8 118.8,58.2 118.3,59.3 118.5,60.6 119.6,61.0 120.9,62.4 121.9,64.4 122.7,65.5 124.0,66.5 125.1,67.4 125.4,68.7 125.6,69.6 124.4,70.2 123.6,71.1 125.3,71.9 126.5,72.0 126.3,73.8 125.9,75.5 125.7,76.9 124.8,78.1 124.1,79.5 123.3,81.0 122.7,82.7 122.7,84.2 121.6,85.4 120.7,86.9 119.3,87.6 118.5,89.0 117.5,90.2 116.4,91.4 115.0,92.0 113.6,92.6 112.2,93.1 111.0,94.0 109.6,93.6 109.2,94.4 108.3,95.0 106.8,95.6 105.2,96.3 103.5,96.8 102.3,97.5 102.0,98.8 102.2,99.8 101.4,100.0 100.7,99.4 100.1,98.1 99.8,96.9 98.6,97.0 97.3,96.3 96.6,96.7 95.9,96.9 94.7,96.6 93.4,95.8 92.7,95.8 92.3,94.6 92.8,93.7 90.6,93.4 89.3,92.5 88.1,93.0 87.1,93.9 86.0,94.5 85.2,93.7 84.2,94.2 82.5,93.8 81.8,94.6 80.6,94.9 80.3,95.8 80.7,96.7 80.2,97.7 79.0,96.7 77.5,97.0 76.8,96.8 76.2,95.6 74.4,95.2 75.3,93.0 73.9,92.3 73.5,90.2 71.1,90.3 70.9,88.0 71.7,86.7 73.6,85.2 74.0,82.9 74.1,80.8 73.2,80.7 72.9,79.1 71.5,78.8 69.9,79.4 67.9,81.1 66.0,81.7 63.2,81.7 60.2,81.3 58.6,81.3 57.8,80.0 58.2,78.6 55.6,77.6 53.7,77.0 52.2,78.6 51.6,79.0 51.7,77.1 50.2,77.2 47.5,76.6 45.5,75.8 44.0,74.4 42.6,73.4 41.7,72.1 40.4,70.9 38.7,69.0 36.7,67.9 35.8,67.9 34.4,66.2 32.8,65.2 31.8,64.0 32.0,62.4 32.0,60.8 33.4,61.2 33.2,59.7 33.4,58.1 33.0,56.1 34.3,56.5 33.4,53.1 32.7,52.7 31.3,51.5 29.8,50.7 29.8,49.4 29.0,47.8 28.2,46.7 27.7,46.5 28.6,45.7 29.1,44.7 29.1,43.4 27.8,42.7 27.6,41.5 27.4,40.6Z" fill="none" stroke="#000" stroke-width="1.3" stroke-linejoin="round"/>
<path d="M123.6,71.1 125.3,71.9 126.5,72.0 126.3,73.8 125.9,75.5 125.7,76.9 124.8,78.1 124.1,79.5 123.3,81.0 122.7,82.7 122.7,84.2 121.6,85.4 120.7,86.9 119.3,87.6 118.5,89.0 117.5,90.2 116.4,91.4 115.0,92.0 113.6,92.6 112.2,93.1 111.0,94.0 109.6,93.6 109.2,94.4 108.3,95.0 106.8,95.6 105.2,96.3 103.5,96.8 102.3,97.5 102.0,98.8 102.2,99.8 101.4,100.0 100.7,99.4 100.1,98.1 99.8,96.9 98.6,97.0 97.3,96.3 96.6,96.7 95.9,96.9" fill="none" stroke="#000" stroke-width="2.2" stroke-linejoin="round"/>
<path d="M125.8,85.6 127.1,85.1 128.1,85.7 128.1,87.1 127.9,89.5 127.5,91.6 126.7,94.2 126.1,93.2 125.0,92.5 124.3,91.3 124.2,89.3 124.8,87.6 125.6,86.3Z" fill="none" stroke="#000" stroke-width="1.2"/>
<path d="M101.6,107.5 100.9,110.3" stroke="#000" stroke-width="1" fill="none"/>
<path d="M100.5,117.3 100.1,120.3" stroke="#000" stroke-width="1" fill="none"/>
<path d="M100.5,129.6 102.3,132.4" stroke="#000" stroke-width="1" fill="none"/>
<path d="M105.1,136.5 108.1,138.7" stroke="#000" stroke-width="1" fill="none"/>
<path d="M111.0,139.9 114.4,138.6" stroke="#000" stroke-width="1" fill="none"/>
<path d="M118.0,134.3 120.0,131.6" stroke="#000" stroke-width="1" fill="none"/>
<path d="M123.7,127.1 125.5,124.2" stroke="#000" stroke-width="1" fill="none"/>
<path d="M126.5,119.3 126.6,116.3" stroke="#000" stroke-width="1" fill="none"/>
<path d="M126.1,110.9 125.9,107.9" stroke="#000" stroke-width="1" fill="none"/>
<path d="M125.5,103.3 126.0,100.2" stroke="#000" stroke-width="1" fill="none"/>
<path d="M128.5,95.4 129.4,93.1" stroke="#000" stroke-width="1" fill="none"/>
<path d="M130.2,81.4 133.6,82.6" stroke="#000" stroke-width="1" fill="none"/>
<rect x="104.9" y="108.7" width="1.3" height="1.3" fill="#000"/>
<rect x="106.4" y="107.8" width="1.3" height="1.3" fill="#000"/>
<rect x="107.1" y="109.8" width="1.3" height="1.3" fill="#000"/>
<rect x="105.8" y="109.4" width="1.3" height="1.3" fill="#000"/>
<rect x="107.7" y="108.2" width="1.3" height="1.3" fill="#000"/>
<rect x="112.0" y="109.9" width="1.3" height="1.3" fill="#000"/>
<rect x="121.3" y="110.6" width="1.3" height="1.3" fill="#000"/>
<rect x="116.8" y="96.9" width="1.3" height="1.3" fill="#000"/>
<rect x="109.0" y="138.9" width="1.3" height="1.3" fill="#000"/>
<rect x="107.1" y="128.1" width="1.3" height="1.3" fill="#000"/>
<rect x="109.9" y="125.7" width="1.3" height="1.3" fill="#000"/>
<rect x="113.1" y="123.7" width="1.3" height="1.3" fill="#000"/>
<rect x="114.0" y="125.1" width="1.3" height="1.3" fill="#000"/>
<rect x="116.0" y="123.2" width="1.3" height="1.3" fill="#000"/>
<rect x="117.3" y="121.8" width="1.3" height="1.3" fill="#000"/>
<rect x="118.3" y="121.2" width="1.3" height="1.3" fill="#000"/>
<rect x="115.0" y="126.9" width="1.3" height="1.3" fill="#000"/>
<rect x="112.4" y="128.1" width="1.3" height="1.3" fill="#000"/>
<rect x="109.9" y="129.3" width="1.3" height="1.3" fill="#000"/>
<rect x="114.9" y="120.6" width="1.3" height="1.3" fill="#000"/>
<rect x="119.8" y="120.0" width="1.3" height="1.3" fill="#000"/>
<rect x="111.1" y="122.9" width="1.3" height="1.3" fill="#000"/>
</g>
<g clip-path="url(#insetclip)">
<rect x="146.7" y="74.5" width="30.8" height="40.6" fill="#fff"/>
<path d="M95.9,52.5 96.6,52.1 98.1,50.8 99.4,51.1 100.7,50.9 101.8,50.0 103.4,49.7 104.9,48.7 106.6,48.3 106.7,47.1 107.6,46.6 107.0,45.1 107.6,43.5 110.3,43.3 110.0,42.8 111.1,40.1 115.1,40.3 115.4,38.2 117.2,37.5 118.1,37.0 118.8,36.9 119.3,38.0 120.7,38.9 122.3,39.0 123.1,40.4 123.9,42.0 123.6,43.1 126.3,43.6 127.9,43.7 130.8,44.7 132.6,47.2 135.1,47.4 139.6,47.4 141.2,47.6 144.2,48.7 146.3,49.1 149.2,47.9 153.2,47.7 155.0,47.2 157.2,45.9 156.9,44.7 157.4,43.5 160.1,44.0 161.5,43.1 163.4,42.9 165.0,41.5 166.2,41.1 167.6,40.8 169.8,41.1 170.2,40.1 168.9,39.3 167.9,38.9 166.8,39.0 165.7,39.1 164.4,39.1 163.1,39.0 163.3,38.5 164.1,37.5 165.0,35.9 166.2,36.3 167.0,36.4 168.1,35.8 169.2,35.1 169.4,34.2 170.5,32.9 171.6,31.6 171.4,30.8 172.6,30.3 174.2,30.1 175.6,29.9 177.0,30.3 178.6,30.6 179.4,31.0 180.4,31.8 181.4,33.4 182.0,34.4 182.5,35.2 183.9,36.3 185.5,36.6 187.3,37.4 187.8,38.8 188.7,39.3 190.3,39.3 192.1,38.5 193.8,38.3 193.7,39.0 193.0,40.1 192.6,41.2 191.9,42.2 191.3,43.5 189.5,43.2 188.6,43.8 187.9,43.9 188.3,45.2 188.4,46.2 187.8,47.0 187.3,47.7 187.0,47.5 186.3,47.0 185.8,47.8 185.0,48.1 184.6,48.4 183.3,48.5 182.3,49.2 181.4,48.7 180.7,49.4 179.8,50.2 178.8,50.7 178.2,50.9 177.3,51.5 176.9,51.9 176.1,51.9 175.1,52.3 174.0,52.7 173.0,53.4 172.2,53.6 172.7,52.9 173.2,52.3 173.8,51.1 173.5,50.4 172.7,50.2 171.9,50.3 171.3,50.9 170.3,51.5 169.5,51.9 168.7,52.7 167.8,53.1 167.0,53.0 166.6,53.4 166.5,54.2 167.1,54.6 168.1,54.7 168.8,55.2 169.0,56.1 170.0,56.2 170.8,55.5 171.6,55.1 172.7,55.6 173.8,55.5 174.5,55.8 174.2,56.6 172.7,56.9 171.8,57.4 171.3,57.8 170.6,58.1 169.7,58.8 169.2,59.5 169.2,60.3 170.0,60.6 170.8,61.5 171.3,62.8 171.8,63.5 172.6,64.3 173.3,64.9 173.4,65.7 173.4,66.3 172.4,66.5 171.8,67.0 172.9,67.6 173.7,67.8 173.4,68.9 172.9,69.9 172.6,70.7 171.8,71.3 171.1,72.1 170.5,72.9 169.8,73.9 169.7,74.8 168.9,75.5 168.1,76.3 167.1,76.6 166.5,77.4 165.7,78.0 164.9,78.7 163.9,79.0 163.0,79.2 162.0,79.5 161.1,79.9 160.2,79.6 159.9,80.1 159.3,80.4 158.3,80.7 157.2,81.1 156.1,81.3 155.3,81.7 155.0,82.5 155.1,83.1 154.6,83.2 154.2,82.8 153.8,82.0 153.7,81.2 152.9,81.3 152.1,80.8 151.6,81.1 151.1,81.1 150.3,81.0 149.5,80.4 149.0,80.4 148.8,79.7 149.1,79.1 147.7,78.9 146.8,78.3 146.0,78.7 145.4,79.2 144.6,79.6 144.1,79.1 143.4,79.5 142.3,79.2 141.8,79.7 141.1,79.9 140.9,80.5 141.2,81.1 140.9,81.7 140.1,81.1 139.1,81.3 138.6,81.2 138.2,80.5 137.0,80.3 137.5,78.9 136.6,78.5 136.2,77.2 134.6,77.4 134.4,76.0 134.9,75.1 136.1,74.2 136.2,72.7 136.2,71.5 135.6,71.5 135.3,70.5 134.3,70.3 133.2,70.8 131.9,71.9 130.6,72.4 128.7,72.6 126.6,72.6 125.5,72.7 124.9,71.9 125.0,71.1 123.1,70.7 121.7,70.5 120.9,71.6 120.5,71.9 120.3,70.7 119.3,71.0 117.4,70.9 115.9,70.7 114.6,70.0 113.5,69.5 112.7,68.9 111.6,68.3 110.2,67.5 108.6,67.1 107.9,67.2 106.6,66.4 105.4,66.1 104.4,65.5 104.2,64.6 103.9,63.6 105.0,63.6 104.6,62.8 104.4,61.9 103.8,60.7 104.7,60.7 103.4,58.9 102.8,58.8 101.5,58.3 100.2,58.1 99.9,57.4 99.0,56.6 98.2,56.1 97.7,56.1 98.2,55.5 98.3,54.8 98.0,54.0 96.9,53.9 96.4,53.2 96.1,52.7Z" fill="#e59f8c" stroke="none"/>
<path d="M165.7,78.0 164.9,78.7 163.9,79.0 163.0,79.2 162.0,79.5 161.1,79.9 160.2,79.6 159.9,80.1 159.3,80.4 158.3,80.7 157.2,81.1 156.1,81.3 155.3,81.7 155.0,82.5 155.1,83.1 154.6,83.2 154.2,82.8 153.8,82.0 153.7,81.2 152.9,81.3 152.1,80.8 151.6,81.1 151.1,81.1" fill="none" stroke="#e16751" stroke-width="1.6" transform="translate(0,0.7)"/>
<path d="M95.9,52.5 96.6,52.1 98.1,50.8 99.4,51.1 100.7,50.9 101.8,50.0 103.4,49.7 104.9,48.7 106.6,48.3 106.7,47.1 107.6,46.6 107.0,45.1 107.6,43.5 110.3,43.3 110.0,42.8 111.1,40.1 115.1,40.3 115.4,38.2 117.2,37.5 118.1,37.0 118.8,36.9 119.3,38.0 120.7,38.9 122.3,39.0 123.1,40.4 123.9,42.0 123.6,43.1 126.3,43.6 127.9,43.7 130.8,44.7 132.6,47.2 135.1,47.4 139.6,47.4 141.2,47.6 144.2,48.7 146.3,49.1 149.2,47.9 153.2,47.7 155.0,47.2 157.2,45.9 156.9,44.7 157.4,43.5 160.1,44.0 161.5,43.1 163.4,42.9 165.0,41.5 166.2,41.1 167.6,40.8 169.8,41.1 170.2,40.1 168.9,39.3 167.9,38.9 166.8,39.0 165.7,39.1 164.4,39.1 163.1,39.0 163.3,38.5 164.1,37.5 165.0,35.9 166.2,36.3 167.0,36.4 168.1,35.8 169.2,35.1 169.4,34.2 170.5,32.9 171.6,31.6 171.4,30.8 172.6,30.3 174.2,30.1 175.6,29.9 177.0,30.3 178.6,30.6 179.4,31.0 180.4,31.8 181.4,33.4 182.0,34.4 182.5,35.2 183.9,36.3 185.5,36.6 187.3,37.4 187.8,38.8 188.7,39.3 190.3,39.3 192.1,38.5 193.8,38.3 193.7,39.0 193.0,40.1 192.6,41.2 191.9,42.2 191.3,43.5 189.5,43.2 188.6,43.8 187.9,43.9 188.3,45.2 188.4,46.2 187.8,47.0 187.3,47.7 187.0,47.5 186.3,47.0 185.8,47.8 185.0,48.1 184.6,48.4 183.3,48.5 182.3,49.2 181.4,48.7 180.7,49.4 179.8,50.2 178.8,50.7 178.2,50.9 177.3,51.5 176.9,51.9 176.1,51.9 175.1,52.3 174.0,52.7 173.0,53.4 172.2,53.6 172.7,52.9 173.2,52.3 173.8,51.1 173.5,50.4 172.7,50.2 171.9,50.3 171.3,50.9 170.3,51.5 169.5,51.9 168.7,52.7 167.8,53.1 167.0,53.0 166.6,53.4 166.5,54.2 167.1,54.6 168.1,54.7 168.8,55.2 169.0,56.1 170.0,56.2 170.8,55.5 171.6,55.1 172.7,55.6 173.8,55.5 174.5,55.8 174.2,56.6 172.7,56.9 171.8,57.4 171.3,57.8 170.6,58.1 169.7,58.8 169.2,59.5 169.2,60.3 170.0,60.6 170.8,61.5 171.3,62.8 171.8,63.5 172.6,64.3 173.3,64.9 173.4,65.7 173.4,66.3 172.4,66.5 171.8,67.0 172.9,67.6 173.7,67.8 173.4,68.9 172.9,69.9 172.6,70.7 171.8,71.3 171.1,72.1 170.5,72.9 169.8,73.9 169.7,74.8 168.9,75.5 168.1,76.3 167.1,76.6 166.5,77.4 165.7,78.0 164.9,78.7 163.9,79.0 163.0,79.2 162.0,79.5 161.1,79.9 160.2,79.6 159.9,80.1 159.3,80.4 158.3,80.7 157.2,81.1 156.1,81.3 155.3,81.7 155.0,82.5 155.1,83.1 154.6,83.2 154.2,82.8 153.8,82.0 153.7,81.2 152.9,81.3 152.1,80.8 151.6,81.1 151.1,81.1 150.3,81.0 149.5,80.4 149.0,80.4 148.8,79.7 149.1,79.1 147.7,78.9 146.8,78.3 146.0,78.7 145.4,79.2 144.6,79.6 144.1,79.1 143.4,79.5 142.3,79.2 141.8,79.7 141.1,79.9 140.9,80.5 141.2,81.1 140.9,81.7 140.1,81.1 139.1,81.3 138.6,81.2 138.2,80.5 137.0,80.3 137.5,78.9 136.6,78.5 136.2,77.2 134.6,77.4 134.4,76.0 134.9,75.1 136.1,74.2 136.2,72.7 136.2,71.5 135.6,71.5 135.3,70.5 134.3,70.3 133.2,70.8 131.9,71.9 130.6,72.4 128.7,72.6 126.6,72.6 125.5,72.7 124.9,71.9 125.0,71.1 123.1,70.7 121.7,70.5 120.9,71.6 120.5,71.9 120.3,70.7 119.3,71.0 117.4,70.9 115.9,70.7 114.6,70.0 113.5,69.5 112.7,68.9 111.6,68.3 110.2,67.5 108.6,67.1 107.9,67.2 106.6,66.4 105.4,66.1 104.4,65.5 104.2,64.6 103.9,63.6 105.0,63.6 104.6,62.8 104.4,61.9 103.8,60.7 104.7,60.7 103.4,58.9 102.8,58.8 101.5,58.3 100.2,58.1 99.9,57.4 99.0,56.6 98.2,56.1 97.7,56.1 98.2,55.5 98.3,54.8 98.0,54.0 96.9,53.9 96.4,53.2 96.1,52.7Z" fill="none" stroke="#000" stroke-width="1.1"/>
<path d="M152.1,84.9 152.2,84.1 153.0,83.7 153.7,83.5 154.6,83.5 155.3,83.5 155.9,84.2 155.6,85.2 155.1,85.9 154.3,86.3 153.5,86.5 152.7,86.2 152.2,85.7Z" fill="#f6a586" stroke="#000" stroke-width="0.9"/>
<path d="M171.7,75.9 172.6,75.8 173.2,76.3 173.0,77.1 172.6,78.5 172.2,79.8 171.4,81.3 171.0,80.6 170.4,80.1 170.1,79.3 170.2,78.0 170.8,77.1 171.4,76.3Z" fill="none" stroke="#000" stroke-width="0.9"/>
<path d="M154.5,87.9 154.0,89.7" stroke="#000" stroke-width="0.9" fill="none"/>
<path d="M153.5,94.2 153.2,96.1" stroke="#000" stroke-width="0.9" fill="none"/>
<path d="M153.2,102.2 154.2,104.1" stroke="#000" stroke-width="0.9" fill="none"/>
<path d="M155.6,107.0 157.2,108.6" stroke="#000" stroke-width="0.9" fill="none"/>
<path d="M158.8,109.5 160.7,108.9" stroke="#000" stroke-width="0.9" fill="none"/>
<path d="M163.0,106.2 164.2,104.6" stroke="#000" stroke-width="0.9" fill="none"/>
<path d="M166.6,101.9 167.9,100.1" stroke="#000" stroke-width="0.9" fill="none"/>
<path d="M168.9,97.1 169.2,95.1" stroke="#000" stroke-width="0.9" fill="none"/>
<path d="M169.4,91.6 169.5,89.7" stroke="#000" stroke-width="0.9" fill="none"/>
<path d="M169.7,86.8 170.3,84.9" stroke="#000" stroke-width="0.9" fill="none"/>
<path d="M172.4,82.2 173.2,80.9" stroke="#000" stroke-width="0.9" fill="none"/>
<path d="M175.1,73.9 177.2,75.0" stroke="#000" stroke-width="0.9" fill="none"/>
<rect x="156.4" y="88.7" width="1.1" height="1.1" fill="#000"/>
<rect x="157.3" y="88.2" width="1.1" height="1.1" fill="#000"/>
<rect x="157.7" y="89.5" width="1.1" height="1.1" fill="#000"/>
<rect x="156.9" y="89.2" width="1.1" height="1.1" fill="#000"/>
<rect x="158.1" y="88.6" width="1.1" height="1.1" fill="#000"/>
<rect x="160.7" y="89.8" width="1.1" height="1.1" fill="#000"/>
<rect x="166.3" y="91.0" width="1.1" height="1.1" fill="#000"/>
<rect x="164.5" y="82.0" width="1.1" height="1.1" fill="#000"/>
<rect x="157.5" y="108.7" width="1.1" height="1.1" fill="#000"/>
<rect x="156.9" y="101.4" width="1.1" height="1.1" fill="#000"/>
<rect x="158.6" y="99.9" width="1.1" height="1.1" fill="#000"/>
<rect x="160.5" y="98.8" width="1.1" height="1.1" fill="#000"/>
<rect x="161.0" y="99.8" width="1.1" height="1.1" fill="#000"/>
<rect x="162.3" y="98.6" width="1.1" height="1.1" fill="#000"/>
<rect x="163.1" y="97.8" width="1.1" height="1.1" fill="#000"/>
<rect x="163.7" y="97.5" width="1.1" height="1.1" fill="#000"/>
<rect x="161.5" y="101.0" width="1.1" height="1.1" fill="#000"/>
<rect x="159.9" y="101.7" width="1.1" height="1.1" fill="#000"/>
<rect x="158.5" y="102.3" width="1.1" height="1.1" fill="#000"/>
<rect x="161.8" y="96.9" width="1.1" height="1.1" fill="#000"/>
<rect x="164.7" y="96.9" width="1.1" height="1.1" fill="#000"/>
<rect x="159.4" y="98.2" width="1.1" height="1.1" fill="#000"/>
<path d="M157.4,101.9 159.1,100.7" stroke="#000" stroke-width="0.8" stroke-dasharray="1.2 0.8" fill="none"/>
<path d="M159.1,100.7 160.7,99.8" stroke="#000" stroke-width="0.8" stroke-dasharray="1.2 0.8" fill="none"/>
<path d="M160.7,99.8 162.3,98.8" stroke="#000" stroke-width="0.8" stroke-dasharray="1.2 0.8" fill="none"/>
<path d="M162.3,98.8 163.9,98.0" stroke="#000" stroke-width="0.8" stroke-dasharray="1.2 0.8" fill="none"/>
<path d="M163.9,98.0 165.2,97.4" stroke="#000" stroke-width="0.8" stroke-dasharray="1.2 0.8" fill="none"/>
</g>
<rect x="146.7" y="74.5" width="30.8" height="40.6" fill="none" stroke="#222" stroke-width="1"/>
<rect x="0" y="0" width="177.5" height="115.1" fill="none" stroke="#333" stroke-width="1"/>
</g>
<path d="M502.9,314.1 H674.7 L683.7,318.55 L674.7,323.0 H502.9Z" fill="url(#cbgrad)" stroke="#333" stroke-width="0.8"/>
<line x1="502.9" y1="323.0" x2="502.9" y2="326.3" stroke="#333" stroke-width="0.8"/>
<text x="502.9" y="336.9" text-anchor="middle" font-size="11">0.0</text>
<line x1="545.9" y1="323.0" x2="545.9" y2="326.3" stroke="#333" stroke-width="0.8"/>
<text x="545.9" y="336.9" text-anchor="middle" font-size="11">1.5</text>
<line x1="588.8" y1="323.0" x2="588.8" y2="326.3" stroke="#333" stroke-width="0.8"/>
<text x="588.8" y="336.9" text-anchor="middle" font-size="11">3.0</text>
<line x1="631.8" y1="323.0" x2="631.8" y2="326.3" stroke="#333" stroke-width="0.8"/>
<text x="631.8" y="336.9" text-anchor="middle" font-size="11">4.5</text>
<line x1="674.7" y1="323.0" x2="674.7" y2="326.3" stroke="#333" stroke-width="0.8"/>
<text x="674.7" y="336.9" text-anchor="middle" font-size="11">6.0</text>
<g clip-path="url(#gclip)">
<path d="M46.6,469.2 49.0,467.5 53.7,462.2 58.2,463.6 62.4,462.7 66.0,458.7 71.3,457.3 76.0,453.1 81.8,451.3 82.1,446.0 85.0,443.5 82.9,436.6 85.0,429.6 93.9,428.5 92.9,426.2 96.5,413.3 109.7,414.4 110.7,403.9 116.5,400.7 119.4,397.9 121.8,397.7 123.3,403.1 128.1,407.4 133.3,408.0 136.0,414.8 138.6,422.4 137.5,427.7 146.5,429.9 151.7,430.3 161.2,435.1 167.0,446.4 175.4,447.1 190.1,447.1 195.4,448.1 205.3,452.8 212.2,454.7 221.6,449.6 234.8,448.5 240.6,446.4 247.9,440.2 246.9,434.8 248.4,429.2 257.4,431.8 262.1,427.3 268.4,426.6 273.7,419.8 277.3,418.3 282.1,416.7 289.4,417.9 290.5,413.3 286.3,409.4 283.1,407.4 279.4,407.8 275.8,408.6 271.6,408.2 267.4,407.8 267.9,405.5 270.5,400.7 273.7,392.2 277.3,394.3 280.0,395.1 283.7,391.8 287.3,388.5 287.9,383.6 291.5,376.8 295.2,370.0 294.7,365.7 298.4,363.0 303.6,361.7 308.4,360.8 313.1,363.0 318.3,364.3 321.0,366.5 324.1,370.9 327.3,379.4 329.4,384.8 331.0,389.0 335.7,394.3 340.9,395.9 346.7,399.9 348.3,407.0 351.5,409.4 356.7,409.4 362.5,405.5 368.3,404.3 367.8,407.8 365.7,413.3 364.1,418.6 362.0,423.2 359.9,429.2 354.1,428.1 350.9,430.7 348.8,431.4 350.1,437.3 350.4,441.7 348.3,445.3 346.7,448.6 345.7,447.4 343.6,445.3 342.0,448.9 339.4,450.3 337.8,451.7 333.6,451.8 330.4,455.2 327.3,453.1 325.2,455.9 322.0,459.4 318.9,461.5 316.8,462.5 313.9,465.3 312.6,466.7 309.9,467.0 306.8,468.4 303.1,470.4 299.7,473.3 297.3,474.1 298.9,471.1 300.5,468.4 302.6,463.6 301.5,460.4 298.9,459.4 296.3,459.8 294.2,462.5 291.0,465.3 288.4,466.7 285.8,470.4 282.6,471.8 280.0,471.4 278.9,473.1 278.4,476.5 280.5,478.1 283.7,478.5 286.0,480.8 286.8,484.5 290.0,484.8 292.6,481.8 295.2,480.5 298.9,482.5 302.3,482.1 304.7,483.1 303.6,486.4 298.9,487.7 295.7,489.7 294.2,491.3 292.1,492.6 288.9,495.6 287.3,498.1 287.3,501.3 290.0,502.6 292.6,506.4 294.2,511.5 295.7,514.3 298.4,517.1 300.7,519.5 301.0,522.6 301.0,524.8 297.8,525.7 295.7,527.5 299.4,530.0 302.1,530.6 301.0,534.8 299.4,538.4 298.4,541.4 295.7,543.8 293.6,546.7 291.5,549.7 289.4,553.2 288.9,556.7 286.3,559.0 283.7,561.9 280.5,563.1 278.4,565.9 275.8,568.2 273.1,570.5 270.0,571.7 266.8,572.5 263.7,573.4 260.8,575.1 257.9,574.0 256.8,575.7 254.7,576.8 251.6,577.9 247.9,579.1 244.2,579.9 241.6,581.3 240.8,584.1 241.1,586.4 239.5,586.7 237.9,585.3 236.9,582.4 236.3,579.6 233.7,579.9 231.1,578.2 229.5,579.1 227.9,579.3 225.3,578.8 222.7,576.8 221.1,576.8 220.3,574.2 221.4,572.2 216.6,571.4 213.7,569.4 211.1,570.5 209.0,572.5 206.7,574.0 204.8,572.2 202.7,573.4 199.0,572.5 197.5,574.2 195.1,575.1 194.3,577.1 195.4,579.1 194.3,581.3 191.7,579.1 188.5,579.9 186.9,579.6 185.6,577.1 181.7,576.2 183.3,571.4 180.1,570.0 179.1,565.4 173.8,565.9 173.0,561.0 174.6,557.9 178.5,554.4 179.1,549.1 179.1,544.3 177.0,544.3 175.9,540.8 172.7,540.2 169.1,542.0 164.9,546.1 160.7,547.9 154.4,548.5 147.5,548.5 143.8,548.8 141.7,546.1 142.0,542.9 136.0,541.4 131.2,540.8 128.6,544.9 127.3,546.1 126.8,541.7 123.3,542.6 117.0,542.3 112.3,541.4 108.1,539.0 104.4,537.2 101.8,534.8 98.1,532.7 93.4,529.3 88.1,527.8 86.0,528.4 81.8,525.4 77.6,524.2 74.5,522.0 73.9,518.3 72.9,514.6 76.6,514.6 75.0,511.5 74.5,507.7 72.4,503.2 75.5,503.2 71.3,495.9 69.2,495.6 65.0,493.6 60.8,492.6 59.7,489.7 56.6,486.4 54.0,484.5 52.4,484.5 54.0,481.8 54.5,479.2 53.4,475.8 49.8,475.1 48.2,472.4 47.1,470.4Z" fill="none" stroke="#222" stroke-width="0.75" stroke-linejoin="round"/>
<path d="M231.1,592.5 231.6,589.7 234.2,588.3 236.3,587.8 239.5,587.5 241.6,587.5 243.7,590.0 242.7,593.6 241.1,595.8 238.5,597.5 235.8,598.1 233.2,597.0 231.6,595.3Z" fill="none" stroke="#222" stroke-width="0.75" stroke-linejoin="round"/>
<path d="M295.5,560.8 298.4,560.2 300.5,561.9 299.9,564.8 298.6,570.0 297.1,574.5 294.4,579.9 293.4,577.4 291.3,575.7 290.2,572.8 290.7,568.2 292.6,564.8 294.7,562.2Z" fill="none" stroke="#222" stroke-width="0.75" stroke-linejoin="round"/>
<path d="M239.0,603.0 237.4,609.1" stroke="#222" stroke-width="0.8" fill="none"/>
<path d="M235.8,624.3 234.8,630.8" stroke="#222" stroke-width="0.8" fill="none"/>
<path d="M234.8,651.1 237.9,657.4" stroke="#222" stroke-width="0.8" fill="none"/>
<path d="M242.7,667.0 247.9,672.2" stroke="#222" stroke-width="0.8" fill="none"/>
<path d="M253.2,675.4 259.5,673.3" stroke="#222" stroke-width="0.8" fill="none"/>
<path d="M266.8,664.3 271.0,659.0" stroke="#222" stroke-width="0.8" fill="none"/>
<path d="M278.9,650.0 283.1,644.1" stroke="#222" stroke-width="0.8" fill="none"/>
<path d="M286.3,634.0 287.3,627.5" stroke="#222" stroke-width="0.8" fill="none"/>
<path d="M287.9,615.6 288.4,609.1" stroke="#222" stroke-width="0.8" fill="none"/>
<path d="M288.9,599.2 291.0,592.5" stroke="#222" stroke-width="0.8" fill="none"/>
<path d="M297.8,583.0 300.5,578.5" stroke="#222" stroke-width="0.8" fill="none"/>
<path d="M306.8,553.2 313.6,557.3" stroke="#222" stroke-width="0.8" fill="none"/>
<rect x="246.4" y="606.9" width="1" height="1" fill="#222"/>
<rect x="249.5" y="605.3" width="1" height="1" fill="#222"/>
<rect x="250.6" y="609.7" width="1" height="1" fill="#222"/>
<rect x="247.9" y="608.6" width="1" height="1" fill="#222"/>
<rect x="252.1" y="606.4" width="1" height="1" fill="#222"/>
<rect x="260.6" y="610.8" width="1" height="1" fill="#222"/>
<rect x="278.9" y="614.6" width="1" height="1" fill="#222"/>
<rect x="273.2" y="583.6" width="1" height="1" fill="#222"/>
<rect x="250.0" y="673.8" width="1" height="1" fill="#222"/>
<rect x="247.9" y="649.5" width="1" height="1" fill="#222"/>
<rect x="253.7" y="644.7" width="1" height="1" fill="#222"/>
<rect x="260.0" y="641.0" width="1" height="1" fill="#222"/>
<rect x="261.6" y="644.2" width="1" height="1" fill="#222"/>
<rect x="265.8" y="640.4" width="1" height="1" fill="#222"/>
<rect x="268.4" y="637.8" width="1" height="1" fill="#222"/>
<rect x="270.5" y="636.7" width="1" height="1" fill="#222"/>
<rect x="263.2" y="648.4" width="1" height="1" fill="#222"/>
<rect x="257.9" y="650.6" width="1" height="1" fill="#222"/>
<rect x="253.2" y="652.7" width="1" height="1" fill="#222"/>
<rect x="264.2" y="634.6" width="1" height="1" fill="#222"/>
<rect x="273.7" y="634.6" width="1" height="1" fill="#222"/>
<rect x="256.3" y="638.8" width="1" height="1" fill="#222"/>
<path d="M259.8,454.9 263.8,451.5 267.2,451.5 271.3,449.8 274.7,448.6 278.2,447.5 280.5,448.0 282.2,451.5 283.3,454.9 285.6,456.7 287.9,459.0 290.2,461.8 291.4,464.1 289.1,465.9 286.8,468.7 283.9,471.0 282.2,472.8 280.5,474.5 279.9,476.8 278.7,479.1 277.0,480.2 274.1,482.0 270.7,484.3 268.4,486.0 267.2,488.3 266.1,491.1 263.8,492.9 261.5,494.0 260.3,491.7 259.2,488.3 258.6,483.7 259.2,479.1 258.6,475.6 260.3,471.0 260.9,467.6 260.3,463.0 259.2,459.5Z" fill="#ffffff" stroke="#333" stroke-width="0.6" stroke-linejoin="round"/>
<path d="M311.7,441.5 312.6,442.0 316.1,443.4 318.7,449.1 320.4,456.1 322.2,461.3 319.6,463.9 312.6,464.8 307.3,467.4 302.0,470.1 297.7,473.6 299.4,470.1 301.2,466.6 302.9,461.3 300.3,457.8 304.7,454.3 306.4,449.1 307.3,445.5 309.9,442.9Z" fill="#a3c0f7" stroke="#333" stroke-width="0.6" stroke-linejoin="round"/>
<path d="M270.7,483.7 274.1,481.4 277.6,479.1 281.0,478.5 284.5,479.1 286.8,481.4 287.9,483.7 290.2,482.5 293.7,481.4 296.0,479.7 297.1,477.9 298.3,482.5 301.7,483.1 305.2,483.7 304.0,486.0 300.6,488.3 297.1,489.4 294.8,491.7 292.5,494.0 290.2,496.3 287.9,498.0 284.5,499.8 281.0,500.9 276.4,500.9 274.1,499.8 272.4,497.5 271.3,494.0 270.1,490.6 271.3,487.1Z" fill="#df6a55" stroke="#333" stroke-width="0.6" stroke-linejoin="round"/>
<path d="M240.5,487.0 243.5,486.2 247.0,485.8 250.5,487.0 251.3,487.2 250.6,491.8 249.3,495.8 246.0,499.7 242.1,501.7 242.1,498.7 241.0,495.0 240.3,491.0Z" fill="#ffffff" stroke="#333" stroke-width="0.6" stroke-linejoin="round"/>
<path d="M210.5,499.9 213.9,497.6 216.8,494.1 219.7,493.6 220.2,487.2 223.1,484.7 226.0,486.1 229.4,488.4 231.1,491.8 232.3,494.7 236.3,496.4 239.8,497.6 242.1,498.7 242.6,502.2 242.1,505.6 240.9,509.7 237.5,510.2 234.0,509.7 230.6,507.4 226.0,506.8 221.4,506.8 219.1,505.6 216.8,503.3 213.3,502.2 211.0,501.6Z" fill="#ffffff" stroke="#333" stroke-width="0.6" stroke-linejoin="round"/>
<path d="M242.1,501.7 246.0,499.7 249.3,495.8 250.6,491.8 251.3,487.2 254.6,486.6 257.2,489.2 260.5,492.5 263.1,495.1 265.1,491.8 268.4,489.2 271.0,487.2 272.3,491.8 273.0,494.4 274.9,498.4 273.6,501.7 275.6,504.3 278.9,505.6 280.8,508.2 281.5,511.5 278.9,512.8 276.2,514.2 273.6,513.5 271.0,515.5 269.0,519.4 264.4,520.1 261.8,517.4 259.2,515.5 256.5,515.5 253.2,514.2 250.6,513.5 247.3,512.2 245.4,510.2 244.0,507.6 241.4,505.6Z" fill="#ebaf98" stroke="#333" stroke-width="0.6" stroke-linejoin="round"/>
<path d="M289.4,503.6 292.0,502.3 294.0,505.0 295.9,508.9 297.9,512.8 299.9,516.8 302.5,519.4 301.2,523.4 302.5,526.0 303.8,527.3 301.2,531.2 299.9,535.2 297.2,537.8 293.3,539.1 289.4,537.8 286.7,535.2 282.8,533.9 281.5,531.9 278.2,530.6 274.9,530.6 273.0,528.6 271.0,526.6 270.3,524.7 272.3,522.7 274.9,519.4 274.9,516.1 276.9,514.2 278.9,512.8 281.5,511.5 283.5,509.6 286.7,508.2 289.4,506.3Z" fill="#ebaf98" stroke="#333" stroke-width="0.6" stroke-linejoin="round"/>
<path d="M242.1,519.4 244.7,516.1 251.3,514.8 256.5,516.1 259.2,516.8 261.8,518.1 264.4,520.7 269.0,520.1 271.0,522.0 270.3,525.3 273.6,528.6 277.5,530.6 281.5,531.9 283.5,533.9 282.8,536.5 280.2,540.4 277.5,544.4 273.6,548.3 269.7,550.9 264.4,552.3 260.5,552.9 255.2,551.6 251.3,549.6 248.0,547.0 246.0,543.0 244.7,539.8 244.0,535.2 243.4,531.2 241.4,527.3 240.8,523.4Z" fill="#ffffff" stroke="#333" stroke-width="0.6" stroke-linejoin="round"/>
<path d="M282.2,534.7 285.7,534.1 288.7,535.8 292.7,537.0 296.2,538.2 298.0,539.9 295.1,544.0 292.7,548.7 290.4,552.2 288.7,555.7 285.7,559.2 281.1,563.9 276.4,567.4 271.7,570.3 268.8,570.9 267.6,567.4 267.0,563.9 265.9,560.9 262.4,560.4 261.2,556.9 260.0,554.5 263.5,552.8 267.0,549.9 270.5,547.5 274.1,546.4 276.4,544.0 278.1,541.7 279.9,538.8Z" fill="#df6a55" stroke="#333" stroke-width="0.6" stroke-linejoin="round"/>
<path d="M248.9,563.9 250.1,564.5 251.9,566.2 255.4,566.8 258.9,565.6 262.4,566.2 264.7,568.5 265.9,570.3 263.5,572.0 261.2,573.2 258.9,575.0 255.4,576.1 253.0,577.9 250.7,576.1 249.5,573.2 248.4,570.3 246.6,568.5 247.2,566.2Z" fill="#df6a55" stroke="#333" stroke-width="0.6" stroke-linejoin="round"/>
<path d="M197.4,533.1 203.8,526.7 208.6,521.9 213.4,517.1 218.3,520.3 224.7,519.7 232.7,521.9 234.3,526.7 231.1,531.5 232.7,534.7 229.5,536.4 224.7,538.0 219.9,542.1 215.0,542.8 210.2,539.6 203.8,538.0 199.0,536.4Z" fill="#a3c0f7" stroke="#333" stroke-width="0.6" stroke-linejoin="round"/>
</g>
<text x="314.3" y="462.6" text-anchor="middle" font-size="10" font-weight="bold">CSL</text>
<text x="272.7" y="471.6" text-anchor="middle" font-size="10" font-weight="bold">JJJ</text>
<text x="284.5" y="494.3" text-anchor="middle" font-size="10" font-weight="bold">SDP</text>
<text x="259.8" y="509.3" text-anchor="middle" font-size="10" font-weight="bold">CP</text>
<text x="286.7" y="526.3" text-anchor="middle" font-size="10" font-weight="bold">YRD</text>
<text x="259.5" y="541.4" text-anchor="middle" font-size="10" font-weight="bold">MYR</text>
<text x="229.2" y="503.6" text-anchor="middle" font-size="10" font-weight="bold">GZP</text>
<text x="214.5" y="533.5" text-anchor="middle" font-size="10" font-weight="bold">CY</text>
<text x="274.4" y="559.0" text-anchor="middle" font-size="10" font-weight="bold">WCS</text>
<text x="235.7" y="566.5" text-anchor="middle" font-size="10" font-weight="bold">GHM</text>
<rect x="330.4" y="535.3" width="47.0" height="60.7" fill="#fff"/>
<g clip-path="url(#gin)">
<path d="M246.9,489.7 248.1,488.8 250.5,486.1 252.8,486.8 254.9,486.4 256.8,484.4 259.4,483.7 261.8,481.5 264.8,480.7 264.9,478.0 266.4,476.7 265.3,473.2 266.4,469.6 270.9,469.1 270.4,467.9 272.2,461.4 278.9,462.0 279.4,456.6 282.3,455.0 283.8,453.6 285.0,453.5 285.8,456.2 288.2,458.4 290.8,458.7 292.2,462.2 293.5,466.0 293.0,468.7 297.5,469.8 300.1,470.0 304.9,472.4 307.9,478.1 312.1,478.5 319.6,478.5 322.2,479.0 327.3,481.4 330.7,482.3 335.5,479.8 342.2,479.2 345.1,478.1 348.8,475.0 348.3,472.3 349.1,469.5 353.6,470.8 356.0,468.5 359.2,468.1 361.9,464.7 363.7,463.9 366.1,463.1 369.8,463.7 370.4,461.4 368.2,459.4 366.6,458.4 364.8,458.6 362.9,459.0 360.8,458.8 358.7,458.6 358.9,457.4 360.3,455.0 361.9,450.7 363.7,451.8 365.0,452.2 366.9,450.5 368.8,448.9 369.0,446.4 370.9,443.0 372.8,439.5 372.5,437.3 374.4,436.0 377.0,435.3 379.4,434.8 381.8,436.0 384.5,436.6 385.8,437.7 387.4,439.9 389.0,444.2 390.1,447.0 390.8,449.1 393.2,451.8 395.9,452.6 398.8,454.6 399.6,458.2 401.2,459.4 403.9,459.4 406.8,457.4 409.7,456.8 409.5,458.6 408.4,461.4 407.6,464.1 406.5,466.4 405.5,469.5 402.6,468.9 401.0,470.2 399.9,470.6 400.6,473.6 400.7,475.8 399.6,477.6 398.8,479.3 398.3,478.7 397.2,477.6 396.4,479.4 395.1,480.1 394.3,480.8 392.2,480.9 390.6,482.6 389.0,481.5 387.9,483.0 386.3,484.7 384.7,485.8 383.7,486.3 382.2,487.7 381.5,488.4 380.2,488.6 378.6,489.3 376.8,490.3 375.0,491.8 373.8,492.2 374.6,490.6 375.4,489.3 376.5,486.8 376.0,485.3 374.6,484.7 373.3,484.9 372.2,486.3 370.6,487.7 369.3,488.4 368.0,490.3 366.4,491.0 365.0,490.8 364.5,491.7 364.2,493.4 365.3,494.2 366.9,494.4 368.1,495.6 368.5,497.4 370.1,497.6 371.4,496.1 372.8,495.4 374.6,496.4 376.4,496.2 377.5,496.7 377.0,498.4 374.6,499.1 373.0,500.1 372.2,500.9 371.2,501.6 369.6,503.0 368.8,504.3 368.8,506.0 370.1,506.6 371.4,508.5 372.2,511.1 373.0,512.5 374.4,513.9 375.6,515.2 375.7,516.7 375.7,517.8 374.1,518.3 373.0,519.2 374.9,520.4 376.2,520.7 375.7,522.9 374.9,524.7 374.4,526.2 373.0,527.4 372.0,528.9 370.9,530.4 369.8,532.2 369.6,534.0 368.2,535.1 366.9,536.6 365.3,537.2 364.2,538.7 362.9,539.8 361.6,541.0 360.0,541.6 358.4,542.0 356.8,542.4 355.3,543.3 353.9,542.7 353.3,543.6 352.3,544.1 350.7,544.7 348.8,545.3 347.0,545.7 345.6,546.4 345.2,547.9 345.4,549.0 344.6,549.1 343.8,548.4 343.2,547.0 343.0,545.6 341.6,545.7 340.3,544.9 339.5,545.3 338.7,545.4 337.4,545.1 336.1,544.1 335.3,544.1 334.9,542.8 335.4,541.8 333.0,541.4 331.5,540.4 330.2,541.0 329.1,542.0 327.9,542.7 327.0,541.8 325.9,542.4 324.1,542.0 323.3,542.8 322.1,543.3 321.7,544.3 322.2,545.3 321.7,546.4 320.4,545.3 318.8,545.7 318.0,545.6 317.3,544.3 315.3,543.9 316.1,541.4 314.5,540.7 314.0,538.4 311.3,538.7 310.9,536.2 311.7,534.6 313.7,532.8 314.0,530.1 314.0,527.7 312.9,527.7 312.4,525.9 310.8,525.6 308.9,526.5 306.8,528.6 304.7,529.5 301.5,529.8 298.0,529.8 296.2,530.0 295.1,528.6 295.2,527.0 292.2,526.2 289.8,525.9 288.4,528.0 287.8,528.6 287.5,526.4 285.8,526.8 282.6,526.7 280.2,526.2 278.1,525.0 276.2,524.1 274.9,522.9 273.0,521.8 270.6,520.1 268.0,519.4 266.9,519.7 264.8,518.1 262.6,517.5 261.0,516.4 260.8,514.5 260.2,512.7 262.1,512.7 261.3,511.1 261.0,509.2 260.0,506.9 261.6,506.9 259.4,503.2 258.4,503.0 256.3,502.0 254.1,501.6 253.6,500.1 252.0,498.4 250.7,497.4 249.9,497.4 250.7,496.1 250.9,494.7 250.4,493.0 248.5,492.7 247.7,491.3 247.2,490.3Z" fill="none" stroke="#222" stroke-width="0.7"/>
<path d="M340.3,552.1 340.6,550.7 341.9,550.0 343.0,549.7 344.6,549.6 345.6,549.6 346.7,550.8 346.2,552.7 345.4,553.8 344.0,554.6 342.7,554.9 341.4,554.3 340.6,553.5Z" fill="none" stroke="#222" stroke-width="0.7"/>
<path d="M372.9,536.0 374.4,535.7 375.4,536.6 375.2,538.1 374.5,540.7 373.7,543.0 372.4,545.7 371.8,544.4 370.8,543.6 370.2,542.1 370.5,539.8 371.4,538.1 372.5,536.8Z" fill="none" stroke="#222" stroke-width="0.7"/>
<path d="M344.3,557.4 343.5,560.5" stroke="#222" stroke-width="0.7" fill="none"/>
<path d="M342.7,568.2 342.2,571.5" stroke="#222" stroke-width="0.7" fill="none"/>
<path d="M342.2,581.7 343.8,585.0" stroke="#222" stroke-width="0.7" fill="none"/>
<path d="M346.2,589.8 348.8,592.4" stroke="#222" stroke-width="0.7" fill="none"/>
<path d="M351.5,594.0 354.7,593.0" stroke="#222" stroke-width="0.7" fill="none"/>
<path d="M358.4,588.4 360.5,585.8" stroke="#222" stroke-width="0.7" fill="none"/>
<path d="M364.5,581.2 366.6,578.2" stroke="#222" stroke-width="0.7" fill="none"/>
<path d="M368.2,573.1 368.8,569.8" stroke="#222" stroke-width="0.7" fill="none"/>
<path d="M369.0,563.8 369.3,560.5" stroke="#222" stroke-width="0.7" fill="none"/>
<path d="M369.6,555.5 370.6,552.1" stroke="#222" stroke-width="0.7" fill="none"/>
<path d="M374.1,547.3 375.4,545.0" stroke="#222" stroke-width="0.7" fill="none"/>
<path d="M378.6,532.2 382.1,534.3" stroke="#222" stroke-width="0.7" fill="none"/>
<rect x="347.8" y="559.1" width="1" height="1" fill="#222"/>
<rect x="349.4" y="558.3" width="1" height="1" fill="#222"/>
<rect x="349.9" y="560.5" width="1" height="1" fill="#222"/>
<rect x="348.6" y="560.0" width="1" height="1" fill="#222"/>
<rect x="350.7" y="558.9" width="1" height="1" fill="#222"/>
<rect x="355.0" y="561.1" width="1" height="1" fill="#222"/>
<rect x="364.3" y="563.0" width="1" height="1" fill="#222"/>
<rect x="361.4" y="547.4" width="1" height="1" fill="#222"/>
<rect x="349.6" y="593.0" width="1" height="1" fill="#222"/>
<rect x="348.6" y="580.7" width="1" height="1" fill="#222"/>
<rect x="351.5" y="578.3" width="1" height="1" fill="#222"/>
<rect x="354.7" y="576.4" width="1" height="1" fill="#222"/>
<rect x="355.5" y="578.0" width="1" height="1" fill="#222"/>
<rect x="357.6" y="576.1" width="1" height="1" fill="#222"/>
<rect x="359.0" y="574.8" width="1" height="1" fill="#222"/>
<rect x="360.0" y="574.2" width="1" height="1" fill="#222"/>
<rect x="356.3" y="580.2" width="1" height="1" fill="#222"/>
<rect x="353.6" y="581.2" width="1" height="1" fill="#222"/>
<rect x="351.2" y="582.3" width="1" height="1" fill="#222"/>
<rect x="356.8" y="573.1" width="1" height="1" fill="#222"/>
<rect x="361.6" y="573.1" width="1" height="1" fill="#222"/>
<rect x="352.8" y="575.3" width="1" height="1" fill="#222"/>
<path d="M349.1,581.2 352.0,579.3" stroke="#222" stroke-width="0.6" stroke-dasharray="1.2 1" fill="none"/>
<path d="M352.0,579.3 354.7,577.7" stroke="#222" stroke-width="0.6" stroke-dasharray="1.2 1" fill="none"/>
<path d="M354.7,577.7 357.3,576.1" stroke="#222" stroke-width="0.6" stroke-dasharray="1.2 1" fill="none"/>
<path d="M357.3,576.1 360.0,574.7" stroke="#222" stroke-width="0.6" stroke-dasharray="1.2 1" fill="none"/>
<path d="M360.0,574.7 362.1,573.6" stroke="#222" stroke-width="0.6" stroke-dasharray="1.2 1" fill="none"/>
</g>
<rect x="330.4" y="535.3" width="47.0" height="60.7" fill="none" stroke="#444" stroke-width="0.8"/>
<rect x="35.5" y="357.5" width="341.9" height="238.5" fill="none" stroke="#888" stroke-width="0.9"/>
<text x="9.0" y="357.6" font-size="15">(g)</text>
<path d="M53.2,373.4 L60,392.9 L53.2,388.9 L46.2,393.1Z" fill="#000"/>
<text x="53.2" y="369.8" text-anchor="middle" font-size="7.6">N</text>
<text x="41.3" y="539.2" font-size="13.3" font-weight="bold">Hotspot</text>
<rect x="41.6" y="544.4" width="22" height="10.6" fill="#a3c0f7" stroke="#555" stroke-width="0.7"/>
<text x="65.2" y="553.2" font-size="10.7" font-weight="bold">SHP</text>
<rect x="41.6" y="562.1" width="22" height="10.6" fill="#ebaf98" stroke="#555" stroke-width="0.7"/>
<text x="65.2" y="570.9" font-size="10.7" font-weight="bold">CDH</text>
<rect x="41.6" y="579.9" width="22" height="10.6" fill="#df6a55" stroke="#555" stroke-width="0.7"/>
<text x="65.2" y="588.7" font-size="10.7" font-weight="bold">SHP&amp;CDH</text>
<rect x="424.98" y="452.89" width="10.68" height="12.61" fill="#8f8fc4"/>
<rect x="435.66" y="419.91" width="10.68" height="45.59" fill="#d2eaee"/>
<rect x="446.34" y="460.17" width="10.68" height="5.33" fill="#e88a70"/>
<text x="441.0" y="475.3" text-anchor="middle" font-size="10.3">CSL</text>
<rect x="478.40" y="453.13" width="10.68" height="12.37" fill="#8f8fc4"/>
<rect x="489.08" y="419.43" width="10.68" height="46.07" fill="#d2eaee"/>
<rect x="499.76" y="459.92" width="10.68" height="5.58" fill="#e88a70"/>
<text x="494.4" y="475.3" text-anchor="middle" font-size="10.3">CY</text>
<rect x="531.82" y="453.38" width="10.68" height="12.12" fill="#8f8fc4"/>
<rect x="542.50" y="417.00" width="10.68" height="48.50" fill="#d2eaee"/>
<rect x="553.18" y="459.80" width="10.68" height="5.70" fill="#e88a70"/>
<text x="547.8" y="475.3" text-anchor="middle" font-size="10.3">WCS</text>
<rect x="585.24" y="448.52" width="10.68" height="16.97" fill="#8f8fc4"/>
<rect x="595.92" y="414.09" width="10.68" height="51.41" fill="#d2eaee"/>
<rect x="606.60" y="458.95" width="10.68" height="6.55" fill="#e88a70"/>
<text x="601.3" y="475.3" text-anchor="middle" font-size="10.3">SDP</text>
<rect x="638.66" y="437.13" width="10.68" height="28.37" fill="#8f8fc4"/>
<rect x="649.34" y="362.92" width="10.68" height="102.58" fill="#d2eaee"/>
<rect x="660.02" y="454.10" width="10.68" height="11.40" fill="#e88a70"/>
<text x="654.7" y="475.3" text-anchor="middle" font-size="10.3">GHM</text>
<line x1="409.79999999999995" y1="465.5" x2="412.4" y2="465.5" stroke="#333" stroke-width="0.8"/>
<text x="407.5" y="468.9" text-anchor="end" font-size="9.7">0</text>
<line x1="409.79999999999995" y1="441.2" x2="412.4" y2="441.2" stroke="#333" stroke-width="0.8"/>
<text x="407.5" y="444.6" text-anchor="end" font-size="9.7">1</text>
<line x1="409.79999999999995" y1="417.0" x2="412.4" y2="417.0" stroke="#333" stroke-width="0.8"/>
<text x="407.5" y="420.4" text-anchor="end" font-size="9.7">2</text>
<line x1="409.79999999999995" y1="392.8" x2="412.4" y2="392.8" stroke="#333" stroke-width="0.8"/>
<text x="407.5" y="396.1" text-anchor="end" font-size="9.7">3</text>
<line x1="409.79999999999995" y1="368.5" x2="412.4" y2="368.5" stroke="#333" stroke-width="0.8"/>
<text x="407.5" y="371.9" text-anchor="end" font-size="9.7">4</text>
<rect x="412.4" y="357.8" width="269.9" height="107.7" fill="none" stroke="#333" stroke-width="0.9"/>
<text x="392.3" y="361.6" font-size="15">(h)</text>
<rect x="416" y="361.3" width="116" height="39.6" rx="2" fill="#fff" fill-opacity="0.85" stroke="#d6d6d6" stroke-width="0.8"/>
<rect x="418.9" y="366.3" width="13.8" height="4.6" fill="#8f8fc4"/>
<text x="438.4" y="371.3" font-size="10.15" font-weight="bold">Frequency (times/yr)</text>
<rect x="418.9" y="378.5" width="13.8" height="4.6" fill="#d2eaee"/>
<text x="438.4" y="383.5" font-size="10.15" font-weight="bold">Duration (days/yr)</text>
<rect x="418.9" y="390.7" width="13.8" height="4.6" fill="#e88a70"/>
<text x="438.4" y="395.7" font-size="10.15" font-weight="bold">Magnitude Index</text>
<rect x="424.98" y="558.55" width="10.68" height="39.75" fill="#8f8fc4"/>
<rect x="435.66" y="520.95" width="10.68" height="77.35" fill="#d2eaee"/>
<rect x="446.34" y="548.42" width="10.68" height="49.88" fill="#e88a70"/>
<text x="441.0" y="608.1" text-anchor="middle" font-size="10.3">SDP</text>
<rect x="478.40" y="566.14" width="10.68" height="32.16" fill="#8f8fc4"/>
<rect x="489.08" y="504.36" width="10.68" height="93.94" fill="#d2eaee"/>
<rect x="499.76" y="550.07" width="10.68" height="48.23" fill="#e88a70"/>
<text x="494.4" y="608.1" text-anchor="middle" font-size="10.3">YRD</text>
<rect x="531.82" y="555.26" width="10.68" height="43.04" fill="#8f8fc4"/>
<rect x="542.50" y="518.54" width="10.68" height="79.76" fill="#d2eaee"/>
<rect x="553.18" y="542.34" width="10.68" height="55.96" fill="#e88a70"/>
<text x="547.8" y="608.1" text-anchor="middle" font-size="10.3">CP</text>
<rect x="585.24" y="556.65" width="10.68" height="41.65" fill="#8f8fc4"/>
<rect x="595.92" y="495.75" width="10.68" height="102.55" fill="#d2eaee"/>
<rect x="606.60" y="545.13" width="10.68" height="53.17" fill="#e88a70"/>
<text x="601.3" y="608.1" text-anchor="middle" font-size="10.3">WCS</text>
<rect x="638.66" y="550.95" width="10.68" height="47.35" fill="#8f8fc4"/>
<rect x="649.34" y="498.16" width="10.68" height="100.14" fill="#d2eaee"/>
<rect x="660.02" y="536.65" width="10.68" height="61.65" fill="#e88a70"/>
<text x="654.7" y="608.1" text-anchor="middle" font-size="10.3">GHM</text>
<line x1="409.79999999999995" y1="598.3" x2="412.4" y2="598.3" stroke="#333" stroke-width="0.8"/>
<text x="407.5" y="601.7" text-anchor="end" font-size="9.7">0</text>
<line x1="409.79999999999995" y1="573.0" x2="412.4" y2="573.0" stroke="#333" stroke-width="0.8"/>
<text x="407.5" y="576.4" text-anchor="end" font-size="9.7">2</text>
<line x1="409.79999999999995" y1="547.7" x2="412.4" y2="547.7" stroke="#333" stroke-width="0.8"/>
<text x="407.5" y="551.1" text-anchor="end" font-size="9.7">4</text>
<line x1="409.79999999999995" y1="522.3" x2="412.4" y2="522.3" stroke="#333" stroke-width="0.8"/>
<text x="407.5" y="525.7" text-anchor="end" font-size="9.7">6</text>
<line x1="409.79999999999995" y1="497.0" x2="412.4" y2="497.0" stroke="#333" stroke-width="0.8"/>
<text x="407.5" y="500.4" text-anchor="end" font-size="9.7">8</text>
<rect x="412.4" y="490.9" width="269.9" height="107.4" fill="none" stroke="#333" stroke-width="0.9"/>
<text x="392.3" y="484.2" font-size="15">(i)</text>
</svg></body></html>
